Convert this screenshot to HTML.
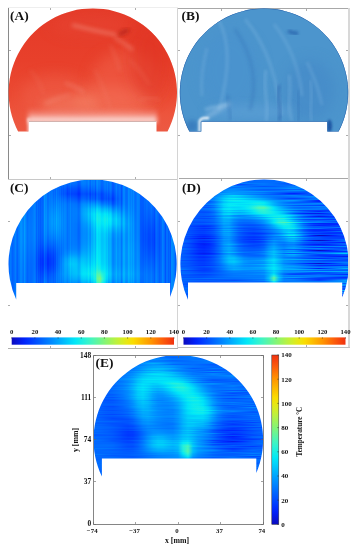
<!DOCTYPE html><html><head><meta charset="utf-8"><style>
html,body{margin:0;padding:0;background:#fff;width:359px;height:550px;overflow:hidden;position:relative}
svg{display:block;position:absolute;left:0;top:0}
.p{position:absolute;left:0;top:0;width:359px;height:550px}
.p i{position:absolute;display:block}
text{font-family:"Liberation Serif","Times New Roman",serif;font-weight:bold;fill:#111}
</style></head><body>
<div class="p" style="clip-path:path('M16.2,299.46 A84.1,84.6 0 1 1 170.1,296.95 L170.1,283 L16.2,283 Z')"><i style="left:8px;top:179px;height:122px;width:1px;background:linear-gradient(#0061ff 0px,#0061ff 5px,#0061ff 10px,#0061ff 15px,#0061ff 20px,#0061ff 25px,#0062ff 30px,#0062ff 35px,#0062ff 40px,#0063ff 45px,#0063ff 50px,#0063ff 55px,#0063ff 60px,#0063ff 65px,#0062ff 70px,#0062ff 75px,#0062ff 80px,#0062ff 85px,#0061ff 90px,#0061ff 95px,#0061ff 100px,#0061ff 105px,#0061ff 110px,#0061ff 115px,#0061ff 120px)"></i><i style="left:9px;top:179px;height:122px;width:1px;background:linear-gradient(#006cff 0px,#006cff 5px,#006cff 10px,#006cff 15px,#006cff 20px,#006dff 25px,#006dff 30px,#006dff 35px,#006eff 40px,#006eff 45px,#006eff 50px,#006eff 55px,#006eff 60px,#006eff 65px,#006eff 70px,#006dff 75px,#006dff 80px,#006dff 85px,#006cff 90px,#006cff 95px,#006cff 100px,#006cff 105px,#006cff 110px,#006cff 115px,#006cff 120px)"></i><i style="left:10px;top:179px;height:122px;width:1px;background:linear-gradient(#0078ff 0px,#0078ff 5px,#0078ff 10px,#0078ff 15px,#0079ff 20px,#0079ff 25px,#007aff 30px,#007aff 35px,#007bff 40px,#007bff 45px,#007bff 50px,#007bff 55px,#007bff 60px,#007bff 65px,#007bff 70px,#007aff 75px,#007aff 80px,#0079ff 85px,#0079ff 90px,#0079ff 95px,#0078ff 100px,#0078ff 105px,#0078ff 110px,#0078ff 115px,#0078ff 120px)"></i><i style="left:11px;top:179px;height:122px;width:1px;background:linear-gradient(#006eff 0px,#006eff 5px,#006eff 10px,#006eff 15px,#006eff 20px,#006fff 25px,#006fff 30px,#0070ff 35px,#0071ff 40px,#0071ff 45px,#0072ff 50px,#0072ff 55px,#0072ff 60px,#0071ff 65px,#0071ff 70px,#0070ff 75px,#0070ff 80px,#006fff 85px,#006fff 90px,#006eff 95px,#006eff 100px,#006eff 105px,#006eff 110px,#006eff 115px,#006eff 120px)"></i><i style="left:12px;top:179px;height:122px;width:1px;background:linear-gradient(#005fff 0px,#005fff 5px,#0060ff 10px,#0060ff 15px,#0060ff 20px,#0061ff 25px,#0061ff 30px,#0062ff 35px,#0063ff 40px,#0064ff 45px,#0064ff 50px,#0064ff 55px,#0064ff 60px,#0064ff 65px,#0063ff 70px,#0063ff 75px,#0062ff 80px,#0061ff 85px,#0060ff 90px,#0060ff 95px,#0060ff 100px,#005fff 105px,#005fff 110px,#005fff 115px,#005fff 120px)"></i><i style="left:13px;top:179px;height:122px;width:1px;background:linear-gradient(#0066ff 0px,#0066ff 5px,#0066ff 10px,#0067ff 15px,#0067ff 20px,#0068ff 25px,#0069ff 30px,#006aff 35px,#006bff 40px,#006bff 45px,#006cff 50px,#006cff 55px,#006cff 60px,#006cff 65px,#006bff 70px,#006aff 75px,#0069ff 80px,#0068ff 85px,#0068ff 90px,#0067ff 95px,#0067ff 100px,#0066ff 105px,#0066ff 110px,#0066ff 115px,#0066ff 120px)"></i><i style="left:14px;top:179px;height:122px;width:1px;background:linear-gradient(#0070ff 0px,#0070ff 5px,#0070ff 10px,#0070ff 15px,#0071ff 20px,#0072ff 25px,#0073ff 30px,#0074ff 35px,#0075ff 40px,#0076ff 45px,#0077ff 50px,#0077ff 55px,#0077ff 60px,#0076ff 65px,#0075ff 70px,#0074ff 75px,#0073ff 80px,#0072ff 85px,#0071ff 90px,#0071ff 95px,#0070ff 100px,#0070ff 105px,#0070ff 110px,#0070ff 115px,#0070ff 120px)"></i><i style="left:15px;top:179px;height:122px;width:1px;background:linear-gradient(#007bff 0px,#007bff 5px,#007cff 10px,#007cff 15px,#007dff 20px,#007eff 25px,#007fff 30px,#0080ff 35px,#0081ff 40px,#0083ff 45px,#0083ff 50px,#0084ff 55px,#0084ff 60px,#0083ff 65px,#0082ff 70px,#0081ff 75px,#007fff 80px,#007eff 85px,#007dff 90px,#007cff 95px,#007cff 100px,#007bff 105px,#007bff 110px,#007bff 115px,#007bff 120px)"></i><i style="left:16px;top:179px;height:122px;width:1px;background:linear-gradient(#0067ff 0px,#0068ff 5px,#0068ff 10px,#0068ff 15px,#0069ff 20px,#006aff 25px,#006cff 30px,#006dff 35px,#006fff 40px,#0070ff 45px,#0071ff 50px,#0071ff 55px,#0071ff 60px,#0070ff 65px,#006fff 70px,#006eff 75px,#006cff 80px,#006bff 85px,#006aff 90px,#0069ff 95px,#0068ff 100px,#0068ff 105px,#0067ff 110px,#0067ff 115px,#0067ff 120px)"></i><i style="left:17px;top:179px;height:122px;width:1px;background:linear-gradient(#005dff 0px,#005dff 5px,#005dff 10px,#005eff 15px,#005fff 20px,#0060ff 25px,#0061ff 30px,#0063ff 35px,#0065ff 40px,#0066ff 45px,#0067ff 50px,#0068ff 55px,#0068ff 60px,#0067ff 65px,#0065ff 70px,#0064ff 75px,#0062ff 80px,#0060ff 85px,#005fff 90px,#005eff 95px,#005dff 100px,#005dff 105px,#005dff 110px,#005dff 115px,#005dff 120px)"></i><i style="left:18px;top:179px;height:122px;width:1px;background:linear-gradient(#006dff 0px,#006eff 5px,#006eff 10px,#006fff 15px,#0070ff 20px,#0071ff 25px,#0073ff 30px,#0075ff 35px,#0076ff 40px,#0078ff 45px,#0079ff 50px,#007aff 55px,#007aff 60px,#0079ff 65px,#0077ff 70px,#0075ff 75px,#0073ff 80px,#0072ff 85px,#0070ff 90px,#006fff 95px,#006eff 100px,#006eff 105px,#006eff 110px,#006dff 115px,#006dff 120px)"></i><i style="left:19px;top:179px;height:122px;width:1px;background:linear-gradient(#0073ff 0px,#0074ff 5px,#0074ff 10px,#0075ff 15px,#0076ff 20px,#0077ff 25px,#0079ff 30px,#007bff 35px,#007dff 40px,#007fff 45px,#0080ff 50px,#0081ff 55px,#0081ff 60px,#0080ff 65px,#007eff 70px,#007cff 75px,#007aff 80px,#0078ff 85px,#0076ff 90px,#0075ff 95px,#0074ff 100px,#0074ff 105px,#0073ff 110px,#0073ff 115px,#0073ff 120px)"></i><i style="left:20px;top:179px;height:122px;width:1px;background:linear-gradient(#0082ff 0px,#0082ff 5px,#0083ff 10px,#0084ff 15px,#0085ff 20px,#0086ff 25px,#0088ff 30px,#008aff 35px,#008dff 40px,#008fff 45px,#0090ff 50px,#0091ff 55px,#0090ff 60px,#008fff 65px,#008dff 70px,#008bff 75px,#0089ff 80px,#0087ff 85px,#0085ff 90px,#0084ff 95px,#0083ff 100px,#0082ff 105px,#0082ff 110px,#0082ff 115px,#0082ff 120px)"></i><i style="left:21px;top:179px;height:122px;width:1px;background:linear-gradient(#0083ff 0px,#0083ff 5px,#0084ff 10px,#0085ff 15px,#0086ff 20px,#0088ff 25px,#008aff 30px,#008cff 35px,#008fff 40px,#0091ff 45px,#0092ff 50px,#0093ff 55px,#0093ff 60px,#0091ff 65px,#008fff 70px,#008dff 75px,#008aff 80px,#0088ff 85px,#0086ff 90px,#0085ff 95px,#0084ff 100px,#0084ff 105px,#0083ff 110px,#0083ff 115px,#0083ff 120px)"></i><i style="left:22px;top:179px;height:122px;width:1px;background:linear-gradient(#0078ff 0px,#0078ff 5px,#0079ff 10px,#007aff 15px,#007bff 20px,#007dff 25px,#007fff 30px,#0081ff 35px,#0084ff 40px,#0086ff 45px,#0088ff 50px,#0088ff 55px,#0088ff 60px,#0087ff 65px,#0084ff 70px,#0082ff 75px,#007fff 80px,#007dff 85px,#007bff 90px,#007aff 95px,#0079ff 100px,#0078ff 105px,#0078ff 110px,#0078ff 115px,#0078ff 120px)"></i><i style="left:23px;top:179px;height:122px;width:1px;background:linear-gradient(#0070ff 0px,#0071ff 5px,#0071ff 10px,#0072ff 15px,#0073ff 20px,#0075ff 25px,#0077ff 30px,#007aff 35px,#007dff 40px,#007fff 45px,#0080ff 50px,#0081ff 55px,#0081ff 60px,#007fff 65px,#007dff 70px,#007aff 75px,#0078ff 80px,#0075ff 85px,#0074ff 90px,#0072ff 95px,#0071ff 100px,#0071ff 105px,#0070ff 110px,#0070ff 115px,#0070ff 120px)"></i><i style="left:24px;top:179px;height:122px;width:1px;background:linear-gradient(#008cff 0px,#008cff 5px,#008dff 10px,#008eff 15px,#008fff 20px,#0091ff 25px,#0093ff 30px,#0096ff 35px,#0099ff 40px,#009bff 45px,#009dfe 50px,#009efe 55px,#009dfe 60px,#009cff 65px,#0099ff 70px,#0096ff 75px,#0093ff 80px,#0091ff 85px,#008fff 90px,#008eff 95px,#008dff 100px,#008cff 105px,#008cff 110px,#008cff 115px,#008cff 120px)"></i><i style="left:25px;top:179px;height:122px;width:1px;background:linear-gradient(#007aff 0px,#007aff 5px,#007bff 10px,#007cff 15px,#007dff 20px,#007fff 25px,#0081ff 30px,#0084ff 35px,#0087ff 40px,#0089ff 45px,#008bff 50px,#008bff 55px,#008bff 60px,#0089ff 65px,#0087ff 70px,#0084ff 75px,#0081ff 80px,#007fff 85px,#007dff 90px,#007cff 95px,#007bff 100px,#007aff 105px,#007aff 110px,#007aff 115px,#007aff 120px)"></i><i style="left:26px;top:179px;height:122px;width:1px;background:linear-gradient(#006cff 0px,#006cff 5px,#006dff 10px,#006dff 15px,#006fff 20px,#0071ff 25px,#0073ff 30px,#0075ff 35px,#0078ff 40px,#007aff 45px,#007cff 50px,#007dff 55px,#007cff 60px,#007bff 65px,#0078ff 70px,#0075ff 75px,#0072ff 80px,#0070ff 85px,#006eff 90px,#006dff 95px,#006cff 100px,#006cff 105px,#006cff 110px,#006cff 115px,#006bff 120px)"></i><i style="left:27px;top:179px;height:122px;width:1px;background:linear-gradient(#0061ff 0px,#0061ff 5px,#0061ff 10px,#0062ff 15px,#0064ff 20px,#0065ff 25px,#0067ff 30px,#006aff 35px,#006cff 40px,#006fff 45px,#0070ff 50px,#0071ff 55px,#0070ff 60px,#006fff 65px,#006cff 70px,#0069ff 75px,#0066ff 80px,#0064ff 85px,#0062ff 90px,#0062ff 95px,#0061ff 100px,#0061ff 105px,#0061ff 110px,#0060ff 115px,#0060ff 120px)"></i><i style="left:28px;top:179px;height:122px;width:1px;background:linear-gradient(#0069ff 0px,#0069ff 5px,#0069ff 10px,#006aff 15px,#006cff 20px,#006dff 25px,#006fff 30px,#0072ff 35px,#0074ff 40px,#0076ff 45px,#0078ff 50px,#0078ff 55px,#0078ff 60px,#0076ff 65px,#0073ff 70px,#0070ff 75px,#006dff 80px,#006bff 85px,#006aff 90px,#0069ff 95px,#0069ff 100px,#0069ff 105px,#0069ff 110px,#0068ff 115px,#0068ff 120px)"></i><i style="left:29px;top:179px;height:122px;width:1px;background:linear-gradient(#006dff 0px,#006eff 5px,#006eff 10px,#006fff 15px,#0070ff 20px,#0071ff 25px,#0073ff 30px,#0076ff 35px,#0078ff 40px,#007aff 45px,#007bff 50px,#007cff 55px,#007bff 60px,#0079ff 65px,#0076ff 70px,#0073ff 75px,#0070ff 80px,#006eff 85px,#006dff 90px,#006dff 95px,#006dff 100px,#006dff 105px,#006dff 110px,#006dff 115px,#006dff 120px)"></i><i style="left:30px;top:179px;height:122px;width:1px;background:linear-gradient(#006aff 0px,#006aff 5px,#006bff 10px,#006cff 15px,#006dff 20px,#006eff 25px,#0070ff 30px,#0072ff 35px,#0074ff 40px,#0076ff 45px,#0077ff 50px,#0077ff 55px,#0077ff 60px,#0075ff 65px,#0072ff 70px,#006eff 75px,#006bff 80px,#0069ff 85px,#0069ff 90px,#0069ff 95px,#0069ff 100px,#006aff 105px,#006aff 110px,#006aff 115px,#006aff 120px)"></i><i style="left:31px;top:179px;height:122px;width:1px;background:linear-gradient(#006cff 0px,#006cff 5px,#006cff 10px,#006dff 15px,#006eff 20px,#006fff 25px,#0071ff 30px,#0073ff 35px,#0075ff 40px,#0076ff 45px,#0077ff 50px,#0078ff 55px,#0077ff 60px,#0074ff 65px,#0071ff 70px,#006eff 75px,#006aff 80px,#0069ff 85px,#0068ff 90px,#0069ff 95px,#006aff 100px,#006bff 105px,#006bff 110px,#006bff 115px,#006bff 120px)"></i><i style="left:32px;top:179px;height:122px;width:1px;background:linear-gradient(#0070ff 0px,#0070ff 5px,#0071ff 10px,#0071ff 15px,#0072ff 20px,#0073ff 25px,#0075ff 30px,#0076ff 35px,#0078ff 40px,#007aff 45px,#007bff 50px,#007bff 55px,#007aff 60px,#0077ff 65px,#0074ff 70px,#0070ff 75px,#006cff 80px,#006bff 85px,#006bff 90px,#006cff 95px,#006eff 100px,#006fff 105px,#006fff 110px,#0070ff 115px,#0070ff 120px)"></i><i style="left:33px;top:179px;height:122px;width:1px;background:linear-gradient(#0077ff 0px,#0077ff 5px,#0077ff 10px,#0078ff 15px,#0079ff 20px,#007aff 25px,#007bff 30px,#007dff 35px,#007eff 40px,#007fff 45px,#0080ff 50px,#0080ff 55px,#007fff 60px,#007cff 65px,#0078ff 70px,#0074ff 75px,#0070ff 80px,#006fff 85px,#0070ff 90px,#0072ff 95px,#0074ff 100px,#0075ff 105px,#0076ff 110px,#0077ff 115px,#0077ff 120px)"></i><i style="left:34px;top:179px;height:122px;width:1px;background:linear-gradient(#007fff 0px,#007fff 5px,#007fff 10px,#0080ff 15px,#0080ff 20px,#0081ff 25px,#0083ff 30px,#0084ff 35px,#0085ff 40px,#0086ff 45px,#0087ff 50px,#0087ff 55px,#0085ff 60px,#0082ff 65px,#007dff 70px,#0078ff 75px,#0075ff 80px,#0073ff 85px,#0075ff 90px,#0078ff 95px,#007bff 100px,#007dff 105px,#007eff 110px,#007eff 115px,#007fff 120px)"></i><i style="left:35px;top:179px;height:122px;width:1px;background:linear-gradient(#0079ff 0px,#0079ff 5px,#0079ff 10px,#007aff 15px,#007aff 20px,#007bff 25px,#007cff 30px,#007dff 35px,#007eff 40px,#007fff 45px,#0080ff 50px,#007fff 55px,#007dff 60px,#007aff 65px,#0075ff 70px,#006fff 75px,#006bff 80px,#006aff 85px,#006cff 90px,#0070ff 95px,#0074ff 100px,#0076ff 105px,#0078ff 110px,#0078ff 115px,#0079ff 120px)"></i><i style="left:36px;top:179px;height:122px;width:1px;background:linear-gradient(#0060ff 0px,#0060ff 5px,#0060ff 10px,#0061ff 15px,#0061ff 20px,#0062ff 25px,#0063ff 30px,#0064ff 35px,#0065ff 40px,#0065ff 45px,#0066ff 50px,#0065ff 55px,#0063ff 60px,#005eff 65px,#0058ff 70px,#0052ff 75px,#004eff 80px,#004cff 85px,#004fff 90px,#0055ff 95px,#0059ff 100px,#005cff 105px,#005eff 110px,#005fff 115px,#0060ff 120px)"></i><i style="left:37px;top:179px;height:122px;width:1px;background:linear-gradient(#006fff 0px,#006fff 5px,#006fff 10px,#0070ff 15px,#0070ff 20px,#0071ff 25px,#0071ff 30px,#0072ff 35px,#0073ff 40px,#0074ff 45px,#0074ff 50px,#0073ff 55px,#0070ff 60px,#006bff 65px,#0064ff 70px,#005dff 75px,#0058ff 80px,#0057ff 85px,#005bff 90px,#0061ff 95px,#0067ff 100px,#006bff 105px,#006dff 110px,#006eff 115px,#006fff 120px)"></i><i style="left:38px;top:179px;height:122px;width:1px;background:linear-gradient(#005fff 0px,#005fff 5px,#005fff 10px,#0060ff 15px,#0060ff 20px,#0061ff 25px,#0061ff 30px,#0062ff 35px,#0063ff 40px,#0063ff 45px,#0063ff 50px,#0062ff 55px,#005fff 60px,#0059ff 65px,#0051ff 70px,#0049ff 75px,#0043ff 80px,#0042ff 85px,#0047ff 90px,#004fff 95px,#0055ff 100px,#005aff 105px,#005dff 110px,#005eff 115px,#005fff 120px)"></i><i style="left:39px;top:179px;height:122px;width:1px;background:linear-gradient(#0065ff 0px,#0065ff 5px,#0065ff 10px,#0065ff 15px,#0066ff 20px,#0066ff 25px,#0067ff 30px,#0068ff 35px,#0069ff 40px,#0069ff 45px,#0069ff 50px,#0067ff 55px,#0063ff 60px,#005dff 65px,#0054ff 70px,#004bff 75px,#0044ff 80px,#0043ff 85px,#0049ff 90px,#0052ff 95px,#005aff 100px,#005fff 105px,#0062ff 110px,#0064ff 115px,#0064ff 120px)"></i><i style="left:40px;top:179px;height:122px;width:1px;background:linear-gradient(#0059ff 0px,#0059ff 5px,#005aff 10px,#005aff 15px,#005aff 20px,#005bff 25px,#005cff 30px,#005dff 35px,#005dff 40px,#005eff 45px,#005dff 50px,#005bff 55px,#0057ff 60px,#004fff 65px,#0045ff 70px,#003bff 75px,#0033ff 80px,#0033ff 85px,#0039ff 90px,#0044ff 95px,#004dff 100px,#0053ff 105px,#0056ff 110px,#0058ff 115px,#0059ff 120px)"></i><i style="left:41px;top:179px;height:122px;width:1px;background:linear-gradient(#0064ff 0px,#0064ff 5px,#0064ff 10px,#0065ff 15px,#0065ff 20px,#0066ff 25px,#0067ff 30px,#0068ff 35px,#0069ff 40px,#0069ff 45px,#0068ff 50px,#0065ff 55px,#0060ff 60px,#0058ff 65px,#004dff 70px,#0042ff 75px,#0039ff 80px,#0039ff 85px,#0040ff 90px,#004cff 95px,#0056ff 100px,#005dff 105px,#0060ff 110px,#0063ff 115px,#0063ff 120px)"></i><i style="left:42px;top:179px;height:122px;width:1px;background:linear-gradient(#0061ff 0px,#0061ff 5px,#0061ff 10px,#0061ff 15px,#0062ff 20px,#0063ff 25px,#0064ff 30px,#0066ff 35px,#0066ff 40px,#0067ff 45px,#0065ff 50px,#0062ff 55px,#005dff 60px,#0053ff 65px,#0047ff 70px,#003aff 75px,#0032ff 80px,#0031ff 85px,#0039ff 90px,#0046ff 95px,#0051ff 100px,#0059ff 105px,#005dff 110px,#005fff 115px,#0060ff 120px)"></i><i style="left:43px;top:179px;height:122px;width:1px;background:linear-gradient(#006aff 0px,#006aff 5px,#006aff 10px,#006bff 15px,#006cff 20px,#006dff 25px,#006fff 30px,#0070ff 35px,#0071ff 40px,#0071ff 45px,#0070ff 50px,#006cff 55px,#0066ff 60px,#005cff 65px,#004eff 70px,#0040ff 75px,#0037ff 80px,#0036ff 85px,#0040ff 90px,#004eff 95px,#005aff 100px,#0061ff 105px,#0066ff 110px,#0068ff 115px,#0069ff 120px)"></i><i style="left:44px;top:179px;height:122px;width:1px;background:linear-gradient(#0091ff 0px,#0091ff 5px,#0091ff 10px,#0092ff 15px,#0093ff 20px,#0095ff 25px,#0097ff 30px,#0099ff 35px,#009bff 40px,#009bff 45px,#0099ff 50px,#0094ff 55px,#008dff 60px,#0082ff 65px,#0073ff 70px,#0065ff 75px,#005bff 80px,#005aff 85px,#0064ff 90px,#0073ff 95px,#0080ff 100px,#0088ff 105px,#008cff 110px,#008fff 115px,#0090ff 120px)"></i><i style="left:45px;top:179px;height:122px;width:1px;background:linear-gradient(#007fff 0px,#007fff 5px,#0080ff 10px,#0081ff 15px,#0082ff 20px,#0085ff 25px,#0087ff 30px,#008aff 35px,#008cff 40px,#008cff 45px,#0089ff 50px,#0084ff 55px,#007cff 60px,#0070ff 65px,#0061ff 70px,#0051ff 75px,#0047ff 80px,#0046ff 85px,#0051ff 90px,#0060ff 95px,#006eff 100px,#0076ff 105px,#007bff 110px,#007dff 115px,#007eff 120px)"></i><i style="left:46px;top:179px;height:122px;width:1px;background:linear-gradient(#0080ff 0px,#0080ff 5px,#0081ff 10px,#0082ff 15px,#0084ff 20px,#0087ff 25px,#008bff 30px,#008eff 35px,#0090ff 40px,#0090ff 45px,#008dff 50px,#0088ff 55px,#007eff 60px,#0071ff 65px,#0061ff 70px,#0051ff 75px,#0046ff 80px,#0046ff 85px,#0051ff 90px,#0061ff 95px,#006eff 100px,#0077ff 105px,#007cff 110px,#007eff 115px,#007fff 120px)"></i><i style="left:47px;top:179px;height:122px;width:1px;background:linear-gradient(#0069ff 0px,#0069ff 5px,#006aff 10px,#006bff 15px,#006eff 20px,#0071ff 25px,#0076ff 30px,#007aff 35px,#007cff 40px,#007cff 45px,#0079ff 50px,#0073ff 55px,#0069ff 60px,#005bff 65px,#004aff 70px,#0038ff 75px,#002dff 80px,#002dff 85px,#0038ff 90px,#004aff 95px,#0057ff 100px,#005fff 105px,#0064ff 110px,#0067ff 115px,#0068ff 120px)"></i><i style="left:48px;top:179px;height:122px;width:1px;background:linear-gradient(#0068ff 0px,#0069ff 5px,#006aff 10px,#006bff 15px,#006fff 20px,#0073ff 25px,#0078ff 30px,#007dff 35px,#0080ff 40px,#0080ff 45px,#007dff 50px,#0075ff 55px,#006aff 60px,#005cff 65px,#004aff 70px,#0039ff 75px,#002dff 80px,#002dff 85px,#0039ff 90px,#004aff 95px,#0058ff 100px,#005fff 105px,#0064ff 110px,#0067ff 115px,#0068ff 120px)"></i><i style="left:49px;top:179px;height:122px;width:1px;background:linear-gradient(#0073ff 0px,#0073ff 5px,#0074ff 10px,#0076ff 15px,#007aff 20px,#007fff 25px,#0086ff 30px,#008bff 35px,#008fff 40px,#008fff 45px,#008bff 50px,#0083ff 55px,#0077ff 60px,#0067ff 65px,#0056ff 70px,#0044ff 75px,#0039ff 80px,#0039ff 85px,#0045ff 90px,#0056ff 95px,#0063ff 100px,#006aff 105px,#006eff 110px,#0071ff 115px,#0072ff 120px)"></i><i style="left:50px;top:179px;height:122px;width:1px;background:linear-gradient(#0070ff 0px,#0070ff 5px,#0071ff 10px,#0073ff 15px,#0078ff 20px,#007eff 25px,#0085ff 30px,#008cff 35px,#0090ff 40px,#0090ff 45px,#008cff 50px,#0083ff 55px,#0076ff 60px,#0066ff 65px,#0054ff 70px,#0043ff 75px,#0039ff 80px,#0039ff 85px,#0044ff 90px,#0056ff 95px,#0062ff 100px,#0068ff 105px,#006bff 110px,#006eff 115px,#006fff 120px)"></i><i style="left:51px;top:179px;height:122px;width:1px;background:linear-gradient(#0073ff 0px,#0074ff 5px,#0074ff 10px,#0077ff 15px,#007cff 20px,#0083ff 25px,#008bff 30px,#0093ff 35px,#0098ff 40px,#0098ff 45px,#0093ff 50px,#0089ff 55px,#007cff 60px,#006cff 65px,#005aff 70px,#004aff 75px,#0040ff 80px,#0040ff 85px,#004bff 90px,#005cff 95px,#0067ff 100px,#006cff 105px,#006fff 110px,#0071ff 115px,#0073ff 120px)"></i><i style="left:52px;top:179px;height:122px;width:1px;background:linear-gradient(#0072ff 0px,#0072ff 5px,#0072ff 10px,#0075ff 15px,#007bff 20px,#0083ff 25px,#008cff 30px,#0094ff 35px,#009aff 40px,#009aff 45px,#0094ff 50px,#008aff 55px,#007dff 60px,#006dff 65px,#005bff 70px,#004cff 75px,#0043ff 80px,#0043ff 85px,#004eff 90px,#005eff 95px,#0068ff 100px,#006cff 105px,#006eff 110px,#0070ff 115px,#0071ff 120px)"></i><i style="left:53px;top:179px;height:122px;width:1px;background:linear-gradient(#0065ff 0px,#0065ff 5px,#0065ff 10px,#0067ff 15px,#006fff 20px,#0078ff 25px,#0081ff 30px,#0089ff 35px,#008fff 40px,#008fff 45px,#008aff 50px,#007fff 55px,#0072ff 60px,#0062ff 65px,#0051ff 70px,#0043ff 75px,#003bff 80px,#003bff 85px,#0046ff 90px,#0055ff 95px,#005eff 100px,#0060ff 105px,#0062ff 110px,#0064ff 115px,#0065ff 120px)"></i><i style="left:54px;top:179px;height:122px;width:1px;background:linear-gradient(#0070ff 0px,#0070ff 5px,#006eff 10px,#0071ff 15px,#0079ff 20px,#0083ff 25px,#008dff 30px,#0095ff 35px,#009bff 40px,#009cff 45px,#0096ff 50px,#008cff 55px,#007eff 60px,#006eff 65px,#005fff 70px,#0052ff 75px,#004bff 80px,#004dff 85px,#0056ff 90px,#0064ff 95px,#006cff 100px,#006cff 105px,#006dff 110px,#006fff 115px,#006fff 120px)"></i><i style="left:55px;top:179px;height:122px;width:1px;background:linear-gradient(#0066ff 0px,#0065ff 5px,#0063ff 10px,#0065ff 15px,#006fff 20px,#0079ff 25px,#0083ff 30px,#008cff 35px,#0091ff 40px,#0092ff 45px,#008cff 50px,#0082ff 55px,#0075ff 60px,#0066ff 65px,#0058ff 70px,#004cff 75px,#0048ff 80px,#0049ff 85px,#0052ff 90px,#005fff 95px,#0065ff 100px,#0064ff 105px,#0064ff 110px,#0065ff 115px,#0066ff 120px)"></i><i style="left:56px;top:179px;height:122px;width:1px;background:linear-gradient(#007fff 0px,#007dff 5px,#007aff 10px,#007cff 15px,#0086ff 20px,#0091ff 25px,#009bff 30px,#00a4fe 35px,#00aafd 40px,#00aafd 45px,#00a5fe 50px,#009bff 55px,#008eff 60px,#0080ff 65px,#0073ff 70px,#006aff 75px,#0067ff 80px,#0069ff 85px,#0071ff 90px,#007dff 95px,#0081ff 100px,#007eff 105px,#007dff 110px,#007eff 115px,#007fff 120px)"></i><i style="left:57px;top:179px;height:122px;width:1px;background:linear-gradient(#0071ff 0px,#006fff 5px,#0069ff 10px,#006bff 15px,#0076ff 20px,#0082ff 25px,#008bff 30px,#0094ff 35px,#0099ff 40px,#0099ff 45px,#0094ff 50px,#008bff 55px,#0080ff 60px,#0073ff 65px,#0068ff 70px,#0061ff 75px,#0060ff 80px,#0062ff 85px,#006aff 90px,#0074ff 95px,#0076ff 100px,#0072ff 105px,#0070ff 110px,#0070ff 115px,#0071ff 120px)"></i><i style="left:58px;top:179px;height:122px;width:1px;background:linear-gradient(#0077ff 0px,#0074ff 5px,#006cff 10px,#006dff 15px,#007aff 20px,#0087ff 25px,#0090ff 30px,#0097ff 35px,#009cfe 40px,#009cfe 45px,#0098ff 50px,#008fff 55px,#0085ff 60px,#007aff 65px,#0070ff 70px,#006bff 75px,#006dff 80px,#0070ff 85px,#0076ff 90px,#007fff 95px,#007fff 100px,#007aff 105px,#0077ff 110px,#0077ff 115px,#0077ff 120px)"></i><i style="left:59px;top:179px;height:122px;width:1px;background:linear-gradient(#0073ff 0px,#006fff 5px,#0065ff 10px,#0064ff 15px,#0073ff 20px,#0080ff 25px,#0088ff 30px,#008fff 35px,#0093ff 40px,#0094ff 45px,#0090ff 50px,#0089ff 55px,#007fff 60px,#0076ff 65px,#006eff 70px,#006bff 75px,#0070ff 80px,#0073ff 85px,#0078ff 90px,#007fff 95px,#007eff 100px,#0077ff 105px,#0073ff 110px,#0072ff 115px,#0073ff 120px)"></i><i style="left:60px;top:179px;height:122px;width:1px;background:linear-gradient(#007bff 0px,#0076ff 5px,#0069ff 10px,#0068ff 15px,#0079ff 20px,#0086ff 25px,#008eff 30px,#0094ff 35px,#0098ff 40px,#0098ff 45px,#0094ff 50px,#008eff 55px,#0086ff 60px,#007eff 65px,#0078ff 70px,#0078ff 75px,#007fff 80px,#0083ff 85px,#0087ff 90px,#008cff 95px,#0089ff 100px,#0080ff 105px,#007bff 110px,#007bff 115px,#007bff 120px)"></i><i style="left:61px;top:179px;height:122px;width:1px;background:linear-gradient(#006dff 0px,#0068ff 5px,#0059ff 10px,#0056ff 15px,#0069ff 20px,#0077ff 25px,#007eff 30px,#0083ff 35px,#0086ff 40px,#0086ff 45px,#0083ff 50px,#007eff 55px,#0078ff 60px,#0071ff 65px,#006cff 70px,#006fff 75px,#0079ff 80px,#007eff 85px,#0080ff 90px,#0084ff 95px,#007fff 100px,#0074ff 105px,#006fff 110px,#006eff 115px,#006eff 120px)"></i><i style="left:62px;top:179px;height:122px;width:1px;background:linear-gradient(#0079ff 0px,#0072ff 5px,#0060ff 10px,#005dff 15px,#0071ff 20px,#0080ff 25px,#0086ff 30px,#008bff 35px,#008dff 40px,#008dff 45px,#008bff 50px,#0087ff 55px,#0081ff 60px,#007cff 65px,#0079ff 70px,#007eff 75px,#008bff 80px,#0091ff 85px,#0091ff 90px,#0094ff 95px,#008dff 100px,#0081ff 105px,#007aff 110px,#0079ff 115px,#0079ff 120px)"></i><i style="left:63px;top:179px;height:122px;width:1px;background:linear-gradient(#0072ff 0px,#006aff 5px,#0056ff 10px,#0052ff 15px,#0067ff 20px,#0077ff 25px,#007dff 30px,#0080ff 35px,#0082ff 40px,#0082ff 45px,#0081ff 50px,#007dff 55px,#0079ff 60px,#0075ff 65px,#0074ff 70px,#007bff 75px,#008bff 80px,#0092ff 85px,#0090ff 90px,#0091ff 95px,#0089ff 100px,#007bff 105px,#0074ff 110px,#0073ff 115px,#0072ff 120px)"></i><i style="left:64px;top:179px;height:122px;width:1px;background:linear-gradient(#007dff 0px,#0075ff 5px,#0060ff 10px,#005aff 15px,#0070ff 20px,#0081ff 25px,#0087ff 30px,#0089ff 35px,#008bff 40px,#008bff 45px,#0089ff 50px,#0087ff 55px,#0083ff 60px,#0081ff 65px,#0081ff 70px,#008bff 75px,#009dfe 80px,#00a5fe 85px,#00a3fe 90px,#00a2fe 95px,#0098ff 100px,#0089ff 105px,#0080ff 110px,#007fff 115px,#007eff 120px)"></i><i style="left:65px;top:179px;height:122px;width:1px;background:linear-gradient(#007cff 0px,#0073ff 5px,#005cff 10px,#0055ff 15px,#006dff 20px,#007eff 25px,#0084ff 30px,#0086ff 35px,#0087ff 40px,#0087ff 45px,#0086ff 50px,#0084ff 55px,#0081ff 60px,#007fff 65px,#0081ff 70px,#008dff 75px,#00a3fe 80px,#00abfd 85px,#00a7fe 90px,#00a5fe 95px,#009aff 100px,#0089ff 105px,#0080ff 110px,#007eff 115px,#007dff 120px)"></i><i style="left:66px;top:179px;height:122px;width:1px;background:linear-gradient(#0076ff 0px,#006dff 5px,#0055ff 10px,#004cff 15px,#0065ff 20px,#0077ff 25px,#007cff 30px,#007eff 35px,#007fff 40px,#007fff 45px,#007eff 50px,#007cff 55px,#007aff 60px,#0079ff 65px,#007cff 70px,#008aff 75px,#00a3fe 80px,#00acfd 85px,#00a7fe 90px,#00a3fe 95px,#0096ff 100px,#0084ff 105px,#007aff 110px,#0078ff 115px,#0077ff 120px)"></i><i style="left:67px;top:179px;height:122px;width:1px;background:linear-gradient(#0069ff 0px,#0060ff 5px,#0046ff 10px,#003cff 15px,#0056ff 20px,#0069ff 25px,#006eff 30px,#006fff 35px,#0070ff 40px,#006fff 45px,#006fff 50px,#006eff 55px,#006dff 60px,#006cff 65px,#0070ff 70px,#0080ff 75px,#009aff 80px,#00a4fe 85px,#009efe 90px,#0099ff 95px,#008cff 100px,#0078ff 105px,#006dff 110px,#006bff 115px,#006aff 120px)"></i><i style="left:68px;top:179px;height:122px;width:1px;background:linear-gradient(#0074ff 0px,#006aff 5px,#0050ff 10px,#0045ff 15px,#005fff 20px,#0073ff 25px,#0078ff 30px,#0079ff 35px,#0079ff 40px,#0079ff 45px,#0078ff 50px,#0077ff 55px,#0077ff 60px,#0077ff 65px,#007bff 70px,#008dff 75px,#00aafd 80px,#00b5fc 85px,#00aefd 90px,#00a8fd 95px,#0099ff 100px,#0084ff 105px,#0078ff 110px,#0076ff 115px,#0075ff 120px)"></i><i style="left:69px;top:179px;height:122px;width:1px;background:linear-gradient(#0076ff 0px,#006cff 5px,#0051ff 10px,#0046ff 15px,#0060ff 20px,#0074ff 25px,#0079ff 30px,#007aff 35px,#007aff 40px,#007aff 45px,#0079ff 50px,#0079ff 55px,#0078ff 60px,#0079ff 65px,#007eff 70px,#0092ff 75px,#00b0fd 80px,#00bcfc 85px,#00b4fc 90px,#00aefd 95px,#009efe 100px,#0087ff 105px,#007bff 110px,#0078ff 115px,#0077ff 120px)"></i><i style="left:70px;top:179px;height:122px;width:1px;background:linear-gradient(#0084ff 0px,#007aff 5px,#005fff 10px,#0053ff 15px,#006dff 20px,#0082ff 25px,#0087ff 30px,#0088ff 35px,#0088ff 40px,#0087ff 45px,#0087ff 50px,#0086ff 55px,#0086ff 60px,#0087ff 65px,#008dff 70px,#00a2fe 75px,#00c3fb 80px,#00cffa 85px,#00c7fb 90px,#00c0fb 95px,#00affd 100px,#0096ff 105px,#0089ff 110px,#0086ff 115px,#0085ff 120px)"></i><i style="left:71px;top:179px;height:122px;width:1px;background:linear-gradient(#0074ff 0px,#006bff 5px,#0050ff 10px,#0042ff 15px,#005cff 20px,#0072ff 25px,#0078ff 30px,#0079ff 35px,#0078ff 40px,#0077ff 45px,#0077ff 50px,#0077ff 55px,#0077ff 60px,#0078ff 65px,#007fff 70px,#0094ff 75px,#00b5fc 80px,#00c2fb 85px,#00bafc 90px,#00b4fc 95px,#00a2fe 100px,#0088ff 105px,#007bff 110px,#0077ff 115px,#0076ff 120px)"></i><i style="left:72px;top:179px;height:122px;width:1px;background:linear-gradient(#0077ff 0px,#006eff 5px,#0053ff 10px,#0045ff 15px,#005eff 20px,#0075ff 25px,#007bff 30px,#007cff 35px,#007bff 40px,#007aff 45px,#0079ff 50px,#0079ff 55px,#007aff 60px,#007cff 65px,#0083ff 70px,#0098ff 75px,#00bafc 80px,#00c7fb 85px,#00c0fb 90px,#00bafc 95px,#00a7fe 100px,#008cff 105px,#007eff 110px,#007aff 115px,#0079ff 120px)"></i><i style="left:73px;top:179px;height:122px;width:1px;background:linear-gradient(#0078ff 0px,#006fff 5px,#0054ff 10px,#0045ff 15px,#005eff 20px,#0076ff 25px,#007dff 30px,#007eff 35px,#007dff 40px,#007bff 45px,#007aff 50px,#007aff 55px,#007bff 60px,#007dff 65px,#0084ff 70px,#009aff 75px,#00bcfc 80px,#00cafb 85px,#00c3fb 90px,#00befc 95px,#00abfd 100px,#008eff 105px,#007fff 110px,#007bff 115px,#007aff 120px)"></i><i style="left:74px;top:179px;height:122px;width:1px;background:linear-gradient(#0076ff 0px,#006eff 5px,#0053ff 10px,#0043ff 15px,#005cff 20px,#0075ff 25px,#007cff 30px,#007dff 35px,#007cff 40px,#0079ff 45px,#0078ff 50px,#0078ff 55px,#0079ff 60px,#007cff 65px,#0083ff 70px,#0099ff 75px,#00bafc 80px,#00c8fb 85px,#00c4fb 90px,#00bffb 95px,#00abfd 100px,#008eff 105px,#007eff 110px,#0079ff 115px,#0078ff 120px)"></i><i style="left:75px;top:179px;height:122px;width:1px;background:linear-gradient(#0074ff 0px,#006cff 5px,#0052ff 10px,#0041ff 15px,#005aff 20px,#0073ff 25px,#007cff 30px,#007dff 35px,#007bff 40px,#0078ff 45px,#0077ff 50px,#0077ff 55px,#0078ff 60px,#007aff 65px,#0082ff 70px,#0098ff 75px,#00b8fc 80px,#00c7fb 85px,#00c4fb 90px,#00c0fb 95px,#00acfd 100px,#008dff 105px,#007dff 110px,#0077ff 115px,#0076ff 120px)"></i><i style="left:76px;top:179px;height:122px;width:1px;background:linear-gradient(#0073ff 0px,#006bff 5px,#0051ff 10px,#003fff 15px,#0058ff 20px,#0073ff 25px,#007cff 30px,#007eff 35px,#007bff 40px,#0078ff 45px,#0076ff 50px,#0076ff 55px,#0077ff 60px,#007aff 65px,#0082ff 70px,#0097ff 75px,#00b7fc 80px,#00c5fb 85px,#00c4fb 90px,#00c2fb 95px,#00adfd 100px,#008eff 105px,#007cff 110px,#0077ff 115px,#0075ff 120px)"></i><i style="left:77px;top:179px;height:122px;width:1px;background:linear-gradient(#006aff 0px,#0062ff 5px,#0049ff 10px,#0036ff 15px,#004fff 20px,#006bff 25px,#0075ff 30px,#0077ff 35px,#0074ff 40px,#0070ff 45px,#006dff 50px,#006dff 55px,#006eff 60px,#0072ff 65px,#007aff 70px,#008eff 75px,#00acfd 80px,#00bbfc 85px,#00bcfc 90px,#00bbfc 95px,#00a6fe 100px,#0086ff 105px,#0074ff 110px,#006eff 115px,#006cff 120px)"></i><i style="left:78px;top:179px;height:122px;width:1px;background:linear-gradient(#0060ff 0px,#0059ff 5px,#0040ff 10px,#002dff 15px,#0045ff 20px,#0062ff 25px,#006eff 30px,#0070ff 35px,#006dff 40px,#0068ff 45px,#0064ff 50px,#0064ff 55px,#0066ff 60px,#006aff 65px,#0072ff 70px,#0086ff 75px,#00a1fe 80px,#00b0fd 85px,#00b3fc 90px,#00b4fc 95px,#009ffe 100px,#007eff 105px,#006bff 110px,#0065ff 115px,#0063ff 120px)"></i><i style="left:79px;top:179px;height:122px;width:1px;background:linear-gradient(#0063ff 0px,#005cff 5px,#0043ff 10px,#002fff 15px,#0047ff 20px,#0066ff 25px,#0073ff 30px,#0076ff 35px,#0072ff 40px,#006bff 45px,#0068ff 50px,#0067ff 55px,#0069ff 60px,#006dff 65px,#0075ff 70px,#0088ff 75px,#00a2fe 80px,#00b1fd 85px,#00b7fc 90px,#00bafc 95px,#00a4fe 100px,#0082ff 105px,#006fff 110px,#0068ff 115px,#0065ff 120px)"></i><i style="left:80px;top:179px;height:122px;width:1px;background:linear-gradient(#006fff 0px,#0068ff 5px,#0050ff 10px,#003cff 15px,#0053ff 20px,#0074ff 25px,#0082ff 30px,#0085ff 35px,#0081ff 40px,#0079ff 45px,#0075ff 50px,#0074ff 55px,#0076ff 60px,#007aff 65px,#0083ff 70px,#0095ff 75px,#00aefd 80px,#00bdfc 85px,#00c5fb 90px,#00c9fb 95px,#00b3fd 100px,#0090ff 105px,#007bff 110px,#0074ff 115px,#0071ff 120px)"></i><i style="left:81px;top:179px;height:122px;width:1px;background:linear-gradient(#007fff 0px,#0079ff 5px,#0061ff 10px,#004dff 15px,#0063ff 20px,#0085ff 25px,#0096ff 30px,#009aff 35px,#0094ff 40px,#008cff 45px,#0086ff 50px,#0085ff 55px,#0087ff 60px,#008cff 65px,#0095ff 70px,#00a6fe 75px,#00befc 80px,#00cdfa 85px,#00d7f9 90px,#00dcf9 95px,#00c7fb 100px,#00a2fe 105px,#008cff 110px,#0085ff 115px,#0082ff 120px)"></i><i style="left:82px;top:179px;height:122px;width:1px;background:linear-gradient(#0081ff 0px,#007cff 5px,#0065ff 10px,#004fff 15px,#0066ff 20px,#0089ff 25px,#009cfe 30px,#00a1fe 35px,#009aff 40px,#0090ff 45px,#008aff 50px,#0088ff 55px,#008bff 60px,#008fff 65px,#0099ff 70px,#00aafd 75px,#00bffb 80px,#00cefa 85px,#00daf9 90px,#00e1f9 95px,#00cbfa 100px,#00a6fe 105px,#0090ff 110px,#0087ff 115px,#0084ff 120px)"></i><i style="left:83px;top:179px;height:122px;width:1px;background:linear-gradient(#0083ff 0px,#007eff 5px,#0067ff 10px,#0052ff 15px,#0068ff 20px,#008dff 25px,#00a2fe 30px,#00a8fd 35px,#00a1fe 40px,#0095ff 45px,#008eff 50px,#008cff 55px,#008eff 60px,#0093ff 65px,#009dfe 70px,#00adfd 75px,#00c1fb 80px,#00d0fa 85px,#00ddf9 90px,#00e5f8 95px,#00cffa 100px,#00aafd 105px,#0092ff 110px,#008aff 115px,#0086ff 120px)"></i><i style="left:84px;top:179px;height:122px;width:1px;background:linear-gradient(#0081ff 0px,#007cff 5px,#0066ff 10px,#0050ff 15px,#0066ff 20px,#008dff 25px,#00a4fe 30px,#00abfd 35px,#00a3fe 40px,#0097ff 45px,#008eff 50px,#008cff 55px,#008eff 60px,#0093ff 65px,#009dfe 70px,#00acfd 75px,#00bffc 80px,#00cdfa 85px,#00dcf9 90px,#00e5f8 95px,#00cffa 100px,#00a9fd 105px,#0091ff 110px,#0088ff 115px,#0084ff 120px)"></i><i style="left:85px;top:179px;height:122px;width:1px;background:linear-gradient(#007fff 0px,#007bff 5px,#0065ff 10px,#004eff 15px,#0064ff 20px,#008dff 25px,#00a7fe 30px,#00affd 35px,#00a7fe 40px,#0099ff 45px,#008fff 50px,#008dff 55px,#008eff 60px,#0094ff 65px,#009dfe 70px,#00acfd 75px,#00bdfc 80px,#00cbfa 85px,#00dcf9 90px,#00e5f8 95px,#00cffa 100px,#00a8fd 105px,#0090ff 110px,#0086ff 115px,#0082ff 120px)"></i><i style="left:86px;top:179px;height:122px;width:1px;background:linear-gradient(#0079ff 0px,#0074ff 5px,#0060ff 10px,#0048ff 15px,#005dff 20px,#0088ff 25px,#00a4fe 30px,#00aefd 35px,#00a6fe 40px,#0096ff 45px,#008cff 50px,#0089ff 55px,#008bff 60px,#0090ff 65px,#0099ff 70px,#00a7fe 75px,#00b7fc 80px,#00c5fb 85px,#00d6fa 90px,#00e1f9 95px,#00cafb 100px,#00a3fe 105px,#008aff 110px,#0080ff 115px,#007cff 120px)"></i><i style="left:87px;top:179px;height:122px;width:1px;background:linear-gradient(#007cff 0px,#0078ff 5px,#0064ff 10px,#004cff 15px,#0060ff 20px,#008dff 25px,#00acfd 30px,#00b7fc 35px,#00affd 40px,#009ffe 45px,#0093ff 50px,#0090ff 55px,#0091ff 60px,#0097ff 65px,#00a0fe 70px,#00adfd 75px,#00bcfc 80px,#00cafb 85px,#00dbf9 90px,#00e6f8 95px,#00d0fa 100px,#00a8fd 105px,#008eff 110px,#0083ff 115px,#007fff 120px)"></i><i style="left:88px;top:179px;height:122px;width:1px;background:linear-gradient(#0089ff 0px,#0085ff 5px,#0071ff 10px,#0059ff 15px,#006dff 20px,#009cff 25px,#00befc 30px,#00cbfa 35px,#00c3fb 40px,#00b2fd 45px,#00a6fe 50px,#00a1fe 55px,#00a3fe 60px,#00a8fd 65px,#00b1fd 70px,#00bdfc 75px,#00cbfa 80px,#00d9f9 85px,#03e9f6 90px,#0eebed 95px,#00dff9 100px,#00b7fc 105px,#009cff 110px,#0090ff 115px,#008cff 120px)"></i><i style="left:89px;top:179px;height:122px;width:1px;background:linear-gradient(#0078ff 0px,#0074ff 5px,#0061ff 10px,#0049ff 15px,#005cff 20px,#008cff 25px,#00b0fd 30px,#00bffb 35px,#00b8fc 40px,#00a7fe 45px,#009aff 50px,#0095ff 55px,#0096ff 60px,#009bff 65px,#00a4fe 70px,#00affd 75px,#00bcfc 80px,#00c9fb 85px,#00dcf9 90px,#00e7f8 95px,#00d0fa 100px,#00a7fe 105px,#008bff 110px,#0080ff 115px,#007bff 120px)"></i><i style="left:90px;top:179px;height:122px;width:1px;background:linear-gradient(#006bff 0px,#0068ff 5px,#0056ff 10px,#003dff 15px,#004fff 20px,#0081ff 25px,#00a7fe 30px,#00b8fc 35px,#00b2fd 40px,#00a1fe 45px,#0093ff 50px,#008eff 55px,#008fff 60px,#0094ff 65px,#009cff 70px,#00a6fe 75px,#00b2fd 80px,#00bffc 85px,#00d1fa 90px,#00ddf9 95px,#00c6fb 100px,#009cfe 105px,#0080ff 110px,#0073ff 115px,#006eff 120px)"></i><i style="left:91px;top:179px;height:122px;width:1px;background:linear-gradient(#0082ff 0px,#007fff 5px,#006eff 10px,#0055ff 15px,#0066ff 20px,#0099ff 25px,#00c3fb 30px,#00d6fa 35px,#00d1fa 40px,#00c0fb 45px,#00b2fd 50px,#00adfd 55px,#00adfd 60px,#00b2fd 65px,#00b9fc 70px,#00c3fb 75px,#00cefa 80px,#00daf9 85px,#05e9f4 90px,#11ecea 95px,#00e3f8 100px,#00b8fc 105px,#0099ff 110px,#008bff 115px,#0086ff 120px)"></i><i style="left:92px;top:179px;height:122px;width:1px;background:linear-gradient(#007bff 0px,#0078ff 5px,#0067ff 10px,#004eff 15px,#005eff 20px,#0092ff 25px,#00befc 30px,#00d4fa 35px,#00d0fa 40px,#00c0fb 45px,#00b2fd 50px,#00acfd 55px,#00acfd 60px,#00b0fd 65px,#00b7fc 70px,#00c1fb 75px,#00cbfb 80px,#00d6fa 85px,#01e8f7 90px,#0eebed 95px,#00e2f9 100px,#00b6fc 105px,#0093ff 110px,#0083ff 115px,#007eff 120px)"></i><i style="left:93px;top:179px;height:122px;width:1px;background:linear-gradient(#007fff 0px,#007cff 5px,#006cff 10px,#0053ff 15px,#0062ff 20px,#0097ff 25px,#00c5fb 30px,#00ddf9 35px,#00dcf9 40px,#00ccfa 45px,#00befc 50px,#00b8fc 55px,#00b8fc 60px,#00bcfc 65px,#00c2fb 70px,#00cbfb 75px,#00d4fa 80px,#00dff9 85px,#09eaf1 90px,#19ede4 95px,#08eaf1 100px,#00c4fb 105px,#009cff 110px,#0088ff 115px,#0082ff 120px)"></i><i style="left:94px;top:179px;height:122px;width:1px;background:linear-gradient(#0080ff 0px,#007eff 5px,#006eff 10px,#0055ff 15px,#0062ff 20px,#0098ff 25px,#00c9fb 30px,#00e3f8 35px,#00e4f8 40px,#00d5fa 45px,#00c7fb 50px,#00c1fb 55px,#00c0fb 60px,#00c3fb 65px,#00c9fb 70px,#00d1fa 75px,#00d9f9 80px,#00e4f8 85px,#0eebed 90px,#22efdd 95px,#18ede5 100px,#00d2fa 105px,#00a2fe 110px,#008aff 115px,#0083ff 120px)"></i><i style="left:95px;top:179px;height:122px;width:1px;background:linear-gradient(#006bff 0px,#0068ff 5px,#0059ff 10px,#003fff 15px,#004cff 20px,#0082ff 25px,#00b4fc 30px,#00d0fa 35px,#00d3fa 40px,#00c6fb 45px,#00b8fc 50px,#00b1fd 55px,#00b0fd 60px,#00b3fd 65px,#00b9fc 70px,#00bffb 75px,#00c7fb 80px,#00d1fa 85px,#00e3f8 90px,#15ede7 95px,#14ece8 100px,#00cdfa 105px,#0093ff 110px,#0074ff 115px,#006eff 120px)"></i><i style="left:96px;top:179px;height:122px;width:1px;background:linear-gradient(#0087ff 0px,#0085ff 5px,#0077ff 10px,#005dff 15px,#0068ff 20px,#009efe 25px,#00d3fa 30px,#0aeaf0 35px,#10ebec 40px,#03e9f6 45px,#00ddf9 50px,#00d6fa 55px,#00d4fa 60px,#00d7f9 65px,#00dcf9 70px,#00e2f8 75px,#01e8f7 80px,#0beaef 85px,#1deee1 90px,#3ff5c4 95px,#4cf5b6 100px,#1aeee3 105px,#00bbfc 110px,#0092ff 115px,#008aff 120px)"></i><i style="left:97px;top:179px;height:122px;width:1px;background:linear-gradient(#008eff 0px,#008cff 5px,#007fff 10px,#0065ff 15px,#006eff 20px,#00a4fe 25px,#00dbf9 30px,#15ece7 35px,#1ceee1 40px,#11eceb 45px,#03e9f6 50px,#00e3f8 55px,#00e1f9 60px,#00e4f8 65px,#00e8f8 70px,#06e9f3 75px,#0cebee 80px,#15ede7 85px,#28f1d8 90px,#55f5ab 95px,#70f58d 100px,#38f4cb 105px,#00ccfa 110px,#009aff 115px,#0091ff 120px)"></i><i style="left:98px;top:179px;height:122px;width:1px;background:linear-gradient(#0080ff 0px,#007eff 5px,#0071ff 10px,#0058ff 15px,#005fff 20px,#0094ff 25px,#00ccfa 30px,#08eaf2 35px,#11ecea 40px,#07e9f2 45px,#00e1f9 50px,#00d8f9 55px,#00d7f9 60px,#00d9f9 65px,#00ddf9 70px,#00e2f9 75px,#00e7f8 80px,#07eaf2 85px,#1aeee3 90px,#4ef5b4 95px,#75f587 100px,#3cf5c7 105px,#00c5fb 110px,#008cff 115px,#0083ff 120px)"></i><i style="left:99px;top:179px;height:122px;width:1px;background:linear-gradient(#0080ff 0px,#007eff 5px,#0072ff 10px,#0058ff 15px,#005dff 20px,#0091ff 25px,#00cafb 30px,#08eaf1 35px,#14ece8 40px,#0aeaf0 45px,#00e4f8 50px,#00dbf9 55px,#00d9f9 60px,#00daf9 65px,#00def9 70px,#00e3f8 75px,#00e7f8 80px,#07eaf2 85px,#1aeee4 90px,#52f5af 95px,#80f57a 100px,#48f5ba 105px,#00c8fb 110px,#008bff 115px,#0082ff 120px)"></i><i style="left:100px;top:179px;height:122px;width:1px;background:linear-gradient(#0078ff 0px,#0077ff 5px,#006bff 10px,#0051ff 15px,#0054ff 20px,#0088ff 25px,#00c2fb 30px,#01e8f7 35px,#0febec 40px,#06e9f3 45px,#00def9 50px,#00d5fa 55px,#00d2fa 60px,#00d4fa 65px,#00d7f9 70px,#00dbf9 75px,#00e0f9 80px,#00e7f8 85px,#10eceb 90px,#47f5bc 95px,#76f586 100px,#3ff5c5 105px,#00c0fb 110px,#0084ff 115px,#007bff 120px)"></i><i style="left:101px;top:179px;height:122px;width:1px;background:linear-gradient(#006aff 0px,#0068ff 5px,#005dff 10px,#0043ff 15px,#0044ff 20px,#0077ff 25px,#00b1fd 30px,#00daf9 35px,#00e8f8 40px,#00e0f9 45px,#00d0fa 50px,#00c5fb 55px,#00c2fb 60px,#00c4fb 65px,#00c7fb 70px,#00cbfa 75px,#00cefa 80px,#00d5fa 85px,#00e5f8 90px,#2ef2d3 95px,#54f5ac 100px,#22efdd 105px,#00acfd 110px,#0074ff 115px,#006cff 120px)"></i><i style="left:102px;top:179px;height:122px;width:1px;background:linear-gradient(#006bff 0px,#0069ff 5px,#005fff 10px,#0046ff 15px,#0044ff 20px,#0075ff 25px,#00b0fd 30px,#00daf9 35px,#02e8f6 40px,#00e2f9 45px,#00d1fa 50px,#00c5fb 55px,#00c2fb 60px,#00c3fb 65px,#00c6fb 70px,#00c9fb 75px,#00cdfa 80px,#00d3fa 85px,#00e2f8 90px,#23f0dc 95px,#3cf5c8 100px,#0febec 105px,#00a4fe 110px,#0075ff 115px,#006dff 120px)"></i><i style="left:103px;top:179px;height:122px;width:1px;background:linear-gradient(#0071ff 0px,#006fff 5px,#0066ff 10px,#004dff 15px,#0049ff 20px,#0079ff 25px,#00b4fc 30px,#00dff9 35px,#08eaf1 40px,#00e8f8 45px,#00d5fa 50px,#00c9fb 55px,#00c5fb 60px,#00c6fb 65px,#00c9fb 70px,#00ccfa 75px,#00cffa 80px,#00d4fa 85px,#00e3f8 90px,#1beee2 95px,#29f1d7 100px,#00e5f8 105px,#00a1fe 110px,#007aff 115px,#0073ff 120px)"></i><i style="left:104px;top:179px;height:122px;width:1px;background:linear-gradient(#007cff 0px,#007bff 5px,#0072ff 10px,#0059ff 15px,#0054ff 20px,#0081ff 25px,#00bdfc 30px,#01e8f7 35px,#14ece8 40px,#0aeaf0 45px,#00dff9 50px,#00d1fa 55px,#00ccfa 60px,#00cdfa 65px,#00d0fa 70px,#00d3fa 75px,#00d5fa 80px,#00daf9 85px,#00e8f8 90px,#18ede5 95px,#1beee2 100px,#00daf9 105px,#00a2fe 110px,#0084ff 115px,#007eff 120px)"></i><i style="left:105px;top:179px;height:122px;width:1px;background:linear-gradient(#007dff 0px,#007cff 5px,#0074ff 10px,#005cff 15px,#0054ff 20px,#0080ff 25px,#00bbfc 30px,#00e8f8 35px,#13ece9 40px,#0aeaf0 45px,#00ddf9 50px,#00cdfa 55px,#00c8fb 60px,#00c9fb 65px,#00ccfa 70px,#00cefa 75px,#00d0fa 80px,#00d5fa 85px,#00e1f9 90px,#0beaef 95px,#06e9f3 100px,#00c8fb 105px,#009bff 110px,#0084ff 115px,#007fff 120px)"></i><i style="left:106px;top:179px;height:122px;width:1px;background:linear-gradient(#0076ff 0px,#0075ff 5px,#006eff 10px,#0056ff 15px,#004dff 20px,#0076ff 25px,#00b1fd 30px,#00dff9 35px,#0aeaf0 40px,#00e8f8 45px,#00d2fa 50px,#00c1fb 55px,#00bcfc 60px,#00bcfc 65px,#00bffc 70px,#00c1fb 75px,#00c3fb 80px,#00c7fb 85px,#00d3fa 90px,#00e0f9 95px,#00d6fa 100px,#00b2fd 105px,#008eff 110px,#007dff 115px,#0078ff 120px)"></i><i style="left:107px;top:179px;height:122px;width:1px;background:linear-gradient(#0081ff 0px,#0081ff 5px,#007aff 10px,#0063ff 15px,#0058ff 20px,#007fff 25px,#00bafc 30px,#00e7f8 35px,#14ece8 40px,#09eaf1 45px,#00d9f9 50px,#00c8fb 55px,#00c1fb 60px,#00c2fb 65px,#00c4fb 70px,#00c6fb 75px,#00c8fb 80px,#00ccfa 85px,#00d7f9 90px,#00e2f9 95px,#00d5fa 100px,#00b3fd 105px,#0095ff 110px,#0087ff 115px,#0083ff 120px)"></i><i style="left:108px;top:179px;height:122px;width:1px;background:linear-gradient(#006fff 0px,#006fff 5px,#0068ff 10px,#0053ff 15px,#0046ff 20px,#006bff 25px,#00a4fe 30px,#00d2fa 35px,#00e6f8 40px,#00dbf9 45px,#00c2fb 50px,#00b0fd 55px,#00a9fd 60px,#00a9fd 65px,#00abfd 70px,#00adfd 75px,#00aefd 80px,#00b2fd 85px,#00bdfc 90px,#00c6fb 95px,#00b9fc 100px,#0099ff 105px,#0080ff 110px,#0075ff 115px,#0071ff 120px)"></i><i style="left:109px;top:179px;height:122px;width:1px;background:linear-gradient(#0078ff 0px,#0077ff 5px,#0071ff 10px,#005cff 15px,#004fff 20px,#0071ff 25px,#00a9fd 30px,#00d7f9 35px,#04e9f5 40px,#00e1f9 45px,#00c7fb 50px,#00b3fc 55px,#00acfd 60px,#00acfd 65px,#00aefd 70px,#00b0fd 75px,#00b1fd 80px,#00b4fc 85px,#00bffc 90px,#00c8fb 95px,#00bbfc 100px,#009dfe 105px,#0087ff 110px,#007dff 115px,#007aff 120px)"></i><i style="left:110px;top:179px;height:122px;width:1px;background:linear-gradient(#007fff 0px,#007fff 5px,#007aff 10px,#0066ff 15px,#0057ff 20px,#0077ff 25px,#00aefd 30px,#00dcf9 35px,#09eaf1 40px,#00e6f8 45px,#00ccfa 50px,#00b7fc 55px,#00affd 60px,#00affd 65px,#00b1fd 70px,#00b3fd 75px,#00b3fc 80px,#00b7fc 85px,#00c1fb 90px,#00c9fb 95px,#00bdfc 100px,#00a2fe 105px,#008dff 110px,#0084ff 115px,#0081ff 120px)"></i><i style="left:111px;top:179px;height:122px;width:1px;background:linear-gradient(#0074ff 0px,#0073ff 5px,#006fff 10px,#005cff 15px,#004dff 20px,#006aff 25px,#009ffe 30px,#00ccfa 35px,#00e1f9 40px,#00d7f9 45px,#00bcfc 50px,#00a7fe 55px,#009efe 60px,#009efe 65px,#00a0fe 70px,#00a2fe 75px,#00a2fe 80px,#00a5fe 85px,#00affd 90px,#00b8fc 95px,#00adfd 100px,#0093ff 105px,#0080ff 110px,#0078ff 115px,#0076ff 120px)"></i><i style="left:112px;top:179px;height:122px;width:1px;background:linear-gradient(#005dff 0px,#005dff 5px,#0059ff 10px,#0048ff 15px,#0038ff 20px,#0053ff 25px,#0085ff 30px,#00b0fd 35px,#00c6fb 40px,#00bdfc 45px,#00a2fe 50px,#008cff 55px,#0084ff 60px,#0084ff 65px,#0086ff 70px,#0087ff 75px,#0088ff 80px,#008aff 85px,#0093ff 90px,#009cff 95px,#0092ff 100px,#007aff 105px,#0069ff 110px,#0062ff 115px,#005fff 120px)"></i><i style="left:113px;top:179px;height:122px;width:1px;background:linear-gradient(#005cff 0px,#005bff 5px,#0058ff 10px,#0048ff 15px,#003aff 20px,#0052ff 25px,#0081ff 30px,#00abfd 35px,#00c1fb 40px,#00b9fc 45px,#009efe 50px,#0088ff 55px,#0080ff 60px,#007fff 65px,#0081ff 70px,#0083ff 75px,#0083ff 80px,#0085ff 85px,#008eff 90px,#0097ff 95px,#008dff 100px,#0077ff 105px,#0067ff 110px,#0060ff 115px,#005eff 120px)"></i><i style="left:114px;top:179px;height:122px;width:1px;background:linear-gradient(#0068ff 0px,#0067ff 5px,#0064ff 10px,#0057ff 15px,#0049ff 20px,#005eff 25px,#008bff 30px,#00b4fc 35px,#00cafb 40px,#00c2fb 45px,#00a8fd 50px,#0092ff 55px,#008aff 60px,#0089ff 65px,#008bff 70px,#008cff 75px,#008dff 80px,#008fff 85px,#0097ff 90px,#00a0fe 95px,#0097ff 100px,#0082ff 105px,#0073ff 110px,#006cff 115px,#006aff 120px)"></i><i style="left:115px;top:179px;height:122px;width:1px;background:linear-gradient(#0071ff 0px,#0071ff 5px,#006eff 10px,#0062ff 15px,#0056ff 20px,#0068ff 25px,#0092ff 30px,#00b9fc 35px,#00d0fa 40px,#00c9fb 45px,#00b0fd 50px,#009aff 55px,#0091ff 60px,#0091ff 65px,#0093ff 70px,#0094ff 75px,#0094ff 80px,#0096ff 85px,#009ffe 90px,#00a8fd 95px,#009ffe 100px,#008aff 105px,#007cff 110px,#0076ff 115px,#0073ff 120px)"></i><i style="left:116px;top:179px;height:122px;width:1px;background:linear-gradient(#0081ff 0px,#0081ff 5px,#007eff 10px,#0074ff 15px,#0069ff 20px,#007aff 25px,#00a0fe 30px,#00c6fb 35px,#00dcf9 40px,#00d7f9 45px,#00bffb 50px,#00aafd 55px,#00a1fe 60px,#00a0fe 65px,#00a3fe 70px,#00a4fe 75px,#00a4fe 80px,#00a6fe 85px,#00aefd 90px,#00b7fc 95px,#00affd 100px,#009aff 105px,#008bff 110px,#0086ff 115px,#0083ff 120px)"></i><i style="left:117px;top:179px;height:122px;width:1px;background:linear-gradient(#006cff 0px,#006cff 5px,#006bff 10px,#0062ff 15px,#0059ff 20px,#0067ff 25px,#0089ff 30px,#00adfd 35px,#00c3fb 40px,#00bffc 45px,#00a8fd 50px,#0094ff 55px,#008bff 60px,#008bff 65px,#008dff 70px,#008fff 75px,#008fff 80px,#0090ff 85px,#0098ff 90px,#00a0fe 95px,#0098ff 100px,#0085ff 105px,#0077ff 110px,#0071ff 115px,#006fff 120px)"></i><i style="left:118px;top:179px;height:122px;width:1px;background:linear-gradient(#006dff 0px,#006dff 5px,#006cff 10px,#0065ff 15px,#005dff 20px,#006aff 25px,#0088ff 30px,#00a9fd 35px,#00bffc 40px,#00bcfc 45px,#00a7fe 50px,#0094ff 55px,#008cff 60px,#008cff 65px,#008eff 70px,#0090ff 75px,#0090ff 80px,#0091ff 85px,#0098ff 90px,#00a1fe 95px,#0099ff 100px,#0086ff 105px,#0078ff 110px,#0072ff 115px,#0070ff 120px)"></i><i style="left:119px;top:179px;height:122px;width:1px;background:linear-gradient(#0075ff 0px,#0075ff 5px,#0074ff 10px,#006fff 15px,#0069ff 20px,#0073ff 25px,#008eff 30px,#00adfd 35px,#00c2fb 40px,#00c0fb 45px,#00adfd 50px,#009bff 55px,#0094ff 60px,#0094ff 65px,#0096ff 70px,#0097ff 75px,#0097ff 80px,#0099ff 85px,#00a0fe 90px,#00a8fd 95px,#00a0fe 100px,#008dff 105px,#0080ff 110px,#007aff 115px,#0078ff 120px)"></i><i style="left:120px;top:179px;height:122px;width:1px;background:linear-gradient(#0070ff 0px,#0070ff 5px,#006fff 10px,#006bff 15px,#0067ff 20px,#0070ff 25px,#0087ff 30px,#00a3fe 35px,#00b8fc 40px,#00b7fc 45px,#00a6fe 50px,#0095ff 55px,#008eff 60px,#008fff 65px,#0091ff 70px,#0093ff 75px,#0093ff 80px,#0093ff 85px,#009aff 90px,#00a2fe 95px,#009bff 100px,#0088ff 105px,#007bff 110px,#0075ff 115px,#0073ff 120px)"></i><i style="left:121px;top:179px;height:122px;width:1px;background:linear-gradient(#0055ff 0px,#0055ff 5px,#0054ff 10px,#0051ff 15px,#004eff 20px,#0056ff 25px,#006bff 30px,#0084ff 35px,#0096ff 40px,#0096ff 45px,#0088ff 50px,#0079ff 55px,#0073ff 60px,#0074ff 65px,#0077ff 70px,#0078ff 75px,#0078ff 80px,#0079ff 85px,#007fff 90px,#0086ff 95px,#007fff 100px,#006dff 105px,#0060ff 110px,#005aff 115px,#0058ff 120px)"></i><i style="left:122px;top:179px;height:122px;width:1px;background:linear-gradient(#006bff 0px,#006bff 5px,#006aff 10px,#0068ff 15px,#0066ff 20px,#006dff 25px,#007fff 30px,#0095ff 35px,#00a7fe 40px,#00a9fd 45px,#009bff 50px,#008eff 55px,#0089ff 60px,#008aff 65px,#008cff 70px,#008eff 75px,#008eff 80px,#008eff 85px,#0095ff 90px,#009cfe 95px,#0094ff 100px,#0082ff 105px,#0075ff 110px,#0070ff 115px,#006eff 120px)"></i><i style="left:123px;top:179px;height:122px;width:1px;background:linear-gradient(#0086ff 0px,#0086ff 5px,#0086ff 10px,#0084ff 15px,#0083ff 20px,#0089ff 25px,#0098ff 30px,#00aefd 35px,#00bffc 40px,#00c1fb 45px,#00b5fc 50px,#00a9fd 55px,#00a5fe 60px,#00a6fe 65px,#00a9fd 70px,#00abfd 75px,#00aafd 80px,#00abfd 85px,#00b1fd 90px,#00b8fc 95px,#00b1fd 100px,#009efe 105px,#0091ff 110px,#008cff 115px,#0089ff 120px)"></i><i style="left:124px;top:179px;height:122px;width:1px;background:linear-gradient(#0085ff 0px,#0085ff 5px,#0085ff 10px,#0084ff 15px,#0084ff 20px,#0089ff 25px,#0096ff 30px,#00a9fd 35px,#00b9fc 40px,#00bbfc 45px,#00b2fd 50px,#00a7fe 55px,#00a4fe 60px,#00a6fe 65px,#00a8fd 70px,#00aafd 75px,#00aafd 80px,#00aafd 85px,#00b0fd 90px,#00b7fc 95px,#00b0fd 100px,#009dfe 105px,#0090ff 110px,#008bff 115px,#0088ff 120px)"></i><i style="left:125px;top:179px;height:122px;width:1px;background:linear-gradient(#0070ff 0px,#0070ff 5px,#0070ff 10px,#006fff 15px,#006fff 20px,#0073ff 25px,#007eff 30px,#008eff 35px,#009dfe 40px,#00a0fe 45px,#0098ff 50px,#0090ff 55px,#008dff 60px,#008fff 65px,#0092ff 70px,#0093ff 75px,#0093ff 80px,#0093ff 85px,#0099ff 90px,#00a0fe 95px,#0098ff 100px,#0087ff 105px,#007bff 110px,#0075ff 115px,#0073ff 120px)"></i><i style="left:126px;top:179px;height:122px;width:1px;background:linear-gradient(#006aff 0px,#006aff 5px,#006aff 10px,#006aff 15px,#006bff 20px,#006eff 25px,#0078ff 30px,#0086ff 35px,#0092ff 40px,#0096ff 45px,#0090ff 50px,#0089ff 55px,#0087ff 60px,#0089ff 65px,#008cff 70px,#008eff 75px,#008dff 80px,#008eff 85px,#0093ff 90px,#0099ff 95px,#0092ff 100px,#0081ff 105px,#0075ff 110px,#0070ff 115px,#006eff 120px)"></i><i style="left:127px;top:179px;height:122px;width:1px;background:linear-gradient(#006fff 0px,#006fff 5px,#006fff 10px,#006fff 15px,#006fff 20px,#0072ff 25px,#007aff 30px,#0087ff 35px,#0092ff 40px,#0096ff 45px,#0091ff 50px,#008cff 55px,#008bff 60px,#008dff 65px,#0090ff 70px,#0091ff 75px,#0091ff 80px,#0092ff 85px,#0097ff 90px,#009dfe 95px,#0096ff 100px,#0085ff 105px,#0079ff 110px,#0074ff 115px,#0072ff 120px)"></i><i style="left:128px;top:179px;height:122px;width:1px;background:linear-gradient(#008aff 0px,#008aff 5px,#008aff 10px,#008aff 15px,#008bff 20px,#008eff 25px,#0094ff 30px,#009ffe 35px,#00aafd 40px,#00aefd 45px,#00aafd 50px,#00a6fe 55px,#00a6fe 60px,#00a8fd 65px,#00abfd 70px,#00adfd 75px,#00adfd 80px,#00adfd 85px,#00b2fd 90px,#00b8fc 95px,#00b1fd 100px,#00a0fe 105px,#0094ff 110px,#008fff 115px,#008dff 120px)"></i><i style="left:129px;top:179px;height:122px;width:1px;background:linear-gradient(#0083ff 0px,#0083ff 5px,#0083ff 10px,#0083ff 15px,#0084ff 20px,#0086ff 25px,#008cff 30px,#0095ff 35px,#009efe 40px,#00a2fe 45px,#00a0fe 50px,#009dfe 55px,#009dfe 60px,#00a0fe 65px,#00a3fe 70px,#00a4fe 75px,#00a4fe 80px,#00a5fe 85px,#00aafd 90px,#00b0fd 95px,#00a9fd 100px,#0098ff 105px,#008dff 110px,#0088ff 115px,#0086ff 120px)"></i><i style="left:130px;top:179px;height:122px;width:1px;background:linear-gradient(#007aff 0px,#007aff 5px,#007aff 10px,#007aff 15px,#007bff 20px,#007dff 25px,#0081ff 30px,#0089ff 35px,#0091ff 40px,#0094ff 45px,#0093ff 50px,#0091ff 55px,#0092ff 60px,#0095ff 65px,#0098ff 70px,#0099ff 75px,#0099ff 80px,#009aff 85px,#009ffe 90px,#00a4fe 95px,#009efe 100px,#008eff 105px,#0084ff 110px,#007fff 115px,#007dff 120px)"></i><i style="left:131px;top:179px;height:122px;width:1px;background:linear-gradient(#0085ff 0px,#0085ff 5px,#0085ff 10px,#0086ff 15px,#0086ff 20px,#0088ff 25px,#008cff 30px,#0092ff 35px,#0099ff 40px,#009cfe 45px,#009cff 50px,#009bff 55px,#009cfe 60px,#009ffe 65px,#00a2fe 70px,#00a4fe 75px,#00a4fe 80px,#00a4fe 85px,#00a9fd 90px,#00affd 95px,#00a8fd 100px,#0099ff 105px,#008fff 110px,#008aff 115px,#0088ff 120px)"></i><i style="left:132px;top:179px;height:122px;width:1px;background:linear-gradient(#0079ff 0px,#0079ff 5px,#0079ff 10px,#0079ff 15px,#007aff 20px,#007bff 25px,#007eff 30px,#0084ff 35px,#0089ff 40px,#008cff 45px,#008cff 50px,#008cff 55px,#008dff 60px,#0090ff 65px,#0093ff 70px,#0095ff 75px,#0095ff 80px,#0095ff 85px,#009aff 90px,#00a0fe 95px,#009aff 100px,#008cff 105px,#0082ff 110px,#007eff 115px,#007cff 120px)"></i><i style="left:133px;top:179px;height:122px;width:1px;background:linear-gradient(#0088ff 0px,#0088ff 5px,#0088ff 10px,#0088ff 15px,#0089ff 20px,#008aff 25px,#008cff 30px,#0091ff 35px,#0096ff 40px,#0098ff 45px,#0099ff 50px,#0099ff 55px,#009bff 60px,#009efe 65px,#00a1fe 70px,#00a2fe 75px,#00a3fe 80px,#00a3fe 85px,#00a8fd 90px,#00aefd 95px,#00a8fd 100px,#009aff 105px,#0091ff 110px,#008dff 115px,#008bff 120px)"></i><i style="left:134px;top:179px;height:122px;width:1px;background:linear-gradient(#0074ff 0px,#0074ff 5px,#0074ff 10px,#0074ff 15px,#0074ff 20px,#0075ff 25px,#0077ff 30px,#007aff 35px,#007eff 40px,#0081ff 45px,#0081ff 50px,#0082ff 55px,#0084ff 60px,#0086ff 65px,#0089ff 70px,#008bff 75px,#008bff 80px,#008cff 85px,#0091ff 90px,#0096ff 95px,#0091ff 100px,#0085ff 105px,#007cff 110px,#0078ff 115px,#0076ff 120px)"></i><i style="left:135px;top:179px;height:122px;width:1px;background:linear-gradient(#006cff 0px,#006cff 5px,#006cff 10px,#006cff 15px,#006cff 20px,#006dff 25px,#006eff 30px,#0071ff 35px,#0074ff 40px,#0076ff 45px,#0076ff 50px,#0077ff 55px,#0079ff 60px,#007cff 65px,#007eff 70px,#0080ff 75px,#0081ff 80px,#0082ff 85px,#0087ff 90px,#008cff 95px,#0087ff 100px,#007cff 105px,#0073ff 110px,#0070ff 115px,#006eff 120px)"></i><i style="left:136px;top:179px;height:122px;width:1px;background:linear-gradient(#0075ff 0px,#0075ff 5px,#0075ff 10px,#0075ff 15px,#0075ff 20px,#0075ff 25px,#0076ff 30px,#0078ff 35px,#007aff 40px,#007cff 45px,#007cff 50px,#007dff 55px,#007fff 60px,#0082ff 65px,#0084ff 70px,#0086ff 75px,#0087ff 80px,#0089ff 85px,#008eff 90px,#0093ff 95px,#008fff 100px,#0084ff 105px,#007cff 110px,#0078ff 115px,#0077ff 120px)"></i><i style="left:137px;top:179px;height:122px;width:1px;background:linear-gradient(#0081ff 0px,#0081ff 5px,#0081ff 10px,#0081ff 15px,#0081ff 20px,#0081ff 25px,#0082ff 30px,#0083ff 35px,#0084ff 40px,#0085ff 45px,#0085ff 50px,#0086ff 55px,#0088ff 60px,#008aff 65px,#008dff 70px,#008fff 75px,#0091ff 80px,#0093ff 85px,#0098ff 90px,#009dfe 95px,#0099ff 100px,#008fff 105px,#0088ff 110px,#0085ff 115px,#0083ff 120px)"></i><i style="left:138px;top:179px;height:122px;width:1px;background:linear-gradient(#007fff 0px,#007fff 5px,#007fff 10px,#007fff 15px,#007fff 20px,#007fff 25px,#007fff 30px,#007fff 35px,#0080ff 40px,#0080ff 45px,#0080ff 50px,#0080ff 55px,#0082ff 60px,#0084ff 65px,#0087ff 70px,#0089ff 75px,#008bff 80px,#008eff 85px,#0093ff 90px,#0098ff 95px,#0095ff 100px,#008cff 105px,#0085ff 110px,#0082ff 115px,#0081ff 120px)"></i><i style="left:139px;top:179px;height:122px;width:1px;background:linear-gradient(#007aff 0px,#007aff 5px,#007aff 10px,#007aff 15px,#0079ff 20px,#0079ff 25px,#0079ff 30px,#0078ff 35px,#0078ff 40px,#0078ff 45px,#0077ff 50px,#0077ff 55px,#0078ff 60px,#007bff 65px,#007eff 70px,#0081ff 75px,#0083ff 80px,#0086ff 85px,#008bff 90px,#0091ff 95px,#008eff 100px,#0085ff 105px,#007fff 110px,#007dff 115px,#007cff 120px)"></i><i style="left:140px;top:179px;height:122px;width:1px;background:linear-gradient(#0060ff 0px,#0060ff 5px,#0060ff 10px,#0060ff 15px,#005fff 20px,#005eff 25px,#005eff 30px,#005dff 35px,#005cff 40px,#005aff 45px,#0059ff 50px,#0059ff 55px,#005aff 60px,#005cff 65px,#005fff 70px,#0062ff 75px,#0065ff 80px,#0069ff 85px,#006eff 90px,#0074ff 95px,#0072ff 100px,#006aff 105px,#0065ff 110px,#0062ff 115px,#0061ff 120px)"></i><i style="left:141px;top:179px;height:122px;width:1px;background:linear-gradient(#005fff 0px,#005fff 5px,#005fff 10px,#005fff 15px,#005eff 20px,#005dff 25px,#005cff 30px,#005aff 35px,#0058ff 40px,#0056ff 45px,#0054ff 50px,#0054ff 55px,#0054ff 60px,#0056ff 65px,#005aff 70px,#005dff 75px,#0061ff 80px,#0065ff 85px,#006bff 90px,#0071ff 95px,#006fff 100px,#0068ff 105px,#0063ff 110px,#0061ff 115px,#0060ff 120px)"></i><i style="left:142px;top:179px;height:122px;width:1px;background:linear-gradient(#0060ff 0px,#0060ff 5px,#0060ff 10px,#005fff 15px,#005eff 20px,#005dff 25px,#005bff 30px,#0059ff 35px,#0057ff 40px,#0054ff 45px,#0051ff 50px,#0050ff 55px,#0050ff 60px,#0052ff 65px,#0056ff 70px,#005aff 75px,#005eff 80px,#0063ff 85px,#0069ff 90px,#006fff 95px,#006eff 100px,#0068ff 105px,#0063ff 110px,#0062ff 115px,#0061ff 120px)"></i><i style="left:143px;top:179px;height:122px;width:1px;background:linear-gradient(#0061ff 0px,#0061ff 5px,#0061ff 10px,#0060ff 15px,#005fff 20px,#005eff 25px,#005cff 30px,#0059ff 35px,#0055ff 40px,#0052ff 45px,#004eff 50px,#004cff 55px,#004cff 60px,#004fff 65px,#0052ff 70px,#0057ff 75px,#005cff 80px,#0061ff 85px,#0068ff 90px,#006eff 95px,#006eff 100px,#0068ff 105px,#0064ff 110px,#0063ff 115px,#0062ff 120px)"></i><i style="left:144px;top:179px;height:122px;width:1px;background:linear-gradient(#006eff 0px,#006eff 5px,#006eff 10px,#006dff 15px,#006cff 20px,#006aff 25px,#0068ff 30px,#0064ff 35px,#0060ff 40px,#005cff 45px,#0058ff 50px,#0055ff 55px,#0055ff 60px,#0057ff 65px,#005bff 70px,#0060ff 75px,#0065ff 80px,#006bff 85px,#0072ff 90px,#0079ff 95px,#0079ff 100px,#0074ff 105px,#0071ff 110px,#006fff 115px,#006fff 120px)"></i><i style="left:145px;top:179px;height:122px;width:1px;background:linear-gradient(#006aff 0px,#006aff 5px,#006aff 10px,#0069ff 15px,#0068ff 20px,#0066ff 25px,#0063ff 30px,#005fff 35px,#005aff 40px,#0055ff 45px,#0050ff 50px,#004dff 55px,#004dff 60px,#004fff 65px,#0053ff 70px,#0058ff 75px,#005eff 80px,#0065ff 85px,#006cff 90px,#0073ff 95px,#0074ff 100px,#0070ff 105px,#006dff 110px,#006cff 115px,#006bff 120px)"></i><i style="left:146px;top:179px;height:122px;width:1px;background:linear-gradient(#0075ff 0px,#0075ff 5px,#0075ff 10px,#0074ff 15px,#0072ff 20px,#0070ff 25px,#006dff 30px,#0068ff 35px,#0063ff 40px,#005dff 45px,#0058ff 50px,#0054ff 55px,#0053ff 60px,#0055ff 65px,#005aff 70px,#005fff 75px,#0066ff 80px,#006dff 85px,#0075ff 90px,#007cff 95px,#007dff 100px,#0079ff 105px,#0077ff 110px,#0076ff 115px,#0076ff 120px)"></i><i style="left:147px;top:179px;height:122px;width:1px;background:linear-gradient(#0073ff 0px,#0072ff 5px,#0072ff 10px,#0071ff 15px,#0070ff 20px,#006dff 25px,#006aff 30px,#0065ff 35px,#005fff 40px,#0059ff 45px,#0053ff 50px,#004fff 55px,#004eff 60px,#004fff 65px,#0054ff 70px,#005aff 75px,#0061ff 80px,#0068ff 85px,#0070ff 90px,#0077ff 95px,#0079ff 100px,#0076ff 105px,#0074ff 110px,#0073ff 115px,#0073ff 120px)"></i><i style="left:148px;top:179px;height:122px;width:1px;background:linear-gradient(#006dff 0px,#006cff 5px,#006cff 10px,#006bff 15px,#006aff 20px,#0067ff 25px,#0063ff 30px,#005eff 35px,#0058ff 40px,#0051ff 45px,#004bff 50px,#0047ff 55px,#0045ff 60px,#0047ff 65px,#004cff 70px,#0052ff 75px,#0059ff 80px,#0061ff 85px,#0069ff 90px,#0070ff 95px,#0072ff 100px,#0070ff 105px,#006eff 110px,#006dff 115px,#006dff 120px)"></i><i style="left:149px;top:179px;height:122px;width:1px;background:linear-gradient(#006fff 0px,#006fff 5px,#006eff 10px,#006dff 15px,#006cff 20px,#0069ff 25px,#0065ff 30px,#0060ff 35px,#0059ff 40px,#0053ff 45px,#004cff 50px,#0048ff 55px,#0046ff 60px,#0048ff 65px,#004cff 70px,#0053ff 75px,#005aff 80px,#0062ff 85px,#006aff 90px,#0071ff 95px,#0073ff 100px,#0071ff 105px,#006fff 110px,#006fff 115px,#006fff 120px)"></i><i style="left:150px;top:179px;height:122px;width:1px;background:linear-gradient(#0073ff 0px,#0073ff 5px,#0073ff 10px,#0072ff 15px,#0070ff 20px,#006eff 25px,#006aff 30px,#0064ff 35px,#005eff 40px,#0057ff 45px,#0050ff 50px,#004cff 55px,#004aff 60px,#004bff 65px,#0050ff 70px,#0056ff 75px,#005eff 80px,#0065ff 85px,#006dff 90px,#0074ff 95px,#0077ff 100px,#0075ff 105px,#0074ff 110px,#0073ff 115px,#0073ff 120px)"></i><i style="left:151px;top:179px;height:122px;width:1px;background:linear-gradient(#007aff 0px,#007aff 5px,#007aff 10px,#0079ff 15px,#0077ff 20px,#0075ff 25px,#0071ff 30px,#006bff 35px,#0065ff 40px,#005eff 45px,#0058ff 50px,#0053ff 55px,#0051ff 60px,#0053ff 65px,#0057ff 70px,#005dff 75px,#0065ff 80px,#006cff 85px,#0074ff 90px,#007aff 95px,#007dff 100px,#007cff 105px,#007bff 110px,#007aff 115px,#007aff 120px)"></i><i style="left:152px;top:179px;height:122px;width:1px;background:linear-gradient(#006fff 0px,#006fff 5px,#006eff 10px,#006dff 15px,#006cff 20px,#006aff 25px,#0066ff 30px,#0061ff 35px,#005bff 40px,#0054ff 45px,#004eff 50px,#0049ff 55px,#0047ff 60px,#0049ff 65px,#004dff 70px,#0053ff 75px,#005aff 80px,#0061ff 85px,#0068ff 90px,#006fff 95px,#0071ff 100px,#0070ff 105px,#006fff 110px,#006fff 115px,#006fff 120px)"></i><i style="left:153px;top:179px;height:122px;width:1px;background:linear-gradient(#006cff 0px,#006cff 5px,#006bff 10px,#006bff 15px,#0069ff 20px,#0067ff 25px,#0063ff 30px,#005fff 35px,#0059ff 40px,#0052ff 45px,#004dff 50px,#0048ff 55px,#0047ff 60px,#0048ff 65px,#004cff 70px,#0051ff 75px,#0058ff 80px,#005fff 85px,#0065ff 90px,#006bff 95px,#006eff 100px,#006dff 105px,#006cff 110px,#006cff 115px,#006cff 120px)"></i><i style="left:154px;top:179px;height:122px;width:1px;background:linear-gradient(#005eff 0px,#005eff 5px,#005dff 10px,#005dff 15px,#005bff 20px,#0059ff 25px,#0056ff 30px,#0052ff 35px,#004cff 40px,#0046ff 45px,#0041ff 50px,#003dff 55px,#003bff 60px,#003cff 65px,#0040ff 70px,#0045ff 75px,#004bff 80px,#0051ff 85px,#0058ff 90px,#005dff 95px,#005fff 100px,#005fff 105px,#005eff 110px,#005eff 115px,#005eff 120px)"></i><i style="left:155px;top:179px;height:122px;width:1px;background:linear-gradient(#0078ff 0px,#0078ff 5px,#0077ff 10px,#0077ff 15px,#0076ff 20px,#0074ff 25px,#0071ff 30px,#006dff 35px,#0068ff 40px,#0063ff 45px,#005eff 50px,#005aff 55px,#0059ff 60px,#0059ff 65px,#005dff 70px,#0061ff 75px,#0067ff 80px,#006cff 85px,#0072ff 90px,#0077ff 95px,#0079ff 100px,#0078ff 105px,#0078ff 110px,#0078ff 115px,#0078ff 120px)"></i><i style="left:156px;top:179px;height:122px;width:1px;background:linear-gradient(#0083ff 0px,#0083ff 5px,#0083ff 10px,#0082ff 15px,#0081ff 20px,#007fff 25px,#007dff 30px,#0079ff 35px,#0075ff 40px,#0070ff 45px,#006cff 50px,#0069ff 55px,#0067ff 60px,#0068ff 65px,#006bff 70px,#006fff 75px,#0074ff 80px,#0079ff 85px,#007eff 90px,#0082ff 95px,#0084ff 100px,#0084ff 105px,#0083ff 110px,#0083ff 115px,#0083ff 120px)"></i><i style="left:157px;top:179px;height:122px;width:1px;background:linear-gradient(#0077ff 0px,#0077ff 5px,#0076ff 10px,#0076ff 15px,#0075ff 20px,#0073ff 25px,#0071ff 30px,#006eff 35px,#006aff 40px,#0066ff 45px,#0062ff 50px,#0060ff 55px,#005fff 60px,#005fff 65px,#0062ff 70px,#0065ff 75px,#0069ff 80px,#006eff 85px,#0072ff 90px,#0076ff 95px,#0078ff 100px,#0077ff 105px,#0077ff 110px,#0077ff 115px,#0077ff 120px)"></i><i style="left:158px;top:179px;height:122px;width:1px;background:linear-gradient(#006dff 0px,#006dff 5px,#006dff 10px,#006cff 15px,#006cff 20px,#006aff 25px,#0069ff 30px,#0066ff 35px,#0063ff 40px,#005fff 45px,#005cff 50px,#005aff 55px,#0059ff 60px,#0059ff 65px,#005bff 70px,#005eff 75px,#0062ff 80px,#0066ff 85px,#0069ff 90px,#006dff 95px,#006eff 100px,#006eff 105px,#006dff 110px,#006dff 115px,#006dff 120px)"></i><i style="left:159px;top:179px;height:122px;width:1px;background:linear-gradient(#0060ff 0px,#0060ff 5px,#0060ff 10px,#005fff 15px,#005fff 20px,#005eff 25px,#005cff 30px,#005aff 35px,#0057ff 40px,#0054ff 45px,#0052ff 50px,#0050ff 55px,#004fff 60px,#004fff 65px,#0051ff 70px,#0054ff 75px,#0057ff 80px,#005aff 85px,#005dff 90px,#0060ff 95px,#0061ff 100px,#0060ff 105px,#0060ff 110px,#0060ff 115px,#0060ff 120px)"></i><i style="left:160px;top:179px;height:122px;width:1px;background:linear-gradient(#0069ff 0px,#0069ff 5px,#0069ff 10px,#0069ff 15px,#0068ff 20px,#0067ff 25px,#0066ff 30px,#0064ff 35px,#0062ff 40px,#0060ff 45px,#005dff 50px,#005cff 55px,#005bff 60px,#005bff 65px,#005dff 70px,#005fff 75px,#0061ff 80px,#0064ff 85px,#0067ff 90px,#0069ff 95px,#006aff 100px,#0069ff 105px,#0069ff 110px,#0069ff 115px,#0069ff 120px)"></i><i style="left:161px;top:179px;height:122px;width:1px;background:linear-gradient(#006eff 0px,#006eff 5px,#006eff 10px,#006eff 15px,#006dff 20px,#006cff 25px,#006bff 30px,#006aff 35px,#0068ff 40px,#0066ff 45px,#0065ff 50px,#0063ff 55px,#0063ff 60px,#0063ff 65px,#0064ff 70px,#0066ff 75px,#0068ff 80px,#006aff 85px,#006cff 90px,#006eff 95px,#006fff 100px,#006eff 105px,#006eff 110px,#006eff 115px,#006eff 120px)"></i><i style="left:162px;top:179px;height:122px;width:1px;background:linear-gradient(#0086ff 0px,#0086ff 5px,#0086ff 10px,#0086ff 15px,#0086ff 20px,#0085ff 25px,#0084ff 30px,#0083ff 35px,#0082ff 40px,#0080ff 45px,#007fff 50px,#007eff 55px,#007eff 60px,#007eff 65px,#007fff 70px,#0080ff 75px,#0081ff 80px,#0083ff 85px,#0085ff 90px,#0087ff 95px,#0087ff 100px,#0087ff 105px,#0086ff 110px,#0086ff 115px,#0086ff 120px)"></i><i style="left:163px;top:179px;height:122px;width:1px;background:linear-gradient(#007dff 0px,#007dff 5px,#007dff 10px,#007dff 15px,#007dff 20px,#007cff 25px,#007bff 30px,#007bff 35px,#007aff 40px,#0078ff 45px,#0077ff 50px,#0077ff 55px,#0076ff 60px,#0077ff 65px,#0077ff 70px,#0078ff 75px,#0079ff 80px,#007bff 85px,#007cff 90px,#007dff 95px,#007eff 100px,#007dff 105px,#007dff 110px,#007dff 115px,#007dff 120px)"></i><i style="left:164px;top:179px;height:122px;width:1px;background:linear-gradient(#006dff 0px,#006dff 5px,#006dff 10px,#006dff 15px,#006dff 20px,#006cff 25px,#006cff 30px,#006bff 35px,#006aff 40px,#006aff 45px,#0069ff 50px,#0068ff 55px,#0068ff 60px,#0068ff 65px,#0069ff 70px,#0069ff 75px,#006aff 80px,#006bff 85px,#006cff 90px,#006dff 95px,#006eff 100px,#006dff 105px,#006dff 110px,#006dff 115px,#006dff 120px)"></i><i style="left:165px;top:179px;height:122px;width:1px;background:linear-gradient(#0053ff 0px,#0053ff 5px,#0053ff 10px,#0053ff 15px,#0052ff 20px,#0052ff 25px,#0052ff 30px,#0051ff 35px,#0051ff 40px,#0050ff 45px,#0050ff 50px,#004fff 55px,#004fff 60px,#004fff 65px,#004fff 70px,#0050ff 75px,#0051ff 80px,#0051ff 85px,#0052ff 90px,#0053ff 95px,#0053ff 100px,#0053ff 105px,#0053ff 110px,#0053ff 115px,#0053ff 120px)"></i><i style="left:166px;top:179px;height:122px;width:1px;background:linear-gradient(#0070ff 0px,#0070ff 5px,#0070ff 10px,#0070ff 15px,#0070ff 20px,#0070ff 25px,#006fff 30px,#006fff 35px,#006fff 40px,#006eff 45px,#006eff 50px,#006eff 55px,#006dff 60px,#006dff 65px,#006eff 70px,#006eff 75px,#006fff 80px,#006fff 85px,#0070ff 90px,#0071ff 95px,#0071ff 100px,#0070ff 105px,#0070ff 110px,#0070ff 115px,#0070ff 120px)"></i><i style="left:167px;top:179px;height:122px;width:1px;background:linear-gradient(#0071ff 0px,#0071ff 5px,#0071ff 10px,#0071ff 15px,#0071ff 20px,#0071ff 25px,#0071ff 30px,#0071ff 35px,#0070ff 40px,#0070ff 45px,#0070ff 50px,#0070ff 55px,#006fff 60px,#006fff 65px,#0070ff 70px,#0070ff 75px,#0070ff 80px,#0071ff 85px,#0071ff 90px,#0072ff 95px,#0072ff 100px,#0072ff 105px,#0071ff 110px,#0071ff 115px,#0071ff 120px)"></i><i style="left:168px;top:179px;height:122px;width:1px;background:linear-gradient(#005eff 0px,#005eff 5px,#005eff 10px,#005eff 15px,#005eff 20px,#005eff 25px,#005eff 30px,#005eff 35px,#005dff 40px,#005dff 45px,#005dff 50px,#005dff 55px,#005dff 60px,#005dff 65px,#005dff 70px,#005dff 75px,#005dff 80px,#005eff 85px,#005eff 90px,#005eff 95px,#005fff 100px,#005eff 105px,#005eff 110px,#005eff 115px,#005eff 120px)"></i><i style="left:169px;top:179px;height:122px;width:1px;background:linear-gradient(#0068ff 0px,#0068ff 5px,#0068ff 10px,#0068ff 15px,#0068ff 20px,#0068ff 25px,#0068ff 30px,#0068ff 35px,#0068ff 40px,#0068ff 45px,#0067ff 50px,#0067ff 55px,#0067ff 60px,#0067ff 65px,#0067ff 70px,#0068ff 75px,#0068ff 80px,#0068ff 85px,#0068ff 90px,#0069ff 95px,#0069ff 100px,#0068ff 105px,#0068ff 110px,#0068ff 115px,#0068ff 120px)"></i><i style="left:170px;top:179px;height:122px;width:1px;background:linear-gradient(#0059ff 0px,#0059ff 5px,#0059ff 10px,#0059ff 15px,#0059ff 20px,#0059ff 25px,#0059ff 30px,#0059ff 35px,#0059ff 40px,#0059ff 45px,#0059ff 50px,#0059ff 55px,#0059ff 60px,#0059ff 65px,#0059ff 70px,#0059ff 75px,#0059ff 80px,#0059ff 85px,#005aff 90px,#005aff 95px,#005aff 100px,#005aff 105px,#0059ff 110px,#0059ff 115px,#0059ff 120px)"></i><i style="left:171px;top:179px;height:122px;width:1px;background:linear-gradient(#008aff 0px,#008aff 5px,#008aff 10px,#008aff 15px,#008aff 20px,#008aff 25px,#008aff 30px,#008aff 35px,#008aff 40px,#008aff 45px,#008aff 50px,#008aff 55px,#008aff 60px,#008aff 65px,#008aff 70px,#008aff 75px,#008aff 80px,#008aff 85px,#008bff 90px,#008bff 95px,#008bff 100px,#008bff 105px,#008aff 110px,#008aff 115px,#008aff 120px)"></i><i style="left:172px;top:179px;height:122px;width:1px;background:linear-gradient(#0089ff 0px,#0089ff 5px,#0089ff 10px,#0089ff 15px,#0089ff 20px,#0089ff 25px,#0089ff 30px,#0089ff 35px,#0089ff 40px,#0089ff 45px,#0089ff 50px,#0089ff 55px,#0089ff 60px,#0089ff 65px,#0089ff 70px,#0089ff 75px,#0089ff 80px,#0089ff 85px,#0089ff 90px,#0089ff 95px,#0089ff 100px,#0089ff 105px,#0089ff 110px,#0089ff 115px,#0089ff 120px)"></i><i style="left:173px;top:179px;height:122px;width:1px;background:linear-gradient(#0082ff 0px,#0082ff 5px,#0082ff 10px,#0082ff 15px,#0082ff 20px,#0082ff 25px,#0082ff 30px,#0082ff 35px,#0082ff 40px,#0082ff 45px,#0082ff 50px,#0082ff 55px,#0082ff 60px,#0082ff 65px,#0082ff 70px,#0082ff 75px,#0082ff 80px,#0082ff 85px,#0082ff 90px,#0082ff 95px,#0082ff 100px,#0082ff 105px,#0082ff 110px,#0082ff 115px,#0082ff 120px)"></i><i style="left:174px;top:179px;height:122px;width:1px;background:linear-gradient(#0076ff 0px,#0076ff 5px,#0076ff 10px,#0076ff 15px,#0076ff 20px,#0076ff 25px,#0076ff 30px,#0076ff 35px,#0076ff 40px,#0076ff 45px,#0076ff 50px,#0076ff 55px,#0076ff 60px,#0076ff 65px,#0076ff 70px,#0076ff 75px,#0076ff 80px,#0076ff 85px,#0076ff 90px,#0076ff 95px,#0076ff 100px,#0076ff 105px,#0076ff 110px,#0076ff 115px,#0076ff 120px)"></i><i style="left:175px;top:179px;height:122px;width:1px;background:linear-gradient(#005bff 0px,#005bff 5px,#005bff 10px,#005bff 15px,#005bff 20px,#005bff 25px,#005bff 30px,#005bff 35px,#005bff 40px,#005bff 45px,#005bff 50px,#005bff 55px,#005bff 60px,#005bff 65px,#005bff 70px,#005bff 75px,#005bff 80px,#005bff 85px,#005bff 90px,#005bff 95px,#005bff 100px,#005bff 105px,#005bff 110px,#005bff 115px,#005bff 120px)"></i><i style="left:176px;top:179px;height:122px;width:1px;background:linear-gradient(#0063ff 0px,#0063ff 5px,#0063ff 10px,#0063ff 15px,#0063ff 20px,#0063ff 25px,#0063ff 30px,#0063ff 35px,#0063ff 40px,#0063ff 45px,#0063ff 50px,#0063ff 55px,#0063ff 60px,#0063ff 65px,#0063ff 70px,#0063ff 75px,#0063ff 80px,#0063ff 85px,#0063ff 90px,#0063ff 95px,#0063ff 100px,#0063ff 105px,#0063ff 110px,#0063ff 115px,#0063ff 120px)"></i><i style="left:177px;top:179px;height:122px;width:1px;background:linear-gradient(#0057ff 0px,#0057ff 5px,#0057ff 10px,#0057ff 15px,#0057ff 20px,#0057ff 25px,#0057ff 30px,#0057ff 35px,#0057ff 40px,#0057ff 45px,#0057ff 50px,#0057ff 55px,#0057ff 60px,#0057ff 65px,#0057ff 70px,#0057ff 75px,#0057ff 80px,#0057ff 85px,#0058ff 90px,#0058ff 95px,#0058ff 100px,#0058ff 105px,#0057ff 110px,#0057ff 115px,#0057ff 120px)"></i></div>
<div class="p" style="clip-path:path('M188.0,299.69 A84.2,85.0 0 1 1 342.2,297.39 L342.2,282.5 L188.0,282.5 Z')"><i style="left:179px;top:179px;width:171px;height:1px;background:linear-gradient(90deg,#003fff 0px,#0047ff 5px,#004eff 10px,#0054ff 15px,#005bff 20px,#0062ff 25px,#0066ff 30px,#0065ff 35px,#0063ff 40px,#0062ff 45px,#0060ff 50px,#005eff 55px,#005dff 60px,#005cff 65px,#005cff 70px,#005bff 75px,#005bff 80px,#005cff 85px,#005fff 90px,#0062ff 95px,#0067ff 100px,#006dff 105px,#0076ff 110px,#007aff 115px,#0078ff 120px,#0074ff 125px,#006fff 130px,#0069ff 135px,#0063ff 140px,#0061ff 145px,#005fff 150px,#005cff 155px,#005aff 160px,#0058ff 165px,#005cff 170px)"></i><i style="left:179px;top:180px;width:171px;height:1px;background:linear-gradient(90deg,#0044ff 0px,#0043ff 5px,#0043ff 10px,#0042ff 15px,#0042ff 20px,#0042ff 25px,#0043ff 30px,#0048ff 35px,#004dff 40px,#0052ff 45px,#0056ff 50px,#0059ff 55px,#005dff 60px,#0061ff 65px,#0064ff 70px,#0067ff 75px,#0069ff 80px,#006bff 85px,#006bff 90px,#006cff 95px,#006eff 100px,#0071ff 105px,#0075ff 110px,#007aff 115px,#007fff 120px,#0083ff 125px,#0087ff 130px,#008aff 135px,#008cff 140px,#0091ff 145px,#0097ff 150px,#009cfe 155px,#00a1fe 160px,#00a7fe 165px,#00a9fd 170px)"></i><i style="left:179px;top:181px;width:171px;height:1px;background:linear-gradient(90deg,#0080ff 0px,#007eff 5px,#007bff 10px,#0078ff 15px,#0075ff 20px,#0073ff 25px,#0070ff 30px,#006cff 35px,#0069ff 40px,#0065ff 45px,#0061ff 50px,#005cff 55px,#005fff 60px,#0063ff 65px,#0067ff 70px,#0069ff 75px,#006cff 80px,#006dff 85px,#006bff 90px,#006aff 95px,#0068ff 100px,#0067ff 105px,#0065ff 110px,#0063ff 115px,#0062ff 120px,#0060ff 125px,#005fff 130px,#005dff 135px,#005bff 140px,#006aff 145px,#0079ff 150px,#0089ff 155px,#0098ff 160px,#00a8fd 165px,#00affd 170px)"></i><i style="left:179px;top:182px;width:171px;height:1px;background:linear-gradient(90deg,#0060ff 0px,#006aff 5px,#0074ff 10px,#007eff 15px,#0088ff 20px,#0093ff 25px,#0095ff 30px,#008cff 35px,#0083ff 40px,#007bff 45px,#0071ff 50px,#0066ff 55px,#0066ff 60px,#0068ff 65px,#006aff 70px,#006bff 75px,#006cff 80px,#006dff 85px,#006cff 90px,#006cff 95px,#006dff 100px,#006fff 105px,#0072ff 110px,#0074ff 115px,#0076ff 120px,#0077ff 125px,#0077ff 130px,#0077ff 135px,#0077ff 140px,#0077ff 145px,#0078ff 150px,#0079ff 155px,#0079ff 160px,#007aff 165px,#0077ff 170px)"></i><i style="left:179px;top:183px;width:171px;height:1px;background:linear-gradient(90deg,#005fff 0px,#005eff 5px,#005dff 10px,#005cff 15px,#005bff 20px,#005bff 25px,#005dff 30px,#0064ff 35px,#006cff 40px,#0073ff 45px,#0079ff 50px,#007cff 55px,#007dff 60px,#007dff 65px,#007bff 70px,#007aff 75px,#0079ff 80px,#0077ff 85px,#0071ff 90px,#006bff 95px,#0065ff 100px,#005dff 105px,#0051ff 110px,#004eff 115px,#0053ff 120px,#005bff 125px,#0064ff 130px,#006eff 135px,#0078ff 140px,#006eff 145px,#0063ff 150px,#0058ff 155px,#004eff 160px,#0043ff 165px,#003dff 170px)"></i><i style="left:179px;top:184px;width:171px;height:1px;background:linear-gradient(90deg,#0065ff 0px,#0063ff 5px,#0060ff 10px,#005eff 15px,#005cff 20px,#005aff 25px,#0056ff 30px,#0050ff 35px,#004bff 40px,#0046ff 45px,#003fff 50px,#0037ff 55px,#0042ff 60px,#0051ff 65px,#005eff 70px,#0068ff 75px,#0071ff 80px,#0076ff 85px,#0071ff 90px,#006eff 95px,#006aff 100px,#0065ff 105px,#005fff 110px,#005aff 115px,#0057ff 120px,#0053ff 125px,#0050ff 130px,#004dff 135px,#004aff 140px,#0053ff 145px,#005cff 150px,#0066ff 155px,#006fff 160px,#0078ff 165px,#007aff 170px)"></i><i style="left:179px;top:185px;width:171px;height:1px;background:linear-gradient(90deg,#006eff 0px,#006dff 5px,#006dff 10px,#006dff 15px,#006cff 20px,#006dff 25px,#006cff 30px,#006aff 35px,#006aff 40px,#0069ff 45px,#0066ff 50px,#0061ff 55px,#0064ff 60px,#0067ff 65px,#006aff 70px,#006dff 75px,#006fff 80px,#0070ff 85px,#006eff 90px,#006dff 95px,#006cff 100px,#006cff 105px,#006cff 110px,#0069ff 115px,#0061ff 120px,#0057ff 125px,#004dff 130px,#0042ff 135px,#0037ff 140px,#004bff 145px,#005fff 150px,#0073ff 155px,#0087ff 160px,#009cfe 165px,#00a4fe 170px)"></i><i style="left:179px;top:186px;width:171px;height:1px;background:linear-gradient(90deg,#006dff 0px,#006bff 5px,#006aff 10px,#0069ff 15px,#0067ff 20px,#0067ff 25px,#0069ff 30px,#0071ff 35px,#007aff 40px,#0083ff 45px,#0088ff 50px,#008aff 55px,#0081ff 60px,#0074ff 65px,#006aff 70px,#0061ff 75px,#0059ff 80px,#0054ff 85px,#0059ff 90px,#005dff 95px,#0063ff 100px,#006bff 105px,#0078ff 110px,#0080ff 115px,#0083ff 120px,#0086ff 125px,#0087ff 130px,#0087ff 135px,#0087ff 140px,#0086ff 145px,#0084ff 150px,#0083ff 155px,#0081ff 160px,#007fff 165px,#007eff 170px)"></i><i style="left:179px;top:187px;width:171px;height:1px;background:linear-gradient(90deg,#0073ff 0px,#0070ff 5px,#006eff 10px,#006bff 15px,#0069ff 20px,#0068ff 25px,#0067ff 30px,#0068ff 35px,#006bff 40px,#006eff 45px,#006eff 50px,#006aff 55px,#006cff 60px,#0070ff 65px,#0072ff 70px,#0074ff 75px,#0076ff 80px,#0076ff 85px,#0074ff 90px,#0074ff 95px,#0075ff 100px,#0077ff 105px,#007bff 110px,#007dff 115px,#007cff 120px,#007aff 125px,#0077ff 130px,#0073ff 135px,#006eff 140px,#006dff 145px,#006cff 150px,#006bff 155px,#006aff 160px,#006aff 165px,#006bff 170px)"></i><i style="left:179px;top:188px;width:171px;height:1px;background:linear-gradient(90deg,#0069ff 0px,#005eff 5px,#0052ff 10px,#0047ff 15px,#003bff 20px,#0031ff 25px,#0031ff 30px,#0043ff 35px,#0057ff 40px,#006bff 45px,#007aff 50px,#0084ff 55px,#0084ff 60px,#0082ff 65px,#007fff 70px,#007cff 75px,#007aff 80px,#0078ff 85px,#0077ff 90px,#0079ff 95px,#007dff 100px,#0085ff 105px,#008fff 110px,#0092ff 115px,#008aff 120px,#007fff 125px,#0070ff 130px,#0061ff 135px,#0050ff 140px,#0056ff 145px,#005dff 150px,#0063ff 155px,#006aff 160px,#0070ff 165px,#0072ff 170px)"></i><i style="left:179px;top:189px;width:171px;height:1px;background:linear-gradient(90deg,#0073ff 0px,#0070ff 5px,#006dff 10px,#006aff 15px,#0067ff 20px,#0065ff 25px,#0067ff 30px,#006fff 35px,#0079ff 40px,#0083ff 45px,#0089ff 50px,#0088ff 55px,#0081ff 60px,#0078ff 65px,#0070ff 70px,#0069ff 75px,#0063ff 80px,#005eff 85px,#005dff 90px,#005cff 95px,#005cff 100px,#005dff 105px,#0060ff 110px,#0062ff 115px,#0062ff 120px,#0063ff 125px,#0064ff 130px,#0064ff 135px,#0065ff 140px,#006eff 145px,#0076ff 150px,#007fff 155px,#0087ff 160px,#0090ff 165px,#0092ff 170px)"></i><i style="left:179px;top:190px;width:171px;height:1px;background:linear-gradient(90deg,#0059ff 0px,#0059ff 5px,#005aff 10px,#005aff 15px,#005bff 20px,#005dff 25px,#0062ff 30px,#006cff 35px,#0079ff 40px,#0085ff 45px,#008cff 50px,#008dff 55px,#0086ff 60px,#007eff 65px,#0076ff 70px,#006fff 75px,#0068ff 80px,#0064ff 85px,#0065ff 90px,#0068ff 95px,#006dff 100px,#0076ff 105px,#0083ff 110px,#008bff 115px,#008bff 120px,#0089ff 125px,#0085ff 130px,#0080ff 135px,#007bff 140px,#006eff 145px,#0061ff 150px,#0053ff 155px,#0046ff 160px,#0038ff 165px,#0034ff 170px)"></i><i style="left:179px;top:191px;width:171px;height:1px;background:linear-gradient(90deg,#0042ff 0px,#0049ff 5px,#004fff 10px,#0055ff 15px,#005cff 20px,#0063ff 25px,#006bff 30px,#0074ff 35px,#0081ff 40px,#008dff 45px,#0093ff 50px,#0091ff 55px,#0094ff 60px,#0095ff 65px,#0095ff 70px,#0094ff 75px,#0093ff 80px,#0090ff 85px,#0086ff 90px,#007fff 95px,#007aff 100px,#0076ff 105px,#0070ff 110px,#006cff 115px,#0068ff 120px,#0063ff 125px,#005eff 130px,#0058ff 135px,#0052ff 140px,#0051ff 145px,#0050ff 150px,#004fff 155px,#004eff 160px,#004dff 165px,#0054ff 170px)"></i><i style="left:179px;top:192px;width:171px;height:1px;background:linear-gradient(90deg,#0095ff 0px,#0085ff 5px,#0076ff 10px,#0067ff 15px,#0058ff 20px,#004bff 25px,#0049ff 30px,#005aff 35px,#0070ff 40px,#0086ff 45px,#0094ff 50px,#009aff 55px,#0095ff 60px,#008eff 65px,#0086ff 70px,#007fff 75px,#0078ff 80px,#0071ff 85px,#006aff 90px,#0063ff 95px,#005eff 100px,#0058ff 105px,#0053ff 110px,#0050ff 115px,#0050ff 120px,#0051ff 125px,#0054ff 130px,#0056ff 135px,#0059ff 140px,#0060ff 145px,#0066ff 150px,#006dff 155px,#0073ff 160px,#007aff 165px,#007aff 170px)"></i><i style="left:179px;top:193px;width:171px;height:1px;background:linear-gradient(90deg,#0080ff 0px,#0080ff 5px,#0080ff 10px,#0081ff 15px,#0082ff 20px,#0084ff 25px,#0087ff 30px,#008cff 35px,#0096ff 40px,#00a1fe 45px,#00a3fe 50px,#009bff 55px,#0097ff 60px,#0093ff 65px,#008eff 70px,#0089ff 75px,#0084ff 80px,#007cff 85px,#006eff 90px,#0060ff 95px,#0051ff 100px,#003fff 105px,#0029ff 110px,#0023ff 115px,#0030ff 120px,#0042ff 125px,#0059ff 130px,#0071ff 135px,#008aff 140px,#0079ff 145px,#0069ff 150px,#0059ff 155px,#0049ff 160px,#0038ff 165px,#0030ff 170px)"></i><i style="left:179px;top:194px;width:171px;height:1px;background:linear-gradient(90deg,#0047ff 0px,#004cff 5px,#0050ff 10px,#0055ff 15px,#005bff 20px,#0062ff 25px,#006aff 30px,#0075ff 35px,#0086ff 40px,#0096ff 45px,#009ffe 50px,#009cff 55px,#0094ff 60px,#008aff 65px,#0081ff 70px,#0078ff 75px,#006fff 80px,#0066ff 85px,#005fff 90px,#0057ff 95px,#0050ff 100px,#004bff 105px,#0046ff 110px,#0046ff 115px,#004aff 120px,#0051ff 125px,#0059ff 130px,#0062ff 135px,#006cff 140px,#0061ff 145px,#0056ff 150px,#004bff 155px,#0040ff 160px,#0035ff 165px,#0031ff 170px)"></i><i style="left:179px;top:195px;width:171px;height:1px;background:linear-gradient(90deg,#005fff 0px,#005aff 5px,#0056ff 10px,#0051ff 15px,#004dff 20px,#004bff 25px,#0054ff 30px,#006fff 35px,#0092ff 40px,#00b5fc 45px,#00cefa 50px,#00d9f9 55px,#00d0fa 60px,#00c1fb 65px,#00b1fd 70px,#00a2fe 75px,#0094ff 80px,#0087ff 85px,#0080ff 90px,#007bff 95px,#007aff 100px,#007dff 105px,#0084ff 110px,#0084ff 115px,#0079ff 120px,#006bff 125px,#005bff 130px,#004aff 135px,#0038ff 140px,#004bff 145px,#005eff 150px,#0072ff 155px,#0085ff 160px,#0099ff 165px,#009dfe 170px)"></i><i style="left:179px;top:196px;width:171px;height:1px;background:linear-gradient(90deg,#0059ff 0px,#0059ff 5px,#0059ff 10px,#0059ff 15px,#005aff 20px,#005dff 25px,#0066ff 30px,#007aff 35px,#0096ff 40px,#00b4fc 45px,#00c6fb 50px,#00cafb 55px,#00c2fb 60px,#00b6fc 65px,#00aafd 70px,#009efe 75px,#0091ff 80px,#0085ff 85px,#007cff 90px,#0075ff 95px,#0070ff 100px,#006fff 105px,#0072ff 110px,#0078ff 115px,#007dff 120px,#0083ff 125px,#0089ff 130px,#008fff 135px,#0094ff 140px,#0087ff 145px,#0079ff 150px,#006cff 155px,#005eff 160px,#0051ff 165px,#0047ff 170px)"></i><i style="left:179px;top:197px;width:171px;height:1px;background:linear-gradient(90deg,#0073ff 0px,#0073ff 5px,#0073ff 10px,#0072ff 15px,#0073ff 20px,#0076ff 25px,#007dff 30px,#008bff 35px,#00a4fe 40px,#00bdfc 45px,#00cafb 50px,#00c8fb 55px,#00c0fb 60px,#00b6fc 65px,#00abfd 70px,#00a0fe 75px,#0095ff 80px,#0088ff 85px,#007dff 90px,#0072ff 95px,#006aff 100px,#0065ff 105px,#0064ff 110px,#0066ff 115px,#006bff 120px,#0071ff 125px,#0078ff 130px,#007fff 135px,#0085ff 140px,#007aff 145px,#006fff 150px,#0064ff 155px,#0058ff 160px,#004dff 165px,#004cff 170px)"></i><i style="left:179px;top:198px;width:171px;height:1px;background:linear-gradient(90deg,#0068ff 0px,#0064ff 5px,#0061ff 10px,#005dff 15px,#005aff 20px,#005aff 25px,#0064ff 30px,#0080ff 35px,#00a6fe 40px,#00cefa 45px,#00e8f8 50px,#09eaf1 55px,#00e8f8 60px,#00dbf9 65px,#00ccfa 70px,#00bffc 75px,#00b0fd 80px,#009ffe 85px,#008bff 90px,#0078ff 95px,#0066ff 100px,#0056ff 105px,#0045ff 110px,#0040ff 115px,#0048ff 120px,#0053ff 125px,#0061ff 130px,#0070ff 135px,#0080ff 140px,#0077ff 145px,#006fff 150px,#0067ff 155px,#005fff 160px,#0057ff 165px,#0056ff 170px)"></i><i style="left:179px;top:199px;width:171px;height:1px;background:linear-gradient(90deg,#0055ff 0px,#0058ff 5px,#005bff 10px,#005dff 15px,#0060ff 20px,#0066ff 25px,#0071ff 30px,#0084ff 35px,#00a3fe 40px,#00c3fb 45px,#00d4fa 50px,#00d5fa 55px,#00cffa 60px,#00c7fb 65px,#00bffb 70px,#00b8fc 75px,#00aefd 80px,#00a0fe 85px,#0090ff 90px,#0080ff 95px,#0073ff 100px,#006bff 105px,#0067ff 110px,#0068ff 115px,#006bff 120px,#006fff 125px,#0075ff 130px,#007aff 135px,#0080ff 140px,#007bff 145px,#0076ff 150px,#0071ff 155px,#006dff 160px,#0068ff 165px,#0065ff 170px)"></i><i style="left:179px;top:200px;width:171px;height:1px;background:linear-gradient(90deg,#006dff 0px,#006cff 5px,#006aff 10px,#0069ff 15px,#0068ff 20px,#006aff 25px,#0075ff 30px,#008dff 35px,#00b4fc 40px,#00dbf9 45px,#0aeaf0 50px,#0febec 55px,#09eaf1 60px,#00e8f8 65px,#00dff9 70px,#00d7f9 75px,#00cdfa 80px,#00bffc 85px,#00affd 90px,#009ffe 95px,#0095ff 100px,#0094ff 105px,#009bff 110px,#0097ff 115px,#0085ff 120px,#0070ff 125px,#0057ff 130px,#003dff 135px,#0022fd 140px,#002cff 145px,#0037ff 150px,#0042ff 155px,#004eff 160px,#0059ff 165px,#0062ff 170px)"></i><i style="left:179px;top:201px;width:171px;height:1px;background:linear-gradient(90deg,#0044ff 0px,#0045ff 5px,#0046ff 10px,#0047ff 15px,#0048ff 20px,#004cff 25px,#0059ff 30px,#0074ff 35px,#009dfe 40px,#00c8fb 45px,#00e1f9 50px,#00e8f8 55px,#00e8f8 60px,#00e6f8 65px,#00e5f8 70px,#00e5f8 75px,#00e3f8 80px,#00d7f9 85px,#00c0fb 90px,#00a8fd 95px,#0096ff 100px,#008bff 105px,#0087ff 110px,#007eff 115px,#006eff 120px,#005dff 125px,#004bff 130px,#0037ff 135px,#0023ff 140px,#002fff 145px,#003bff 150px,#0047ff 155px,#0053ff 160px,#0060ff 165px,#006aff 170px)"></i><i style="left:179px;top:202px;width:171px;height:1px;background:linear-gradient(90deg,#004fff 0px,#004fff 5px,#0050ff 10px,#0050ff 15px,#0052ff 20px,#0056ff 25px,#0060ff 30px,#0075ff 35px,#009aff 40px,#00c1fb 45px,#00d4fa 50px,#00d5fa 55px,#00d8f9 60px,#00ddf9 65px,#00e4f8 70px,#04e9f5 75px,#0aeaf0 80px,#01e8f7 85px,#00cbfa 90px,#00abfd 95px,#0090ff 100px,#007cff 105px,#006bff 110px,#005fff 115px,#005aff 120px,#0055ff 125px,#0052ff 130px,#0050ff 135px,#004eff 140px,#004aff 145px,#0048ff 150px,#0045ff 155px,#0043ff 160px,#0041ff 165px,#0042ff 170px)"></i><i style="left:179px;top:203px;width:171px;height:1px;background:linear-gradient(90deg,#0050ff 0px,#0053ff 5px,#0055ff 10px,#0058ff 15px,#005bff 20px,#0061ff 25px,#006cff 30px,#0084ff 35px,#00abfd 40px,#00d5fa 45px,#02e8f6 50px,#02e9f6 55px,#01e8f7 60px,#02e8f7 65px,#05e9f4 70px,#0eebed 75px,#15ece7 80px,#0aeaf0 85px,#00d3fa 90px,#00b2fd 95px,#0096ff 100px,#0083ff 105px,#0075ff 110px,#0070ff 115px,#0072ff 120px,#0077ff 125px,#007dff 130px,#0084ff 135px,#008bff 140px,#0083ff 145px,#007bff 150px,#0074ff 155px,#006cff 160px,#0065ff 165px,#0061ff 170px)"></i><i style="left:179px;top:204px;width:171px;height:1px;background:linear-gradient(90deg,#0053ff 0px,#0059ff 5px,#005fff 10px,#0064ff 15px,#006bff 20px,#0074ff 25px,#007fff 30px,#0092ff 35px,#00b6fc 40px,#00dcf9 45px,#03e9f5 50px,#00e6f8 55px,#00dff9 60px,#00ddf9 65px,#00e0f9 70px,#03e9f6 75px,#0cebee 80px,#02e8f7 85px,#00d0fa 90px,#00b0fd 95px,#009aff 100px,#008fff 105px,#008eff 110px,#008cff 115px,#0087ff 120px,#0083ff 125px,#007fff 130px,#007bff 135px,#0076ff 140px,#006eff 145px,#0066ff 150px,#005fff 155px,#0057ff 160px,#0050ff 165px,#0050ff 170px)"></i><i style="left:179px;top:205px;width:171px;height:1px;background:linear-gradient(90deg,#006dff 0px,#0067ff 5px,#0061ff 10px,#005aff 15px,#0055ff 20px,#0052ff 25px,#005aff 30px,#0075ff 35px,#00a3fe 40px,#00d4fa 45px,#04e9f4 50px,#07eaf2 55px,#02e8f7 60px,#00e8f8 65px,#06e9f4 70px,#15ece8 75px,#23f0dc 80px,#19ede4 85px,#00dff9 90px,#00b6fc 95px,#0094ff 100px,#007cff 105px,#0069ff 110px,#005bff 115px,#0052ff 120px,#004dff 125px,#004aff 130px,#0048ff 135px,#0047ff 140px,#0044ff 145px,#0043ff 150px,#0042ff 155px,#0041ff 160px,#0041ff 165px,#0044ff 170px)"></i><i style="left:179px;top:206px;width:171px;height:1px;background:linear-gradient(90deg,#006cff 0px,#006aff 5px,#0068ff 10px,#0065ff 15px,#0064ff 20px,#0065ff 25px,#006dff 30px,#0082ff 35px,#00aafd 40px,#00d5fa 45px,#00e5f8 50px,#00e0f9 55px,#00def9 60px,#00e4f8 65px,#0aeaf0 70px,#23f0dc 75px,#3bf5c9 80px,#38f4cb 85px,#15ede7 90px,#00d4fa 95px,#00b3fc 100px,#009cfe 105px,#008dff 110px,#0084ff 115px,#0081ff 120px,#0081ff 125px,#0083ff 130px,#0085ff 135px,#0088ff 140px,#007eff 145px,#0075ff 150px,#006dff 155px,#0065ff 160px,#005cff 165px,#005dff 170px)"></i><i style="left:179px;top:207px;width:171px;height:1px;background:linear-gradient(90deg,#0075ff 0px,#006dff 5px,#0065ff 10px,#005cff 15px,#0054ff 20px,#004fff 25px,#0054ff 30px,#006cff 35px,#0097ff 40px,#00c5fb 45px,#00d8f9 50px,#00d3fa 55px,#00d6fa 60px,#00e1f9 65px,#0debee 70px,#2df2d4 75px,#50f5b2 80px,#52f5af 85px,#29f1d8 90px,#00e2f9 95px,#00bbfc 100px,#009bff 105px,#007fff 110px,#006eff 115px,#0067ff 120px,#0065ff 125px,#0066ff 130px,#0069ff 135px,#006dff 140px,#0072ff 145px,#0078ff 150px,#007fff 155px,#0086ff 160px,#008cff 165px,#0089ff 170px)"></i><i style="left:179px;top:208px;width:171px;height:1px;background:linear-gradient(90deg,#007fff 0px,#007cff 5px,#0077ff 10px,#0073ff 15px,#006fff 20px,#006eff 25px,#0074ff 30px,#0088ff 35px,#00b1fd 40px,#00ddf9 45px,#02e8f6 50px,#00e0f9 55px,#00ddf9 60px,#00e4f8 65px,#0debee 70px,#2af1d6 75px,#4af5b7 80px,#4df5b5 85px,#29f1d7 90px,#00e6f8 95px,#00c1fb 100px,#00a3fe 105px,#0089ff 110px,#0078ff 115px,#0070ff 120px,#006fff 125px,#0070ff 130px,#0074ff 135px,#0078ff 140px,#007cff 145px,#0080ff 150px,#0086ff 155px,#008bff 160px,#0091ff 165px,#0090ff 170px)"></i><i style="left:179px;top:209px;width:171px;height:1px;background:linear-gradient(90deg,#0066ff 0px,#0066ff 5px,#0066ff 10px,#0066ff 15px,#0066ff 20px,#0069ff 25px,#0072ff 30px,#0088ff 35px,#00b3fd 40px,#00e0f9 45px,#06e9f3 50px,#00e4f8 55px,#00dbf9 60px,#00dcf9 65px,#00e8f8 70px,#18ede4 75px,#32f3d0 80px,#34f3ce 85px,#1deee1 90px,#00e4f8 95px,#00c9fb 100px,#00b5fc 105px,#00a6fe 110px,#0099ff 115px,#008eff 120px,#0086ff 125px,#0081ff 130px,#007dff 135px,#007aff 140px,#006dff 145px,#0061ff 150px,#0055ff 155px,#0049ff 160px,#003dff 165px,#0038ff 170px)"></i><i style="left:179px;top:210px;width:171px;height:1px;background:linear-gradient(90deg,#005dff 0px,#005eff 5px,#005eff 10px,#005eff 15px,#005eff 20px,#0061ff 25px,#0068ff 30px,#0079ff 35px,#009ffe 40px,#00c7fb 45px,#00cffa 50px,#00bffb 55px,#00bafc 60px,#00c2fb 65px,#00d4fa 70px,#09eaf1 75px,#29f1d8 80px,#31f3d1 85px,#1aeee3 90px,#00e0f9 95px,#00bffb 100px,#009efe 105px,#007fff 110px,#0065ff 115px,#0052ff 120px,#0047ff 125px,#0041ff 130px,#003eff 135px,#003eff 140px,#003dff 145px,#003dff 150px,#003eff 155px,#0040ff 160px,#0041ff 165px,#0042ff 170px)"></i><i style="left:179px;top:211px;width:171px;height:1px;background:linear-gradient(90deg,#005eff 0px,#005cff 5px,#0059ff 10px,#0055ff 15px,#0052ff 20px,#0052ff 25px,#005aff 30px,#0072ff 35px,#009ffe 40px,#00d0fa 45px,#00dff9 50px,#00d5fa 55px,#00ccfa 60px,#00cefa 65px,#00daf9 70px,#09eaf1 75px,#22efdd 80px,#2af1d7 85px,#1fefe0 90px,#09eaf1 95px,#00daf9 100px,#00c4fb 105px,#00affd 110px,#0095ff 115px,#0079ff 120px,#0061ff 125px,#004cff 130px,#0039ff 135px,#0027ff 140px,#0039ff 145px,#004dff 150px,#0062ff 155px,#0077ff 160px,#008bff 165px,#0093ff 170px)"></i><i style="left:179px;top:212px;width:171px;height:1px;background:linear-gradient(90deg,#0067ff 0px,#0062ff 5px,#005cff 10px,#0055ff 15px,#004fff 20px,#004cff 25px,#0050ff 30px,#0064ff 35px,#008bff 40px,#00b7fc 45px,#00c0fb 50px,#00b0fd 55px,#00abfd 60px,#00b4fc 65px,#00c7fb 70px,#00e2f9 75px,#18ede5 80px,#27f0d9 85px,#1eeee0 90px,#0aeaf0 95px,#00daf9 100px,#00bbfc 105px,#0098ff 110px,#007cff 115px,#006bff 120px,#0062ff 125px,#0060ff 130px,#0062ff 135px,#0066ff 140px,#0064ff 145px,#0064ff 150px,#0064ff 155px,#0065ff 160px,#0066ff 165px,#0067ff 170px)"></i><i style="left:179px;top:213px;width:171px;height:1px;background:linear-gradient(90deg,#006bff 0px,#0068ff 5px,#0064ff 10px,#0060ff 15px,#005cff 20px,#005bff 25px,#0061ff 30px,#0076ff 35px,#009ffe 40px,#00ccfa 45px,#00d6fa 50px,#00c5fb 55px,#00bcfc 60px,#00c1fb 65px,#00cefa 70px,#00e3f8 75px,#13ece9 80px,#21efdd 85px,#1beee3 90px,#09eaf1 95px,#00d7f9 100px,#00b0fd 105px,#007fff 110px,#0055ff 115px,#0038ff 120px,#0024ff 125px,#021ef2 130px,#031beb 135px,#041ae8 140px,#0027ff 145px,#0040ff 150px,#005aff 155px,#0074ff 160px,#008dff 165px,#0098ff 170px)"></i><i style="left:179px;top:214px;width:171px;height:1px;background:linear-gradient(90deg,#0060ff 0px,#005fff 5px,#005eff 10px,#005cff 15px,#005bff 20px,#005cff 25px,#0064ff 30px,#007aff 35px,#00a4fe 40px,#00d2fa 45px,#00dcf9 50px,#00cbfa 55px,#00bcfc 60px,#00b9fc 65px,#00befc 70px,#00cbfb 75px,#00dbf9 80px,#00e7f8 85px,#07eaf2 90px,#07e9f3 95px,#00e5f8 100px,#00d0fa 105px,#00b3fc 110px,#0094ff 115px,#007aff 120px,#0068ff 125px,#005eff 130px,#0058ff 135px,#0055ff 140px,#004dff 145px,#0047ff 150px,#0042ff 155px,#003dff 160px,#0038ff 165px,#0036ff 170px)"></i><i style="left:179px;top:215px;width:171px;height:1px;background:linear-gradient(90deg,#0061ff 0px,#0060ff 5px,#005fff 10px,#005dff 15px,#005bff 20px,#005cff 25px,#0060ff 30px,#006bff 35px,#008aff 40px,#00acfd 45px,#00aafd 50px,#008eff 55px,#0083ff 60px,#0087ff 65px,#0093ff 70px,#00a5fe 75px,#00bbfc 80px,#00d0fa 85px,#00e3f8 90px,#08eaf1 95px,#0debee 100px,#06e9f3 105px,#00e0f9 110px,#00c4fb 115px,#00a1fe 120px,#0084ff 125px,#006eff 130px,#005cff 135px,#004cff 140px,#0053ff 145px,#005cff 150px,#0066ff 155px,#0070ff 160px,#007aff 165px,#007dff 170px)"></i><i style="left:179px;top:216px;width:171px;height:1px;background:linear-gradient(90deg,#007bff 0px,#0072ff 5px,#0068ff 10px,#005dff 15px,#0053ff 20px,#004bff 25px,#004cff 30px,#005dff 35px,#0081ff 40px,#00a8fd 45px,#00abfd 50px,#0094ff 55px,#008aff 60px,#008fff 65px,#009cff 70px,#00affd 75px,#00c6fb 80px,#00def9 85px,#07eaf2 90px,#14ece8 95px,#14ece8 100px,#02e8f7 105px,#00c7fb 110px,#009cff 115px,#0072ff 120px,#0050ff 125px,#0036ff 130px,#0023fe 135px,#031be9 140px,#0120f8 145px,#002cff 150px,#003cff 155px,#004cff 160px,#005cff 165px,#0067ff 170px)"></i><i style="left:179px;top:217px;width:171px;height:1px;background:linear-gradient(90deg,#005aff 0px,#005bff 5px,#005bff 10px,#005aff 15px,#005aff 20px,#005dff 25px,#0064ff 30px,#0076ff 35px,#009bff 40px,#00c4fb 45px,#00c9fb 50px,#00b1fd 55px,#009aff 60px,#0091ff 65px,#0090ff 70px,#0094ff 75px,#009efe 80px,#00adfd 85px,#00c5fb 90px,#00dcf9 95px,#00e6f8 100px,#00daf9 105px,#00bbfc 110px,#0096ff 115px,#0075ff 120px,#0060ff 125px,#0055ff 130px,#0051ff 135px,#0052ff 140px,#004bff 145px,#0046ff 150px,#0043ff 155px,#0040ff 160px,#003dff 165px,#003cff 170px)"></i><i style="left:179px;top:218px;width:171px;height:1px;background:linear-gradient(90deg,#0067ff 0px,#0062ff 5px,#005bff 10px,#0053ff 15px,#004cff 20px,#0048ff 25px,#004dff 30px,#0060ff 35px,#0086ff 40px,#00affd 45px,#00b5fc 50px,#009dfe 55px,#008eff 60px,#008dff 65px,#0093ff 70px,#009ffe 75px,#00b1fd 80px,#00c8fb 85px,#00e4f8 90px,#1beee3 95px,#2ff2d2 100px,#27f0d9 105px,#08eaf2 110px,#00cbfa 115px,#00acfd 120px,#0097ff 125px,#008cff 130px,#0089ff 135px,#008aff 140px,#007cff 145px,#0070ff 150px,#0066ff 155px,#005cff 160px,#0051ff 165px,#004cff 170px)"></i><i style="left:179px;top:219px;width:171px;height:1px;background:linear-gradient(90deg,#0070ff 0px,#006dff 5px,#0069ff 10px,#0064ff 15px,#005fff 20px,#005dff 25px,#0060ff 30px,#006cff 35px,#008aff 40px,#00acfd 45px,#00a9fd 50px,#008aff 55px,#0078ff 60px,#0075ff 65px,#007aff 70px,#0085ff 75px,#0095ff 80px,#00acfd 85px,#00c8fb 90px,#01e8f7 95px,#17ede6 100px,#09eaf1 105px,#00c4fb 110px,#0093ff 115px,#006cff 120px,#0051ff 125px,#0042ff 130px,#003dff 135px,#003eff 140px,#003aff 145px,#0038ff 150px,#0039ff 155px,#003aff 160px,#003bff 165px,#003dff 170px)"></i><i style="left:179px;top:220px;width:171px;height:1px;background:linear-gradient(90deg,#006aff 0px,#0068ff 5px,#0065ff 10px,#005fff 15px,#005bff 20px,#005aff 25px,#005eff 30px,#006bff 35px,#0089ff 40px,#00abfd 45px,#00a9fd 50px,#008aff 55px,#0075ff 60px,#006fff 65px,#0071ff 70px,#0077ff 75px,#0085ff 80px,#009aff 85px,#00bdfc 90px,#01e8f7 95px,#25f0db 100px,#23f0dc 105px,#02e8f6 110px,#00bffb 115px,#0096ff 120px,#0078ff 125px,#0067ff 130px,#005fff 135px,#005eff 140px,#0060ff 145px,#0065ff 150px,#006dff 155px,#0074ff 160px,#007bff 165px,#007eff 170px)"></i><i style="left:179px;top:221px;width:171px;height:1px;background:linear-gradient(90deg,#0059ff 0px,#0059ff 5px,#0058ff 10px,#0055ff 15px,#0053ff 20px,#0054ff 25px,#005bff 30px,#006aff 35px,#008aff 40px,#00aefd 45px,#00aefd 50px,#0090ff 55px,#0079ff 60px,#0072ff 65px,#0072ff 70px,#0078ff 75px,#0084ff 80px,#0099ff 85px,#00bafc 90px,#00e7f8 95px,#25f0db 100px,#22efdd 105px,#00e3f8 110px,#00b6fc 115px,#0092ff 120px,#007aff 125px,#0071ff 130px,#0073ff 135px,#007bff 140px,#006bff 145px,#005fff 150px,#0054ff 155px,#0049ff 160px,#003eff 165px,#003cff 170px)"></i><i style="left:179px;top:222px;width:171px;height:1px;background:linear-gradient(90deg,#005cff 0px,#005aff 5px,#0056ff 10px,#0050ff 15px,#004bff 20px,#004aff 25px,#004fff 30px,#005dff 35px,#007cff 40px,#009efe 45px,#009efe 50px,#007fff 55px,#006aff 60px,#0065ff 65px,#0066ff 70px,#006dff 75px,#007cff 80px,#0093ff 85px,#00bbfc 90px,#09eaf1 95px,#3cf5c8 100px,#4ff5b2 105px,#3df5c7 110px,#19ede4 115px,#00d5fa 120px,#00b1fd 125px,#0098ff 130px,#008aff 135px,#0082ff 140px,#0077ff 145px,#006fff 150px,#0069ff 155px,#0063ff 160px,#005dff 165px,#005bff 170px)"></i><i style="left:179px;top:223px;width:171px;height:1px;background:linear-gradient(90deg,#005bff 0px,#005dff 5px,#005dff 10px,#005bff 15px,#005aff 20px,#005dff 25px,#0064ff 30px,#006fff 35px,#008aff 40px,#00aafd 45px,#00a6fe 50px,#0083ff 55px,#006cff 60px,#0066ff 65px,#0066ff 70px,#006dff 75px,#007bff 80px,#0091ff 85px,#00affd 90px,#00dbf9 95px,#1beee3 100px,#20efdf 105px,#00e7f8 110px,#00b6fc 115px,#0081ff 120px,#0055ff 125px,#0038ff 130px,#0026ff 135px,#0121f9 140px,#0120f8 145px,#0022fc 150px,#0027ff 155px,#002dff 160px,#0033ff 165px,#0038ff 170px)"></i><i style="left:179px;top:224px;width:171px;height:1px;background:linear-gradient(90deg,#005cff 0px,#005cff 5px,#005aff 10px,#0055ff 15px,#0051ff 20px,#0052ff 25px,#0057ff 30px,#0064ff 35px,#0080ff 40px,#00a1fe 45px,#009efe 50px,#007cff 55px,#0062ff 60px,#0058ff 65px,#0055ff 70px,#0058ff 75px,#0062ff 80px,#0076ff 85px,#0096ff 90px,#00c5fb 95px,#0beaef 100px,#21efde 105px,#18ede5 110px,#00daf9 115px,#00a5fe 120px,#0078ff 125px,#0058ff 130px,#0044ff 135px,#0039ff 140px,#002fff 145px,#0029ff 150px,#0025ff 155px,#0022fe 160px,#0121f9 165px,#0022fd 170px)"></i><i style="left:179px;top:225px;width:171px;height:1px;background:linear-gradient(90deg,#005eff 0px,#0059ff 5px,#0051ff 10px,#0047ff 15px,#003fff 20px,#003bff 25px,#003fff 30px,#0050ff 35px,#006fff 40px,#0093ff 45px,#0094ff 50px,#0076ff 55px,#005cff 60px,#0051ff 65px,#004dff 70px,#004fff 75px,#0058ff 80px,#006aff 85px,#0088ff 90px,#00b2fd 95px,#00dcf9 100px,#0eebed 105px,#0cebee 110px,#00d1fa 115px,#009aff 120px,#0069ff 125px,#0046ff 130px,#002fff 135px,#0023fe 140px,#0027ff 145px,#002fff 150px,#003bff 155px,#0047ff 160px,#0052ff 165px,#005aff 170px)"></i><i style="left:179px;top:226px;width:171px;height:1px;background:linear-gradient(90deg,#0053ff 0px,#004eff 5px,#0046ff 10px,#003cff 15px,#0033ff 20px,#002fff 25px,#0037ff 30px,#004eff 35px,#0074ff 40px,#009ffe 45px,#00a7fe 50px,#008eff 55px,#0074ff 60px,#0066ff 65px,#005fff 70px,#005fff 75px,#0066ff 80px,#0076ff 85px,#008fff 90px,#00b2fd 95px,#00d8f9 100px,#0aeaf0 105px,#0beaf0 110px,#00d5fa 115px,#00a8fd 120px,#0080ff 125px,#0066ff 130px,#005bff 135px,#0059ff 140px,#004eff 145px,#0048ff 150px,#0043ff 155px,#0040ff 160px,#003bff 165px,#003bff 170px)"></i><i style="left:179px;top:227px;width:171px;height:1px;background:linear-gradient(90deg,#005cff 0px,#005aff 5px,#0054ff 10px,#004dff 15px,#0046ff 20px,#0044ff 25px,#004bff 30px,#005bff 35px,#007bff 40px,#00a0fe 45px,#00a1fe 50px,#0081ff 55px,#0066ff 60px,#0059ff 65px,#0053ff 70px,#0053ff 75px,#005bff 80px,#006bff 85px,#0084ff 90px,#00a4fe 95px,#00c8fb 100px,#00e8f8 105px,#0aeaf0 110px,#00daf9 115px,#00adfd 120px,#0083ff 125px,#0068ff 130px,#005bff 135px,#0059ff 140px,#005dff 145px,#0066ff 150px,#0071ff 155px,#007eff 160px,#0089ff 165px,#0091ff 170px)"></i><i style="left:179px;top:228px;width:171px;height:1px;background:linear-gradient(90deg,#0068ff 0px,#005fff 5px,#0053ff 10px,#0045ff 15px,#0037ff 20px,#002fff 25px,#0032ff 30px,#0044ff 35px,#0064ff 40px,#0089ff 45px,#008bff 50px,#006cff 55px,#0053ff 60px,#0049ff 65px,#0047ff 70px,#004aff 75px,#0056ff 80px,#0069ff 85px,#0081ff 90px,#00a0fe 95px,#00c6fb 100px,#04e9f4 105px,#1aeee3 110px,#0beaef 115px,#00c9fb 120px,#00a0fe 125px,#0086ff 130px,#007aff 135px,#0078ff 140px,#0062ff 145px,#0050ff 150px,#0041ff 155px,#0032ff 160px,#0023fe 165px,#0022fd 170px)"></i><i style="left:179px;top:229px;width:171px;height:1px;background:linear-gradient(90deg,#005aff 0px,#0058ff 5px,#0053ff 10px,#004bff 15px,#0044ff 20px,#0043ff 25px,#004cff 30px,#005eff 35px,#007fff 40px,#00a6fe 45px,#00aafd 50px,#008bff 55px,#006bff 60px,#0058ff 65px,#004cff 70px,#0046ff 75px,#0049ff 80px,#0053ff 85px,#0067ff 90px,#007fff 95px,#009bff 100px,#00bafc 105px,#00c7fb 110px,#00b1fd 115px,#0082ff 120px,#0057ff 125px,#003aff 130px,#002dff 135px,#002bff 140px,#002dff 145px,#0034ff 150px,#003eff 155px,#0048ff 160px,#0052ff 165px,#005cff 170px)"></i><i style="left:179px;top:230px;width:171px;height:1px;background:linear-gradient(90deg,#005cff 0px,#0058ff 5px,#0050ff 10px,#0045ff 15px,#003bff 20px,#0038ff 25px,#003fff 30px,#0050ff 35px,#006fff 40px,#0094ff 45px,#0097ff 50px,#0076ff 55px,#005bff 60px,#004fff 65px,#004aff 70px,#004bff 75px,#0055ff 80px,#0065ff 85px,#0075ff 90px,#008aff 95px,#00a1fe 100px,#00bdfc 105px,#00c7fb 110px,#00b0fd 115px,#0082ff 120px,#0056ff 125px,#0038ff 130px,#002aff 135px,#0027ff 140px,#0023ff 145px,#0026ff 150px,#002bff 155px,#0031ff 160px,#0037ff 165px,#0040ff 170px)"></i><i style="left:179px;top:231px;width:171px;height:1px;background:linear-gradient(90deg,#0058ff 0px,#0057ff 5px,#0051ff 10px,#0049ff 15px,#0042ff 20px,#0042ff 25px,#004cff 30px,#005fff 35px,#0082ff 40px,#00aafd 45px,#00b0fd 50px,#0090ff 55px,#0071ff 60px,#005fff 65px,#0055ff 70px,#0051ff 75px,#0056ff 80px,#0062ff 85px,#0073ff 90px,#0087ff 95px,#009efe 100px,#00bbfc 105px,#00cafb 110px,#00b9fc 115px,#008eff 120px,#0064ff 125px,#0048ff 130px,#003aff 135px,#0038ff 140px,#0040ff 145px,#004dff 150px,#005dff 155px,#006eff 160px,#007eff 165px,#0081ff 170px)"></i><i style="left:179px;top:232px;width:171px;height:1px;background:linear-gradient(90deg,#005bff 0px,#0058ff 5px,#0052ff 10px,#0048ff 15px,#003fff 20px,#003eff 25px,#0046ff 30px,#0055ff 35px,#0072ff 40px,#0095ff 45px,#0096ff 50px,#0073ff 55px,#0055ff 60px,#0046ff 65px,#003fff 70px,#003eff 75px,#0046ff 80px,#0056ff 85px,#006aff 90px,#0082ff 95px,#009cff 100px,#00c0fb 105px,#00def9 110px,#00d5fa 115px,#00acfd 120px,#0081ff 125px,#0062ff 130px,#0052ff 135px,#004cff 140px,#0040ff 145px,#0039ff 150px,#0035ff 155px,#0032ff 160px,#002fff 165px,#002aff 170px)"></i><i style="left:179px;top:233px;width:171px;height:1px;background:linear-gradient(90deg,#0061ff 0px,#005eff 5px,#0057ff 10px,#004cff 15px,#0043ff 20px,#0042ff 25px,#004aff 30px,#005bff 35px,#007aff 40px,#009ffe 45px,#00a3fe 50px,#0081ff 55px,#005eff 60px,#0049ff 65px,#003bff 70px,#0033ff 75px,#0034ff 80px,#003eff 85px,#0053ff 90px,#0067ff 95px,#007bff 100px,#0097ff 105px,#00affd 110px,#00a5fe 115px,#007fff 120px,#0058ff 125px,#003eff 130px,#0033ff 135px,#0033ff 140px,#002dff 145px,#002dff 150px,#002fff 155px,#0033ff 160px,#0036ff 165px,#0036ff 170px)"></i><i style="left:179px;top:234px;width:171px;height:1px;background:linear-gradient(90deg,#0056ff 0px,#0053ff 5px,#004bff 10px,#003fff 15px,#0035ff 20px,#0033ff 25px,#003dff 30px,#0050ff 35px,#0072ff 40px,#0099ff 45px,#009ffe 50px,#007fff 55px,#005fff 60px,#004dff 65px,#0043ff 70px,#003fff 75px,#0044ff 80px,#0052ff 85px,#0069ff 90px,#0080ff 95px,#0095ff 100px,#00b7fc 105px,#00d8f9 110px,#00d6fa 115px,#00b0fd 120px,#0087ff 125px,#0069ff 130px,#0059ff 135px,#0052ff 140px,#004cff 145px,#004cff 150px,#004fff 155px,#0053ff 160px,#0055ff 165px,#0057ff 170px)"></i><i style="left:179px;top:235px;width:171px;height:1px;background:linear-gradient(90deg,#006cff 0px,#0064ff 5px,#0058ff 10px,#0047ff 15px,#0039ff 20px,#0032ff 25px,#003aff 30px,#004fff 35px,#0072ff 40px,#009aff 45px,#00a3fe 50px,#0084ff 55px,#0066ff 60px,#0055ff 65px,#004dff 70px,#004bff 75px,#0052ff 80px,#0063ff 85px,#007cff 90px,#0095ff 95px,#00abfd 100px,#00cffa 105px,#10ebeb 110px,#09eaf1 115px,#00b8fc 120px,#0077ff 125px,#003eff 130px,#0419e5 135px,#0a0abe 140px,#090dc7 145px,#0517e0 150px,#0023ff 155px,#003bff 160px,#0053ff 165px,#0064ff 170px)"></i><i style="left:179px;top:236px;width:171px;height:1px;background:linear-gradient(90deg,#0057ff 0px,#0050ff 5px,#0045ff 10px,#0036ff 15px,#0028ff 20px,#0023ff 25px,#002bff 30px,#0040ff 35px,#0063ff 40px,#008bff 45px,#0093ff 50px,#0074ff 55px,#0055ff 60px,#0044ff 65px,#003aff 70px,#0038ff 75px,#003fff 80px,#004eff 85px,#0063ff 90px,#0074ff 95px,#0079ff 100px,#0088ff 105px,#0099ff 110px,#0092ff 115px,#0074ff 120px,#0053ff 125px,#003fff 130px,#0038ff 135px,#003cff 140px,#0035ff 145px,#0033ff 150px,#0035ff 155px,#0037ff 160px,#0039ff 165px,#003dff 170px)"></i><i style="left:179px;top:237px;width:171px;height:1px;background:linear-gradient(90deg,#005fff 0px,#005aff 5px,#0050ff 10px,#0042ff 15px,#0035ff 20px,#0032ff 25px,#003aff 30px,#004cff 35px,#006cff 40px,#0091ff 45px,#0097ff 50px,#0075ff 55px,#0054ff 60px,#0041ff 65px,#0036ff 70px,#0033ff 75px,#0038ff 80px,#0048ff 85px,#0066ff 90px,#0080ff 95px,#008dff 100px,#00aafd 105px,#00d2fa 110px,#00d9f9 115px,#00b8fc 120px,#0090ff 125px,#0072ff 130px,#005fff 135px,#0054ff 140px,#0049ff 145px,#0044ff 150px,#0041ff 155px,#0040ff 160px,#003eff 165px,#0040ff 170px)"></i><i style="left:179px;top:238px;width:171px;height:1px;background:linear-gradient(90deg,#0059ff 0px,#004fff 5px,#003fff 10px,#002bff 15px,#021ef3 20px,#041ae8 25px,#021ef2 30px,#0032ff 35px,#0058ff 40px,#0084ff 45px,#0091ff 50px,#0076ff 55px,#0058ff 60px,#0047ff 65px,#003fff 70px,#003eff 75px,#0046ff 80px,#0057ff 85px,#0073ff 90px,#0086ff 95px,#0087ff 100px,#0095ff 105px,#00acfd 110px,#00adfd 115px,#0091ff 120px,#0072ff 125px,#005dff 130px,#0053ff 135px,#0052ff 140px,#0049ff 145px,#0044ff 150px,#0043ff 155px,#0043ff 160px,#0042ff 165px,#0045ff 170px)"></i><i style="left:179px;top:239px;width:171px;height:1px;background:linear-gradient(90deg,#0054ff 0px,#0054ff 5px,#004fff 10px,#0046ff 15px,#003fff 20px,#0041ff 25px,#004bff 30px,#005aff 35px,#0076ff 40px,#0097ff 45px,#009bff 50px,#0076ff 55px,#0053ff 60px,#003eff 65px,#0032ff 70px,#002eff 75px,#0031ff 80px,#0041ff 85px,#0063ff 90px,#007cff 95px,#007eff 100px,#008fff 105px,#00b0fd 110px,#00b7fc 115px,#009aff 120px,#0079ff 125px,#0061ff 130px,#0054ff 135px,#004eff 140px,#004cff 145px,#004fff 150px,#0056ff 155px,#005dff 160px,#0064ff 165px,#0067ff 170px)"></i><i style="left:179px;top:240px;width:171px;height:1px;background:linear-gradient(90deg,#0068ff 0px,#0062ff 5px,#0056ff 10px,#0046ff 15px,#0038ff 20px,#0033ff 25px,#003bff 30px,#004bff 35px,#0069ff 40px,#008dff 45px,#0093ff 50px,#0070ff 55px,#0053ff 60px,#0046ff 65px,#0042ff 70px,#0044ff 75px,#0050ff 80px,#0066ff 85px,#0085ff 90px,#009aff 95px,#0092ff 100px,#0098ff 105px,#00acfd 110px,#00a5fe 115px,#007bff 120px,#004bff 125px,#0023fe 130px,#0613d6 135px,#0a0abe 140px,#0711cf 145px,#031dee 150px,#0032ff 155px,#004fff 160px,#006aff 165px,#0079ff 170px)"></i><i style="left:179px;top:241px;width:171px;height:1px;background:linear-gradient(90deg,#0074ff 0px,#0069ff 5px,#0059ff 10px,#0044ff 15px,#0031ff 20px,#0028ff 25px,#002eff 30px,#0043ff 35px,#0065ff 40px,#008dff 45px,#0097ff 50px,#0079ff 55px,#0057ff 60px,#0043ff 65px,#0038ff 70px,#0033ff 75px,#0038ff 80px,#0049ff 85px,#006eff 90px,#0088ff 95px,#0082ff 100px,#008aff 105px,#00a6fe 110px,#00aefd 115px,#0095ff 120px,#0078ff 125px,#0064ff 130px,#0059ff 135px,#0055ff 140px,#0052ff 145px,#0054ff 150px,#005aff 155px,#0061ff 160px,#0066ff 165px,#006aff 170px)"></i><i style="left:179px;top:242px;width:171px;height:1px;background:linear-gradient(90deg,#0061ff 0px,#005dff 5px,#0053ff 10px,#0044ff 15px,#0037ff 20px,#0035ff 25px,#003eff 30px,#0050ff 35px,#006fff 40px,#0094ff 45px,#009cfe 50px,#007bff 55px,#005aff 60px,#0047ff 65px,#003dff 70px,#0039ff 75px,#003eff 80px,#0050ff 85px,#0073ff 90px,#0089ff 95px,#007aff 100px,#0077ff 105px,#0087ff 110px,#0089ff 115px,#0072ff 120px,#0059ff 125px,#004aff 130px,#0044ff 135px,#0045ff 140px,#0037ff 145px,#002fff 150px,#002aff 155px,#0025ff 160px,#0122fb 165px,#0028ff 170px)"></i><i style="left:179px;top:243px;width:171px;height:1px;background:linear-gradient(90deg,#0058ff 0px,#0050ff 5px,#0043ff 10px,#0031ff 15px,#0022fd 20px,#0120f6 25px,#0027ff 30px,#0040ff 35px,#0065ff 40px,#0091ff 45px,#00a1fe 50px,#0087ff 55px,#0067ff 60px,#0056ff 65px,#004dff 70px,#004bff 75px,#0051ff 80px,#0064ff 85px,#0087ff 90px,#009dfe 95px,#008aff 100px,#0083ff 105px,#008fff 110px,#0090ff 115px,#0079ff 120px,#005eff 125px,#004eff 130px,#0045ff 135px,#0043ff 140px,#0042ff 145px,#0047ff 150px,#0050ff 155px,#0059ff 160px,#0061ff 165px,#0069ff 170px)"></i><i style="left:179px;top:244px;width:171px;height:1px;background:linear-gradient(90deg,#006bff 0px,#0060ff 5px,#004fff 10px,#0039ff 15px,#0025ff 20px,#011ff6 25px,#0026ff 30px,#0043ff 35px,#006dff 40px,#009efe 45px,#00b4fc 50px,#009efe 55px,#007aff 60px,#0062ff 65px,#0053ff 70px,#004aff 75px,#0048ff 80px,#0055ff 85px,#007bff 90px,#0091ff 95px,#007bff 100px,#0071ff 105px,#007dff 110px,#007bff 115px,#005fff 120px,#0040ff 125px,#002bff 130px,#0121f9 135px,#021ef1 140px,#0122fb 145px,#002dff 150px,#003eff 155px,#0050ff 160px,#0060ff 165px,#006cff 170px)"></i><i style="left:179px;top:245px;width:171px;height:1px;background:linear-gradient(90deg,#006bff 0px,#0061ff 5px,#0051ff 10px,#003dff 15px,#002aff 20px,#0022fe 25px,#002aff 30px,#0040ff 35px,#0063ff 40px,#008dff 45px,#009cff 50px,#0081ff 55px,#0060ff 60px,#004eff 65px,#0045ff 70px,#0042ff 75px,#0046ff 80px,#0058ff 85px,#0080ff 90px,#0098ff 95px,#0082ff 100px,#0078ff 105px,#0086ff 110px,#0087ff 115px,#006fff 120px,#0055ff 125px,#0044ff 130px,#003aff 135px,#0036ff 140px,#0032ff 145px,#0033ff 150px,#0037ff 155px,#003cff 160px,#0040ff 165px,#0049ff 170px)"></i><i style="left:179px;top:246px;width:171px;height:1px;background:linear-gradient(90deg,#0065ff 0px,#005dff 5px,#004fff 10px,#003dff 15px,#002cff 20px,#0027ff 25px,#002fff 30px,#0043ff 35px,#0063ff 40px,#008aff 45px,#0097ff 50px,#007aff 55px,#005cff 60px,#004eff 65px,#0048ff 70px,#0049ff 75px,#0051ff 80px,#0066ff 85px,#008dff 90px,#00a4fe 95px,#008cff 100px,#007eff 105px,#0089ff 110px,#0090ff 115px,#0086ff 120px,#007bff 125px,#0079ff 130px,#007fff 135px,#008aff 140px,#0084ff 145px,#0083ff 150px,#0085ff 155px,#0088ff 160px,#008aff 165px,#0085ff 170px)"></i><i style="left:179px;top:247px;width:171px;height:1px;background:linear-gradient(90deg,#0058ff 0px,#0052ff 5px,#0047ff 10px,#0036ff 15px,#0028ff 20px,#0025ff 25px,#0030ff 30px,#0049ff 35px,#006dff 40px,#009aff 45px,#00adfd 50px,#0095ff 55px,#0073ff 60px,#005fff 65px,#0055ff 70px,#0050ff 75px,#0052ff 80px,#0062ff 85px,#008cff 90px,#00a7fe 95px,#0091ff 100px,#0087ff 105px,#0099ff 110px,#009cfe 115px,#0082ff 120px,#0064ff 125px,#004eff 130px,#003eff 135px,#0032ff 140px,#0032ff 145px,#0036ff 150px,#003eff 155px,#0047ff 160px,#004eff 165px,#0058ff 170px)"></i><i style="left:179px;top:248px;width:171px;height:1px;background:linear-gradient(90deg,#0073ff 0px,#0069ff 5px,#0059ff 10px,#0045ff 15px,#0032ff 20px,#002aff 25px,#0032ff 30px,#0048ff 35px,#006bff 40px,#0095ff 45px,#00a8fd 50px,#008fff 55px,#0070ff 60px,#005fff 65px,#0057ff 70px,#0056ff 75px,#005aff 80px,#006cff 85px,#0096ff 90px,#00b1fd 95px,#0099ff 100px,#008dff 105px,#009dfe 110px,#00a6fe 115px,#009aff 120px,#008cff 125px,#0086ff 130px,#0086ff 135px,#0089ff 140px,#0077ff 145px,#0069ff 150px,#005eff 155px,#0053ff 160px,#0048ff 165px,#0042ff 170px)"></i><i style="left:179px;top:249px;width:171px;height:1px;background:linear-gradient(90deg,#0072ff 0px,#0069ff 5px,#005aff 10px,#0047ff 15px,#0035ff 20px,#002fff 25px,#0037ff 30px,#004dff 35px,#006eff 40px,#0099ff 45px,#00abfd 50px,#0093ff 55px,#0074ff 60px,#0063ff 65px,#005cff 70px,#005bff 75px,#005fff 80px,#0070ff 85px,#0093ff 90px,#00a6fe 95px,#0083ff 100px,#0068ff 105px,#0064ff 110px,#0061ff 115px,#0055ff 120px,#004bff 125px,#004bff 130px,#0052ff 135px,#005fff 140px,#0059ff 145px,#0058ff 150px,#005aff 155px,#005dff 160px,#005fff 165px,#0062ff 170px)"></i><i style="left:179px;top:250px;width:171px;height:1px;background:linear-gradient(90deg,#005dff 0px,#0057ff 5px,#004bff 10px,#003aff 15px,#002bff 20px,#0028ff 25px,#0031ff 30px,#0046ff 35px,#0066ff 40px,#0090ff 45px,#00a3fe 50px,#008cff 55px,#006dff 60px,#005dff 65px,#0057ff 70px,#0056ff 75px,#005bff 80px,#006dff 85px,#0096ff 90px,#00b1fd 95px,#0098ff 100px,#008aff 105px,#0099ff 110px,#0095ff 115px,#0073ff 120px,#004aff 125px,#0028ff 130px,#0517df 135px,#0a0abe 140px,#0613d6 145px,#021ff4 150px,#0036ff 155px,#0051ff 160px,#006cff 165px,#007cff 170px)"></i><i style="left:179px;top:251px;width:171px;height:1px;background:linear-gradient(90deg,#0064ff 0px,#005dff 5px,#0051ff 10px,#0040ff 15px,#0031ff 20px,#002dff 25px,#0036ff 30px,#004aff 35px,#0069ff 40px,#0092ff 45px,#00a6fe 50px,#0090ff 55px,#0075ff 60px,#0068ff 65px,#0066ff 70px,#0069ff 75px,#0072ff 80px,#0087ff 85px,#00adfd 90px,#00c3fb 95px,#00a4fe 100px,#008eff 105px,#0091ff 110px,#008eff 115px,#0079ff 120px,#0062ff 125px,#0052ff 130px,#0046ff 135px,#003eff 140px,#0035ff 145px,#0030ff 150px,#002eff 155px,#002cff 160px,#002aff 165px,#0033ff 170px)"></i><i style="left:179px;top:252px;width:171px;height:1px;background:linear-gradient(90deg,#0062ff 0px,#005bff 5px,#004eff 10px,#003cff 15px,#002dff 20px,#0028ff 25px,#0033ff 30px,#004dff 35px,#0072ff 40px,#00a2fe 45px,#00befc 50px,#00b0fd 55px,#008fff 60px,#0079ff 65px,#006eff 70px,#0069ff 75px,#0069ff 80px,#0076ff 85px,#00a2fe 90px,#00bffc 95px,#00a7fe 100px,#009bff 105px,#00adfd 110px,#00b5fc 115px,#00a4fe 120px,#008fff 125px,#0081ff 130px,#0075ff 135px,#006dff 140px,#006cff 145px,#006eff 150px,#0074ff 155px,#007aff 160px,#007fff 165px,#0082ff 170px)"></i><i style="left:179px;top:253px;width:171px;height:1px;background:linear-gradient(90deg,#005dff 0px,#0053ff 5px,#0044ff 10px,#0030ff 15px,#0120f8 20px,#031def 25px,#0120f8 30px,#0031ff 35px,#0051ff 40px,#007bff 45px,#0092ff 50px,#0081ff 55px,#006aff 60px,#005fff 65px,#0060ff 70px,#0067ff 75px,#0073ff 80px,#0088ff 85px,#00a8fd 90px,#00b8fc 95px,#0090ff 100px,#006cff 105px,#005dff 110px,#0058ff 115px,#0053ff 120px,#0051ff 125px,#0059ff 130px,#0067ff 135px,#0079ff 140px,#0085ff 145px,#0094ff 150px,#00a6fe 155px,#00b9fc 160px,#00ccfa 165px,#00c9fb 170px)"></i><i style="left:179px;top:254px;width:171px;height:1px;background:linear-gradient(90deg,#0063ff 0px,#005bff 5px,#004eff 10px,#003cff 15px,#002bff 20px,#0026ff 25px,#002dff 30px,#003fff 35px,#005dff 40px,#0086ff 45px,#009efe 50px,#008eff 55px,#0074ff 60px,#0065ff 65px,#0061ff 70px,#0065ff 75px,#006dff 80px,#0080ff 85px,#00abfd 90px,#00c7fb 95px,#00affd 100px,#009ffe 105px,#00affd 110px,#00b2fd 115px,#009bff 120px,#0080ff 125px,#0069ff 130px,#0055ff 135px,#0044ff 140px,#0043ff 145px,#0046ff 150px,#004cff 155px,#0053ff 160px,#0059ff 165px,#005dff 170px)"></i><i style="left:179px;top:255px;width:171px;height:1px;background:linear-gradient(90deg,#0062ff 0px,#0060ff 5px,#0059ff 10px,#004dff 15px,#0044ff 20px,#0044ff 25px,#004eff 30px,#005cff 35px,#0075ff 40px,#009bff 45px,#00b2fd 50px,#00a0fe 55px,#0082ff 60px,#006cff 65px,#0063ff 70px,#0061ff 75px,#0063ff 80px,#0070ff 85px,#009aff 90px,#00b6fc 95px,#009dfe 100px,#008bff 105px,#0097ff 110px,#0099ff 115px,#0083ff 120px,#006aff 125px,#0056ff 130px,#0044ff 135px,#0035ff 140px,#0034ff 145px,#0036ff 150px,#003bff 155px,#0041ff 160px,#0046ff 165px,#0048ff 170px)"></i><i style="left:179px;top:256px;width:171px;height:1px;background:linear-gradient(90deg,#005aff 0px,#0056ff 5px,#004dff 10px,#003fff 15px,#0034ff 20px,#0033ff 25px,#003dff 30px,#004fff 35px,#006cff 40px,#0096ff 45px,#00b4fc 50px,#00aafd 55px,#008dff 60px,#0076ff 65px,#006cff 70px,#006aff 75px,#006cff 80px,#0079ff 85px,#00a1fe 90px,#00bbfc 95px,#009ffe 100px,#008aff 105px,#0090ff 110px,#0090ff 115px,#007fff 120px,#006cff 125px,#005dff 130px,#0051ff 135px,#0048ff 140px,#003aff 145px,#002fff 150px,#0027ff 155px,#0121fa 160px,#021df0 165px,#021df1 170px)"></i><i style="left:179px;top:257px;width:171px;height:1px;background:linear-gradient(90deg,#005eff 0px,#0058ff 5px,#004dff 10px,#003eff 15px,#0031ff 20px,#002dff 25px,#0037ff 30px,#004cff 35px,#006dff 40px,#009aff 45px,#00bcfc 50px,#00b9fc 55px,#009dfe 60px,#0085ff 65px,#007aff 70px,#0078ff 75px,#007aff 80px,#0086ff 85px,#00aafd 90px,#00bffb 95px,#009cfe 100px,#007eff 105px,#0076ff 110px,#0073ff 115px,#0069ff 120px,#0060ff 125px,#005dff 130px,#005dff 135px,#0061ff 140px,#005bff 145px,#0058ff 150px,#0057ff 155px,#0058ff 160px,#0057ff 165px,#0057ff 170px)"></i><i style="left:179px;top:258px;width:171px;height:1px;background:linear-gradient(90deg,#0061ff 0px,#005eff 5px,#0055ff 10px,#0048ff 15px,#003dff 20px,#003cff 25px,#0046ff 30px,#0059ff 35px,#0077ff 40px,#00a2fe 45px,#00c4fb 50px,#00c2fb 55px,#00a7fe 60px,#008fff 65px,#0085ff 70px,#0084ff 75px,#0087ff 80px,#0093ff 85px,#00b7fc 90px,#00cdfa 95px,#00acfd 100px,#008dff 105px,#0086ff 110px,#007eff 115px,#006bff 120px,#0056ff 125px,#0045ff 130px,#0036ff 135px,#002aff 140px,#0030ff 145px,#003aff 150px,#0046ff 155px,#0052ff 160px,#005eff 165px,#0064ff 170px)"></i><i style="left:179px;top:259px;width:171px;height:1px;background:linear-gradient(90deg,#0067ff 0px,#0062ff 5px,#0058ff 10px,#004aff 15px,#003eff 20px,#003bff 25px,#0044ff 30px,#0055ff 35px,#0070ff 40px,#0099ff 45px,#00bafc 50px,#00b9fc 55px,#00a2fe 60px,#008cff 65px,#0084ff 70px,#0086ff 75px,#008bff 80px,#009aff 85px,#00c2fb 90px,#00dcf9 95px,#00bffb 100px,#00a7fe 105px,#00a9fd 110px,#00adfd 115px,#00a7fe 120px,#009efe 125px,#0098ff 130px,#0093ff 135px,#0090ff 140px,#0080ff 145px,#0072ff 150px,#0066ff 155px,#005aff 160px,#004eff 165px,#0041ff 170px)"></i><i style="left:179px;top:260px;width:171px;height:1px;background:linear-gradient(90deg,#004eff 0px,#004cff 5px,#0046ff 10px,#003cff 15px,#0034ff 20px,#0034ff 25px,#0040ff 30px,#0052ff 35px,#006fff 40px,#0098ff 45px,#00bdfc 50px,#00c1fb 55px,#00acfd 60px,#0097ff 65px,#0091ff 70px,#0094ff 75px,#009cff 80px,#00abfd 85px,#00cdfa 90px,#00e0f9 95px,#00bafc 100px,#0094ff 105px,#0085ff 110px,#007bff 115px,#006fff 120px,#0063ff 125px,#0059ff 130px,#0052ff 135px,#004dff 140px,#0048ff 145px,#0046ff 150px,#0046ff 155px,#0047ff 160px,#0048ff 165px,#004bff 170px)"></i><i style="left:179px;top:261px;width:171px;height:1px;background:linear-gradient(90deg,#0065ff 0px,#0060ff 5px,#0057ff 10px,#004aff 15px,#003eff 20px,#003cff 25px,#0045ff 30px,#0058ff 35px,#0075ff 40px,#009efe 45px,#00c4fb 50px,#00cbfa 55px,#00b4fc 60px,#009aff 65px,#008fff 70px,#008dff 75px,#008fff 80px,#0099ff 85px,#00befc 90px,#00d5fa 95px,#00b4fc 100px,#0094ff 105px,#008dff 110px,#0088ff 115px,#007eff 120px,#0072ff 125px,#0068ff 130px,#0060ff 135px,#005bff 140px,#0057ff 145px,#0057ff 150px,#0058ff 155px,#005bff 160px,#005dff 165px,#005cff 170px)"></i><i style="left:179px;top:262px;width:171px;height:1px;background:linear-gradient(90deg,#0060ff 0px,#005cff 5px,#0054ff 10px,#0049ff 15px,#0040ff 20px,#003fff 25px,#0048ff 30px,#0059ff 35px,#0074ff 40px,#009bff 45px,#00bffc 50px,#00c6fb 55px,#00b1fd 60px,#0099ff 65px,#008eff 70px,#008dff 75px,#008eff 80px,#0098ff 85px,#00bdfc 90px,#00d4fa 95px,#00b3fc 100px,#0093ff 105px,#008bff 110px,#0088ff 115px,#0080ff 120px,#0078ff 125px,#0072ff 130px,#006eff 135px,#006cff 140px,#006cff 145px,#006eff 150px,#0073ff 155px,#0078ff 160px,#007dff 165px,#007fff 170px)"></i><i style="left:179px;top:263px;width:171px;height:1px;background:linear-gradient(90deg,#005bff 0px,#0058ff 5px,#0050ff 10px,#0046ff 15px,#003dff 20px,#003cff 25px,#0044ff 30px,#0053ff 35px,#006bff 40px,#008eff 45px,#00affd 50px,#00b6fc 55px,#00a3fe 60px,#008dff 65px,#0083ff 70px,#0082ff 75px,#0083ff 80px,#008dff 85px,#00b0fd 90px,#00c6fb 95px,#00a3fe 100px,#0080ff 105px,#0074ff 110px,#0066ff 115px,#004fff 120px,#0036ff 125px,#0121fa 130px,#0517e0 135px,#080ec9 140px,#0517e0 145px,#0121fa 150px,#0036ff 155px,#004eff 160px,#0065ff 165px,#0074ff 170px)"></i><i style="left:179px;top:264px;width:171px;height:1px;background:linear-gradient(90deg,#0061ff 0px,#005dff 5px,#0055ff 10px,#004bff 15px,#0041ff 20px,#003fff 25px,#0047ff 30px,#0055ff 35px,#006bff 40px,#008bff 45px,#00aafd 50px,#00b2fd 55px,#00a6fe 60px,#0098ff 65px,#0096ff 70px,#009cfe 75px,#00a5fe 80px,#00b5fc 85px,#00d5fa 90px,#00e7f8 95px,#00c1fb 100px,#0098ff 105px,#0085ff 110px,#007bff 115px,#0073ff 120px,#006dff 125px,#0068ff 130px,#0064ff 135px,#0063ff 140px,#005fff 145px,#005dff 150px,#005dff 155px,#005dff 160px,#005dff 165px,#0063ff 170px)"></i><i style="left:179px;top:265px;width:171px;height:1px;background:linear-gradient(90deg,#0062ff 0px,#005bff 5px,#0051ff 10px,#0043ff 15px,#0037ff 20px,#0033ff 25px,#0039ff 30px,#0049ff 35px,#005fff 40px,#007eff 45px,#009cfe 50px,#00a7fe 55px,#009bff 60px,#008cff 65px,#0087ff 70px,#0089ff 75px,#008dff 80px,#0099ff 85px,#00bffc 90px,#00d8f9 95px,#00b9fc 100px,#009bff 105px,#0096ff 110px,#008eff 115px,#007cff 120px,#0068ff 125px,#0054ff 130px,#0041ff 135px,#002fff 140px,#002dff 145px,#002eff 150px,#0030ff 155px,#0034ff 160px,#0037ff 165px,#003bff 170px)"></i><i style="left:179px;top:266px;width:171px;height:1px;background:linear-gradient(90deg,#0055ff 0px,#0056ff 5px,#0054ff 10px,#0050ff 15px,#004cff 20px,#0050ff 25px,#0058ff 30px,#0061ff 35px,#0071ff 40px,#0088ff 45px,#009efe 50px,#00a2fe 55px,#0098ff 60px,#008cff 65px,#0088ff 70px,#008bff 75px,#008fff 80px,#009bff 85px,#00c2fb 90px,#00ddf9 95px,#00c1fb 100px,#00a5fe 105px,#00a3fe 110px,#00a1fe 115px,#0095ff 120px,#0087ff 125px,#0078ff 130px,#006aff 135px,#005dff 140px,#0062ff 145px,#0069ff 150px,#0072ff 155px,#007cff 160px,#0085ff 165px,#0084ff 170px)"></i><i style="left:179px;top:267px;width:171px;height:1px;background:linear-gradient(90deg,#0065ff 0px,#0061ff 5px,#005aff 10px,#0050ff 15px,#0048ff 20px,#0046ff 25px,#004dff 30px,#005aff 35px,#006dff 40px,#0086ff 45px,#009ffe 50px,#00a8fd 55px,#00a3fe 60px,#009aff 65px,#0099ff 70px,#009ffe 75px,#00a5fe 80px,#00b3fd 85px,#00d4fa 90px,#02e8f6 95px,#00c8fb 100px,#00a3fe 105px,#0094ff 110px,#008fff 115px,#008cff 120px,#0088ff 125px,#0086ff 130px,#0084ff 135px,#0084ff 140px,#0080ff 145px,#007eff 150px,#007eff 155px,#007eff 160px,#007dff 165px,#0079ff 170px)"></i><i style="left:179px;top:268px;width:171px;height:1px;background:linear-gradient(90deg,#006eff 0px,#0066ff 5px,#005cff 10px,#004fff 15px,#0043ff 20px,#003eff 25px,#0043ff 30px,#0052ff 35px,#0065ff 40px,#007dff 45px,#0095ff 50px,#00a1fe 55px,#009dfe 60px,#0096ff 65px,#0095ff 70px,#0099ff 75px,#009efe 80px,#00abfd 85px,#00cffa 90px,#00e8f8 95px,#00cafb 100px,#00aafd 105px,#00a3fe 110px,#0099ff 115px,#0083ff 120px,#006aff 125px,#0050ff 130px,#0035ff 135px,#021ff5 140px,#0035ff 145px,#0051ff 150px,#006eff 155px,#008cff 160px,#00abfd 165px,#00b3fd 170px)"></i><i style="left:179px;top:269px;width:171px;height:1px;background:linear-gradient(90deg,#007bff 0px,#0071ff 5px,#0064ff 10px,#0054ff 15px,#0046ff 20px,#003dff 25px,#0041ff 30px,#0054ff 35px,#0069ff 40px,#0083ff 45px,#009dfe 50px,#00adfd 55px,#00a8fd 60px,#009ffe 65px,#009bff 70px,#009bff 75px,#009cfe 80px,#00a5fe 85px,#00cbfa 90px,#00e7f8 95px,#00ccfa 100px,#00b0fd 105px,#00affd 110px,#00b1fd 115px,#00adfd 120px,#00a8fd 125px,#00a1fe 130px,#0099ff 135px,#0093ff 140px,#0089ff 145px,#0081ff 150px,#0079ff 155px,#0072ff 160px,#006bff 165px,#0064ff 170px)"></i><i style="left:179px;top:270px;width:171px;height:1px;background:linear-gradient(90deg,#0052ff 0px,#004fff 5px,#004aff 10px,#0042ff 15px,#003bff 20px,#003aff 25px,#0041ff 30px,#004fff 35px,#0060ff 40px,#0074ff 45px,#0087ff 50px,#0092ff 55px,#008eff 60px,#0088ff 65px,#0086ff 70px,#0086ff 75px,#0086ff 80px,#008eff 85px,#00b2fd 90px,#00cefa 95px,#00aefd 100px,#008eff 105px,#0087ff 110px,#0083ff 115px,#007bff 120px,#0072ff 125px,#0069ff 130px,#0061ff 135px,#005bff 140px,#0058ff 145px,#0058ff 150px,#0059ff 155px,#005aff 160px,#005bff 165px,#0059ff 170px)"></i><i style="left:179px;top:271px;width:171px;height:1px;background:linear-gradient(90deg,#0069ff 0px,#0063ff 5px,#005aff 10px,#0050ff 15px,#0047ff 20px,#0042ff 25px,#0046ff 30px,#0050ff 35px,#005dff 40px,#006cff 45px,#007aff 50px,#0082ff 55px,#0083ff 60px,#0082ff 65px,#0085ff 70px,#008aff 75px,#008fff 80px,#009aff 85px,#00befc 90px,#00dcf9 95px,#00b9fc 100px,#0097ff 105px,#008fff 110px,#0090ff 115px,#0094ff 120px,#0098ff 125px,#009dfe 130px,#00a3fe 135px,#00aafd 140px,#00a9fd 145px,#00a9fd 150px,#00aafd 155px,#00abfd 160px,#00adfd 165px,#00abfd 170px)"></i><i style="left:179px;top:272px;width:171px;height:1px;background:linear-gradient(90deg,#0067ff 0px,#0063ff 5px,#005dff 10px,#0055ff 15px,#004eff 20px,#004bff 25px,#004fff 30px,#0058ff 35px,#0063ff 40px,#006fff 45px,#007bff 50px,#0081ff 55px,#007fff 60px,#007dff 65px,#007cff 70px,#007dff 75px,#007eff 80px,#0085ff 85px,#00acfd 90px,#00d1fa 95px,#00abfd 100px,#008bff 105px,#0088ff 110px,#0084ff 115px,#0079ff 120px,#006dff 125px,#0061ff 130px,#0056ff 135px,#004bff 140px,#0050ff 145px,#0056ff 150px,#005dff 155px,#0064ff 160px,#006bff 165px,#0075ff 170px)"></i><i style="left:179px;top:273px;width:171px;height:1px;background:linear-gradient(90deg,#006dff 0px,#006aff 5px,#0065ff 10px,#005fff 15px,#0059ff 20px,#0058ff 25px,#005bff 30px,#0060ff 35px,#0067ff 40px,#006fff 45px,#0076ff 50px,#0079ff 55px,#007aff 60px,#007bff 65px,#007eff 70px,#0081ff 75px,#0085ff 80px,#008eff 85px,#00b0fd 90px,#00d8f9 95px,#009ffe 100px,#0070ff 105px,#005bff 110px,#0050ff 115px,#004aff 120px,#0046ff 125px,#0045ff 130px,#0046ff 135px,#0049ff 140px,#004cff 145px,#0051ff 150px,#0057ff 155px,#005dff 160px,#0064ff 165px,#0069ff 170px)"></i><i style="left:179px;top:274px;width:171px;height:1px;background:linear-gradient(90deg,#005dff 0px,#0059ff 5px,#0054ff 10px,#004dff 15px,#0046ff 20px,#0044ff 25px,#0048ff 30px,#0052ff 35px,#005dff 40px,#0068ff 45px,#0073ff 50px,#007aff 55px,#007dff 60px,#0080ff 65px,#0084ff 70px,#0088ff 75px,#008cff 80px,#0095ff 85px,#00b9fc 90px,#05e9f4 95px,#00a2fe 100px,#006bff 105px,#004fff 110px,#0043ff 115px,#0043ff 120px,#0047ff 125px,#004eff 130px,#0057ff 135px,#0063ff 140px,#0057ff 145px,#004cff 150px,#0042ff 155px,#0039ff 160px,#002fff 165px,#002cff 170px)"></i><i style="left:179px;top:275px;width:171px;height:1px;background:linear-gradient(90deg,#0056ff 0px,#0055ff 5px,#0052ff 10px,#004eff 15px,#004bff 20px,#004bff 25px,#0050ff 30px,#0057ff 35px,#0060ff 40px,#0069ff 45px,#0071ff 50px,#0076ff 55px,#0077ff 60px,#0078ff 65px,#0079ff 70px,#007bff 75px,#007cff 80px,#0083ff 85px,#00b5fc 90px,#1eeee0 95px,#00b5fc 100px,#0089ff 105px,#0086ff 110px,#0086ff 115px,#0083ff 120px,#0080ff 125px,#007dff 130px,#007aff 135px,#0078ff 140px,#0077ff 145px,#0076ff 150px,#0076ff 155px,#0076ff 160px,#0076ff 165px,#0072ff 170px)"></i><i style="left:179px;top:276px;width:171px;height:1px;background:linear-gradient(90deg,#005dff 0px,#005cff 5px,#005aff 10px,#0056ff 15px,#0053ff 20px,#0053ff 25px,#0058ff 30px,#005fff 35px,#0067ff 40px,#006fff 45px,#0076ff 50px,#007bff 55px,#007cff 60px,#007cff 65px,#007dff 70px,#007eff 75px,#007eff 80px,#0084ff 85px,#00b9fc 90px,#36f4cd 95px,#00b4fc 100px,#007fff 105px,#0076ff 110px,#0074ff 115px,#0075ff 120px,#0076ff 125px,#0078ff 130px,#007bff 135px,#007fff 140px,#0076ff 145px,#006eff 150px,#0067ff 155px,#0060ff 160px,#0059ff 165px,#0058ff 170px)"></i><i style="left:179px;top:277px;width:171px;height:1px;background:linear-gradient(90deg,#0051ff 0px,#0052ff 5px,#0052ff 10px,#0050ff 15px,#004fff 20px,#0052ff 25px,#0056ff 30px,#005cff 35px,#0063ff 40px,#0069ff 45px,#006eff 50px,#0072ff 55px,#0074ff 60px,#0076ff 65px,#0078ff 70px,#0079ff 75px,#007bff 80px,#0083ff 85px,#00c0fb 90px,#5af5a6 95px,#00c9fb 100px,#0099ff 105px,#009efe 110px,#009ffe 115px,#0094ff 120px,#0085ff 125px,#0074ff 130px,#0063ff 135px,#0051ff 140px,#0049ff 145px,#0041ff 150px,#003aff 155px,#0033ff 160px,#002cff 165px,#002cff 170px)"></i><i style="left:179px;top:278px;width:171px;height:1px;background:linear-gradient(90deg,#0066ff 0px,#0069ff 5px,#006aff 10px,#006aff 15px,#006aff 20px,#006eff 25px,#0071ff 30px,#0072ff 35px,#0072ff 40px,#0073ff 45px,#0072ff 50px,#0071ff 55px,#0073ff 60px,#0077ff 65px,#007cff 70px,#0080ff 75px,#0083ff 80px,#008cff 85px,#00c3fb 90px,#5ef5a2 95px,#00b6fc 100px,#0075ff 105px,#0063ff 110px,#0059ff 115px,#0052ff 120px,#004bff 125px,#0045ff 130px,#0040ff 135px,#003cff 140px,#003dff 145px,#003eff 150px,#0040ff 155px,#0042ff 160px,#0045ff 165px,#0047ff 170px)"></i><i style="left:179px;top:279px;width:171px;height:1px;background:linear-gradient(90deg,#0061ff 0px,#005eff 5px,#005aff 10px,#0056ff 15px,#0051ff 20px,#0050ff 25px,#0051ff 30px,#0054ff 35px,#0058ff 40px,#005bff 45px,#005eff 50px,#005fff 55px,#0062ff 60px,#0066ff 65px,#0069ff 70px,#006cff 75px,#006fff 80px,#0076ff 85px,#00b0fd 90px,#4df5b5 95px,#00b3fc 100px,#0080ff 105px,#0080ff 110px,#007cff 115px,#0070ff 120px,#0062ff 125px,#0053ff 130px,#0043ff 135px,#0034ff 140px,#0040ff 145px,#004eff 150px,#005bff 155px,#0069ff 160px,#0077ff 165px,#0082ff 170px)"></i><i style="left:179px;top:280px;width:171px;height:1px;background:linear-gradient(90deg,#006aff 0px,#0069ff 5px,#0067ff 10px,#0063ff 15px,#0061ff 20px,#0060ff 25px,#0060ff 30px,#005dff 35px,#005aff 40px,#0057ff 45px,#0054ff 50px,#004fff 55px,#0056ff 60px,#005fff 65px,#0068ff 70px,#0070ff 75px,#0079ff 80px,#0085ff 85px,#00b6fc 90px,#41f5c2 95px,#00b4fc 100px,#0083ff 105px,#007eff 110px,#0079ff 115px,#0070ff 120px,#0065ff 125px,#005aff 130px,#004eff 135px,#0042ff 140px,#0053ff 145px,#0064ff 150px,#0076ff 155px,#0088ff 160px,#009bff 165px,#009cfe 170px)"></i><i style="left:179px;top:281px;width:171px;height:1px;background:linear-gradient(90deg,#0064ff 0px,#0060ff 5px,#005bff 10px,#0056ff 15px,#0051ff 20px,#004eff 25px,#0050ff 30px,#0055ff 35px,#005bff 40px,#0061ff 45px,#0065ff 50px,#006aff 55px,#006aff 60px,#0069ff 65px,#0067ff 70px,#0066ff 75px,#0064ff 80px,#0066ff 85px,#0091ff 90px,#07e9f3 95px,#0096ff 100px,#0074ff 105px,#0077ff 110px,#007aff 115px,#007aff 120px,#0079ff 125px,#0078ff 130px,#0076ff 135px,#0075ff 140px,#0079ff 145px,#007eff 150px,#0083ff 155px,#0088ff 160px,#008eff 165px,#0091ff 170px)"></i><i style="left:179px;top:282px;width:171px;height:1px;background:linear-gradient(90deg,#0066ff 0px,#0063ff 5px,#005fff 10px,#005aff 15px,#0056ff 20px,#0053ff 25px,#0052ff 30px,#0051ff 35px,#0050ff 40px,#004eff 45px,#004cff 50px,#0049ff 55px,#0050ff 60px,#0059ff 65px,#0062ff 70px,#006bff 75px,#0074ff 80px,#007fff 85px,#009efe 90px,#00e2f8 95px,#00a1fe 100px,#0086ff 105px,#0086ff 110px,#0086ff 115px,#0083ff 120px,#007eff 125px,#0077ff 130px,#0070ff 135px,#0069ff 140px,#0073ff 145px,#007dff 150px,#0088ff 155px,#0093ff 160px,#009efe 165px,#00a0fe 170px)"></i><i style="left:179px;top:283px;width:171px;height:1px;background:linear-gradient(90deg,#005cff 0px,#005bff 5px,#005aff 10px,#0058ff 15px,#0056ff 20px,#0056ff 25px,#0059ff 30px,#005dff 35px,#0061ff 40px,#0064ff 45px,#0067ff 50px,#0069ff 55px,#006aff 60px,#006aff 65px,#006aff 70px,#006aff 75px,#006aff 80px,#006bff 85px,#007bff 90px,#00a0fe 95px,#006cff 100px,#004aff 105px,#0036ff 110px,#002aff 115px,#0027ff 120px,#0026ff 125px,#0028ff 130px,#002cff 135px,#0031ff 140px,#0038ff 145px,#003fff 150px,#0047ff 155px,#004fff 160px,#0057ff 165px,#005fff 170px)"></i><i style="left:179px;top:284px;width:171px;height:1px;background:linear-gradient(90deg,#0053ff 0px,#0053ff 5px,#0054ff 10px,#0053ff 15px,#0053ff 20px,#0054ff 25px,#0058ff 30px,#005dff 35px,#0062ff 40px,#0067ff 45px,#006bff 50px,#006fff 55px,#0071ff 60px,#0073ff 65px,#0075ff 70px,#0077ff 75px,#0079ff 80px,#007cff 85px,#0086ff 90px,#009bff 95px,#007aff 100px,#0063ff 105px,#0054ff 110px,#0050ff 115px,#0055ff 120px,#005cff 125px,#0066ff 130px,#0070ff 135px,#007aff 140px,#007fff 145px,#0083ff 150px,#0088ff 155px,#008dff 160px,#0092ff 165px,#0093ff 170px)"></i><i style="left:179px;top:285px;width:171px;height:1px;background:linear-gradient(90deg,#0067ff 0px,#0065ff 5px,#0061ff 10px,#005dff 15px,#0059ff 20px,#0057ff 25px,#0057ff 30px,#0059ff 35px,#005bff 40px,#005dff 45px,#005eff 50px,#005fff 55px,#0064ff 60px,#006aff 65px,#0070ff 70px,#0076ff 75px,#007cff 80px,#0082ff 85px,#0088ff 90px,#0093ff 95px,#0080ff 100px,#0072ff 105px,#0069ff 110px,#0066ff 115px,#0068ff 120px,#006bff 125px,#006dff 130px,#0071ff 135px,#0074ff 140px,#0079ff 145px,#007eff 150px,#0083ff 155px,#0088ff 160px,#008dff 165px,#0092ff 170px)"></i><i style="left:179px;top:286px;width:171px;height:1px;background:linear-gradient(90deg,#005aff 0px,#005bff 5px,#005bff 10px,#005aff 15px,#005aff 20px,#005aff 25px,#005cff 30px,#005dff 35px,#005dff 40px,#005eff 45px,#005dff 50px,#005dff 55px,#005fff 60px,#0061ff 65px,#0062ff 70px,#0064ff 75px,#0066ff 80px,#0068ff 85px,#006eff 90px,#0075ff 95px,#006cff 100px,#0065ff 105px,#0063ff 110px,#005dff 115px,#0054ff 120px,#0049ff 125px,#003dff 130px,#0032ff 135px,#0027ff 140px,#002bff 145px,#0030ff 150px,#0035ff 155px,#003aff 160px,#0040ff 165px,#0041ff 170px)"></i><i style="left:179px;top:287px;width:171px;height:1px;background:linear-gradient(90deg,#006aff 0px,#0069ff 5px,#0068ff 10px,#0066ff 15px,#0065ff 20px,#0064ff 25px,#0065ff 30px,#0065ff 35px,#0066ff 40px,#0066ff 45px,#0066ff 50px,#0066ff 55px,#0065ff 60px,#0063ff 65px,#0062ff 70px,#0060ff 75px,#005eff 80px,#005dff 85px,#0062ff 90px,#0067ff 95px,#0063ff 100px,#0061ff 105px,#0062ff 110px,#005eff 115px,#0055ff 120px,#004bff 125px,#0041ff 130px,#0036ff 135px,#002cff 140px,#0039ff 145px,#0047ff 150px,#0054ff 155px,#0062ff 160px,#006fff 165px,#0072ff 170px)"></i><i style="left:179px;top:288px;width:171px;height:1px;background:linear-gradient(90deg,#0074ff 0px,#0071ff 5px,#006dff 10px,#0069ff 15px,#0066ff 20px,#0063ff 25px,#0061ff 30px,#0060ff 35px,#005fff 40px,#005dff 45px,#005bff 50px,#0059ff 55px,#005aff 60px,#005cff 65px,#005eff 70px,#0060ff 75px,#0062ff 80px,#0063ff 85px,#0064ff 90px,#0063ff 95px,#005dff 100px,#0055ff 105px,#004dff 110px,#0047ff 115px,#0044ff 120px,#0042ff 125px,#0041ff 130px,#0042ff 135px,#0042ff 140px,#0044ff 145px,#0047ff 150px,#004aff 155px,#004dff 160px,#004fff 165px,#0050ff 170px)"></i><i style="left:179px;top:289px;width:171px;height:1px;background:linear-gradient(90deg,#006dff 0px,#0068ff 5px,#0064ff 10px,#005fff 15px,#005aff 20px,#0056ff 25px,#0055ff 30px,#0056ff 35px,#0057ff 40px,#0058ff 45px,#0058ff 50px,#0059ff 55px,#0059ff 60px,#005aff 65px,#005bff 70px,#005bff 75px,#005bff 80px,#005cff 85px,#005dff 90px,#005dff 95px,#005bff 100px,#0057ff 105px,#0054ff 110px,#0054ff 115px,#0056ff 120px,#0059ff 125px,#005dff 130px,#0061ff 135px,#0066ff 140px,#0060ff 145px,#005bff 150px,#0055ff 155px,#0050ff 160px,#004bff 165px,#0047ff 170px)"></i><i style="left:179px;top:290px;width:171px;height:1px;background:linear-gradient(90deg,#006cff 0px,#006bff 5px,#006bff 10px,#0069ff 15px,#0069ff 20px,#0068ff 25px,#0069ff 30px,#006aff 35px,#006cff 40px,#006cff 45px,#006dff 50px,#006eff 55px,#006dff 60px,#006cff 65px,#006aff 70px,#0069ff 75px,#0067ff 80px,#0066ff 85px,#0064ff 90px,#0062ff 95px,#005dff 100px,#0056ff 105px,#004eff 110px,#004fff 115px,#0059ff 120px,#0066ff 125px,#0075ff 130px,#0085ff 135px,#0095ff 140px,#009cff 145px,#00a2fe 150px,#00a8fd 155px,#00affd 160px,#00b5fc 165px,#00b1fd 170px)"></i><i style="left:179px;top:291px;width:171px;height:1px;background:linear-gradient(90deg,#006dff 0px,#006cff 5px,#006aff 10px,#0069ff 15px,#0067ff 20px,#0066ff 25px,#0066ff 30px,#0066ff 35px,#0067ff 40px,#0067ff 45px,#0067ff 50px,#0067ff 55px,#0069ff 60px,#006dff 65px,#0071ff 70px,#0074ff 75px,#0078ff 80px,#007bff 85px,#0078ff 90px,#0075ff 95px,#0071ff 100px,#006bff 105px,#0062ff 110px,#005bff 115px,#0057ff 120px,#0052ff 125px,#004cff 130px,#0047ff 135px,#0042ff 140px,#0045ff 145px,#0048ff 150px,#004bff 155px,#004eff 160px,#0051ff 165px,#0055ff 170px)"></i><i style="left:179px;top:292px;width:171px;height:1px;background:linear-gradient(90deg,#006fff 0px,#006dff 5px,#006cff 10px,#006aff 15px,#0069ff 20px,#0067ff 25px,#0066ff 30px,#0064ff 35px,#0062ff 40px,#0060ff 45px,#005dff 50px,#005bff 55px,#005dff 60px,#0060ff 65px,#0063ff 70px,#0066ff 75px,#0069ff 80px,#006bff 85px,#006aff 90px,#0069ff 95px,#0067ff 100px,#0063ff 105px,#005fff 110px,#0062ff 115px,#006bff 120px,#0076ff 125px,#0082ff 130px,#008eff 135px,#009bff 140px,#0099ff 145px,#0096ff 150px,#0094ff 155px,#0092ff 160px,#008fff 165px,#0089ff 170px)"></i><i style="left:179px;top:293px;width:171px;height:1px;background:linear-gradient(90deg,#0053ff 0px,#0056ff 5px,#0059ff 10px,#005cff 15px,#005fff 20px,#0062ff 25px,#0064ff 30px,#0064ff 35px,#0064ff 40px,#0064ff 45px,#0063ff 50px,#0063ff 55px,#0063ff 60px,#0064ff 65px,#0065ff 70px,#0066ff 75px,#0067ff 80px,#0067ff 85px,#0064ff 90px,#0060ff 95px,#005aff 100px,#0053ff 105px,#0048ff 110px,#0041ff 115px,#003eff 120px,#003dff 125px,#003dff 130px,#003fff 135px,#0040ff 140px,#0042ff 145px,#0044ff 150px,#0046ff 155px,#0048ff 160px,#004aff 165px,#004dff 170px)"></i><i style="left:179px;top:294px;width:171px;height:1px;background:linear-gradient(90deg,#0058ff 0px,#0056ff 5px,#0053ff 10px,#0050ff 15px,#004dff 20px,#004bff 25px,#004bff 30px,#004eff 35px,#0052ff 40px,#0055ff 45px,#0058ff 50px,#005bff 55px,#005eff 60px,#0060ff 65px,#0063ff 70px,#0066ff 75px,#0069ff 80px,#006bff 85px,#006cff 90px,#006eff 95px,#0070ff 100px,#0073ff 105px,#0076ff 110px,#0074ff 115px,#006aff 120px,#005dff 125px,#004fff 130px,#003fff 135px,#0030ff 140px,#003dff 145px,#004aff 150px,#0058ff 155px,#0065ff 160px,#0072ff 165px,#0079ff 170px)"></i><i style="left:179px;top:295px;width:171px;height:1px;background:linear-gradient(90deg,#0063ff 0px,#0065ff 5px,#0067ff 10px,#0068ff 15px,#006aff 20px,#006cff 25px,#006cff 30px,#0069ff 35px,#0065ff 40px,#0062ff 45px,#005eff 50px,#005aff 55px,#005eff 60px,#0064ff 65px,#006aff 70px,#0070ff 75px,#0076ff 80px,#007bff 85px,#007bff 90px,#007bff 95px,#007cff 100px,#007dff 105px,#007eff 110px,#007aff 115px,#0070ff 120px,#0063ff 125px,#0054ff 130px,#0044ff 135px,#0034ff 140px,#0031ff 145px,#002eff 150px,#002bff 155px,#0028ff 160px,#0026ff 165px,#002bff 170px)"></i><i style="left:179px;top:296px;width:171px;height:1px;background:linear-gradient(90deg,#0058ff 0px,#005bff 5px,#005dff 10px,#005fff 15px,#0061ff 20px,#0063ff 25px,#0065ff 30px,#0064ff 35px,#0063ff 40px,#0062ff 45px,#0061ff 50px,#0060ff 55px,#0060ff 60px,#0061ff 65px,#0062ff 70px,#0062ff 75px,#0063ff 80px,#0062ff 85px,#005dff 90px,#0057ff 95px,#004eff 100px,#0042ff 105px,#0031ff 110px,#0028ff 115px,#0028ff 120px,#002cff 125px,#0033ff 130px,#003bff 135px,#0044ff 140px,#004cff 145px,#0055ff 150px,#005eff 155px,#0067ff 160px,#0070ff 165px,#0079ff 170px)"></i><i style="left:179px;top:297px;width:171px;height:1px;background:linear-gradient(90deg,#0061ff 0px,#0061ff 5px,#0061ff 10px,#0061ff 15px,#0061ff 20px,#0061ff 25px,#0062ff 30px,#0064ff 35px,#0066ff 40px,#0068ff 45px,#006aff 50px,#006cff 55px,#006cff 60px,#006bff 65px,#006bff 70px,#006aff 75px,#0069ff 80px,#0068ff 85px,#0065ff 90px,#0062ff 95px,#005eff 100px,#0057ff 105px,#004fff 110px,#0045ff 115px,#003aff 120px,#0030ff 125px,#0026ff 130px,#0120f7 135px,#031cec 140px,#0121fb 145px,#002cff 150px,#0038ff 155px,#0044ff 160px,#0051ff 165px,#0057ff 170px)"></i><i style="left:179px;top:298px;width:171px;height:1px;background:linear-gradient(90deg,#0058ff 0px,#005bff 5px,#005eff 10px,#0060ff 15px,#0063ff 20px,#0066ff 25px,#0066ff 30px,#0061ff 35px,#005cff 40px,#0057ff 45px,#0052ff 50px,#004cff 55px,#0050ff 60px,#0055ff 65px,#005aff 70px,#0060ff 75px,#0066ff 80px,#006aff 85px,#0066ff 90px,#0061ff 95px,#005bff 100px,#0052ff 105px,#0045ff 110px,#0040ff 115px,#0043ff 120px,#0049ff 125px,#0051ff 130px,#0059ff 135px,#0062ff 140px,#0060ff 145px,#005fff 150px,#005dff 155px,#005bff 160px,#005aff 165px,#005aff 170px)"></i><i style="left:179px;top:299px;width:171px;height:1px;background:linear-gradient(90deg,#0054ff 0px,#0058ff 5px,#005bff 10px,#005eff 15px,#0061ff 20px,#0064ff 25px,#0065ff 30px,#0063ff 35px,#0060ff 40px,#005eff 45px,#005bff 50px,#0058ff 55px,#0059ff 60px,#005aff 65px,#005cff 70px,#005eff 75px,#005fff 80px,#0060ff 85px,#005eff 90px,#005cff 95px,#0059ff 100px,#0054ff 105px,#004eff 110px,#004bff 115px,#004dff 120px,#0050ff 125px,#0055ff 130px,#005aff 135px,#005fff 140px,#005fff 145px,#005eff 150px,#005dff 155px,#005dff 160px,#005cff 165px,#005cff 170px)"></i><i style="left:179px;top:300px;width:171px;height:1px;background:linear-gradient(90deg,#006eff 0px,#006bff 5px,#0068ff 10px,#0065ff 15px,#0063ff 20px,#0060ff 25px,#005eff 30px,#005fff 35px,#0060ff 40px,#0061ff 45px,#0061ff 50px,#0062ff 55px,#005eff 60px,#005aff 65px,#0055ff 70px,#0051ff 75px,#004cff 80px,#0048ff 85px,#004dff 90px,#0051ff 95px,#0057ff 100px,#005fff 105px,#006aff 110px,#006bff 115px,#0060ff 120px,#0052ff 125px,#0043ff 130px,#0033ff 135px,#0023ff 140px,#002cff 145px,#0036ff 150px,#003fff 155px,#0049ff 160px,#0053ff 165px,#0053ff 170px)"></i></div>
<div class="p" style="clip-path:path('M101.9,476.60 A84.8,84.8 0 1 1 256.3,473.07 L256.3,458.4 L101.9,458.4 Z')"><i style="left:93px;top:354px;width:171px;height:1px;background:linear-gradient(90deg,#0069ff 0px,#006dff 5px,#0070ff 10px,#0074ff 15px,#0078ff 20px,#0073ff 25px,#006eff 30px,#0069ff 35px,#0064ff 40px,#0063ff 45px,#0062ff 50px,#0062ff 55px,#0060ff 60px,#0065ff 65px,#0068ff 70px,#006bff 75px,#006fff 80px,#006fff 85px,#006fff 90px,#0070ff 95px,#0071ff 100px,#0071ff 105px,#0071ff 110px,#0071ff 115px,#0071ff 120px,#0072ff 125px,#0073ff 130px,#0073ff 135px,#0074ff 140px,#0071ff 145px,#006fff 150px,#006cff 155px,#0069ff 160px,#0067ff 165px,#0065ff 170px)"></i><i style="left:93px;top:355px;width:171px;height:1px;background:linear-gradient(90deg,#0069ff 0px,#0068ff 5px,#0068ff 10px,#0067ff 15px,#0067ff 20px,#006aff 25px,#006eff 30px,#0071ff 35px,#0075ff 40px,#0076ff 45px,#0077ff 50px,#0079ff 55px,#0079ff 60px,#0074ff 65px,#006eff 70px,#0068ff 75px,#0062ff 80px,#0065ff 85px,#0069ff 90px,#006dff 95px,#0073ff 100px,#0071ff 105px,#0070ff 110px,#006eff 115px,#006bff 120px,#0070ff 125px,#0075ff 130px,#007aff 135px,#0080ff 140px,#0081ff 145px,#0083ff 150px,#0085ff 155px,#0087ff 160px,#0083ff 165px,#007eff 170px)"></i><i style="left:93px;top:356px;width:171px;height:1px;background:linear-gradient(90deg,#0071ff 0px,#006cff 5px,#0066ff 10px,#0061ff 15px,#005cff 20px,#0064ff 25px,#006cff 30px,#0073ff 35px,#007cff 40px,#0079ff 45px,#0076ff 50px,#0073ff 55px,#006fff 60px,#0070ff 65px,#006fff 70px,#006eff 75px,#006dff 80px,#0070ff 85px,#0074ff 90px,#0079ff 95px,#0080ff 100px,#0077ff 105px,#006cff 110px,#005fff 115px,#004fff 120px,#0056ff 125px,#005dff 130px,#0064ff 135px,#006cff 140px,#0067ff 145px,#0062ff 150px,#005dff 155px,#0058ff 160px,#005bff 165px,#005dff 170px)"></i><i style="left:93px;top:357px;width:171px;height:1px;background:linear-gradient(90deg,#0071ff 0px,#006fff 5px,#006cff 10px,#006aff 15px,#0068ff 20px,#006aff 25px,#006cff 30px,#006eff 35px,#0071ff 40px,#0074ff 45px,#0078ff 50px,#007cff 55px,#007eff 60px,#0078ff 65px,#0070ff 70px,#0068ff 75px,#0060ff 80px,#0065ff 85px,#006bff 90px,#0072ff 95px,#007bff 100px,#0077ff 105px,#0073ff 110px,#006eff 115px,#0068ff 120px,#0062ff 125px,#005bff 130px,#0055ff 135px,#004eff 140px,#0053ff 145px,#0057ff 150px,#005bff 155px,#0060ff 160px,#0067ff 165px,#006eff 170px)"></i><i style="left:93px;top:358px;width:171px;height:1px;background:linear-gradient(90deg,#0064ff 0px,#0066ff 5px,#0068ff 10px,#006aff 15px,#006cff 20px,#006dff 25px,#006eff 30px,#006fff 35px,#0071ff 40px,#0075ff 45px,#007bff 50px,#0081ff 55px,#0085ff 60px,#0081ff 65px,#007cff 70px,#0076ff 75px,#0070ff 80px,#0070ff 85px,#0071ff 90px,#0073ff 95px,#0077ff 100px,#0072ff 105px,#006cff 110px,#0065ff 115px,#005dff 120px,#005dff 125px,#005eff 130px,#005eff 135px,#005fff 140px,#0065ff 145px,#006bff 150px,#0072ff 155px,#0078ff 160px,#0078ff 165px,#0079ff 170px)"></i><i style="left:93px;top:359px;width:171px;height:1px;background:linear-gradient(90deg,#0070ff 0px,#006fff 5px,#006eff 10px,#006dff 15px,#006dff 20px,#006fff 25px,#0071ff 30px,#0073ff 35px,#0076ff 40px,#007bff 45px,#0081ff 50px,#0086ff 55px,#0089ff 60px,#0087ff 65px,#0083ff 70px,#007dff 75px,#0078ff 80px,#0075ff 85px,#0074ff 90px,#0074ff 95px,#0075ff 100px,#0072ff 105px,#006eff 110px,#006aff 115px,#0065ff 120px,#0064ff 125px,#0064ff 130px,#0063ff 135px,#0062ff 140px,#005aff 145px,#0052ff 150px,#0049ff 155px,#0041ff 160px,#004eff 165px,#005aff 170px)"></i><i style="left:93px;top:360px;width:171px;height:1px;background:linear-gradient(90deg,#0070ff 0px,#006aff 5px,#0064ff 10px,#005fff 15px,#0059ff 20px,#005dff 25px,#0061ff 30px,#0066ff 35px,#006cff 40px,#0070ff 45px,#0075ff 50px,#007aff 55px,#007dff 60px,#0079ff 65px,#0073ff 70px,#006bff 75px,#0063ff 80px,#0066ff 85px,#006aff 90px,#006fff 95px,#0076ff 100px,#0078ff 105px,#007aff 110px,#007dff 115px,#007fff 120px,#0076ff 125px,#006bff 130px,#0060ff 135px,#0055ff 140px,#005dff 145px,#0064ff 150px,#006cff 155px,#0074ff 160px,#007aff 165px,#0080ff 170px)"></i><i style="left:93px;top:361px;width:171px;height:1px;background:linear-gradient(90deg,#0074ff 0px,#0075ff 5px,#0076ff 10px,#0078ff 15px,#007aff 20px,#007bff 25px,#007dff 30px,#007fff 35px,#0083ff 40px,#0080ff 45px,#007fff 50px,#007eff 55px,#0079ff 60px,#007aff 65px,#0077ff 70px,#0072ff 75px,#006dff 80px,#006bff 85px,#006bff 90px,#006cff 95px,#006fff 100px,#0071ff 105px,#0075ff 110px,#007aff 115px,#007fff 120px,#0076ff 125px,#006bff 130px,#0060ff 135px,#0055ff 140px,#0057ff 145px,#005aff 150px,#005cff 155px,#005eff 160px,#005dff 165px,#005bff 170px)"></i><i style="left:93px;top:362px;width:171px;height:1px;background:linear-gradient(90deg,#0065ff 0px,#0068ff 5px,#006aff 10px,#006dff 15px,#0070ff 20px,#0072ff 25px,#0073ff 30px,#0075ff 35px,#0078ff 40px,#0080ff 45px,#0088ff 50px,#0091ff 55px,#0096ff 60px,#0094ff 65px,#008eff 70px,#0086ff 75px,#007eff 80px,#0078ff 85px,#0074ff 90px,#0072ff 95px,#0070ff 100px,#0073ff 105px,#0076ff 110px,#007aff 115px,#007eff 120px,#007dff 125px,#007aff 130px,#0077ff 135px,#0075ff 140px,#006dff 145px,#0065ff 150px,#005dff 155px,#0055ff 160px,#0058ff 165px,#005cff 170px)"></i><i style="left:93px;top:363px;width:171px;height:1px;background:linear-gradient(90deg,#006cff 0px,#006bff 5px,#0069ff 10px,#0068ff 15px,#0068ff 20px,#006aff 25px,#006dff 30px,#0071ff 35px,#0076ff 40px,#0084ff 45px,#0094ff 50px,#00a4fe 55px,#00b0fd 60px,#00a8fd 65px,#009bff 70px,#008cff 75px,#007cff 80px,#0077ff 85px,#0074ff 90px,#0072ff 95px,#0072ff 100px,#0072ff 105px,#0072ff 110px,#0073ff 115px,#0073ff 120px,#0071ff 125px,#006eff 130px,#006aff 135px,#0067ff 140px,#006eff 145px,#0074ff 150px,#007bff 155px,#0082ff 160px,#0080ff 165px,#007fff 170px)"></i><i style="left:93px;top:364px;width:171px;height:1px;background:linear-gradient(90deg,#005eff 0px,#0064ff 5px,#006aff 10px,#0070ff 15px,#0077ff 20px,#0077ff 25px,#0078ff 30px,#0079ff 35px,#007cff 40px,#0082ff 45px,#008aff 50px,#0091ff 55px,#0095ff 60px,#008fff 65px,#0084ff 70px,#0075ff 75px,#0067ff 80px,#0065ff 85px,#0066ff 90px,#0068ff 95px,#006dff 100px,#0068ff 105px,#0063ff 110px,#005eff 115px,#0058ff 120px,#005bff 125px,#005fff 130px,#0063ff 135px,#0068ff 140px,#0067ff 145px,#0065ff 150px,#0064ff 155px,#0063ff 160px,#0061ff 165px,#0060ff 170px)"></i><i style="left:93px;top:365px;width:171px;height:1px;background:linear-gradient(90deg,#006cff 0px,#006eff 5px,#0070ff 10px,#0073ff 15px,#0077ff 20px,#0073ff 25px,#0070ff 30px,#006eff 35px,#006eff 40px,#0079ff 45px,#0086ff 50px,#0092ff 55px,#009aff 60px,#009efe 65px,#009cfe 70px,#0097ff 75px,#0091ff 80px,#0086ff 85px,#007eff 90px,#0077ff 95px,#0072ff 100px,#006eff 105px,#0069ff 110px,#0065ff 115px,#0060ff 120px,#005fff 125px,#005eff 130px,#005dff 135px,#005cff 140px,#005dff 145px,#005fff 150px,#0060ff 155px,#0061ff 160px,#0063ff 165px,#0066ff 170px)"></i><i style="left:93px;top:366px;width:171px;height:1px;background:linear-gradient(90deg,#006cff 0px,#006dff 5px,#006eff 10px,#0070ff 15px,#0073ff 20px,#0074ff 25px,#0077ff 30px,#007aff 35px,#0081ff 40px,#0089ff 45px,#0094ff 50px,#009efe 55px,#00a3fe 60px,#00a7fe 65px,#00a4fe 70px,#009dfe 75px,#0095ff 80px,#008aff 85px,#0082ff 90px,#007bff 95px,#0077ff 100px,#0073ff 105px,#0070ff 110px,#006dff 115px,#0069ff 120px,#0069ff 125px,#0069ff 130px,#0069ff 135px,#0069ff 140px,#006aff 145px,#006aff 150px,#006bff 155px,#006cff 160px,#0068ff 165px,#0065ff 170px)"></i><i style="left:93px;top:367px;width:171px;height:1px;background:linear-gradient(90deg,#006bff 0px,#0069ff 5px,#0068ff 10px,#0067ff 15px,#0067ff 20px,#006cff 25px,#0071ff 30px,#0077ff 35px,#0081ff 40px,#0089ff 45px,#0094ff 50px,#009efe 55px,#00a3fe 60px,#00a5fe 65px,#00a1fe 70px,#0098ff 75px,#008eff 80px,#0084ff 85px,#007cff 90px,#0076ff 95px,#0072ff 100px,#006eff 105px,#006bff 110px,#0068ff 115px,#0064ff 120px,#0067ff 125px,#0069ff 130px,#006cff 135px,#006fff 140px,#006bff 145px,#0067ff 150px,#0063ff 155px,#005fff 160px,#0060ff 165px,#0061ff 170px)"></i><i style="left:93px;top:368px;width:171px;height:1px;background:linear-gradient(90deg,#006eff 0px,#006dff 5px,#006cff 10px,#006bff 15px,#006cff 20px,#006cff 25px,#006dff 30px,#0070ff 35px,#0076ff 40px,#0086ff 45px,#0099ff 50px,#00aafd 55px,#00b6fc 60px,#00bafc 65px,#00b8fc 70px,#00b0fd 75px,#00a6fe 80px,#0090ff 85px,#007dff 90px,#006bff 95px,#0059ff 100px,#005eff 105px,#0065ff 110px,#0070ff 115px,#007dff 120px,#007aff 125px,#0077ff 130px,#0073ff 135px,#0070ff 140px,#0074ff 145px,#0078ff 150px,#007cff 155px,#0080ff 160px,#0080ff 165px,#0080ff 170px)"></i><i style="left:93px;top:369px;width:171px;height:1px;background:linear-gradient(90deg,#007aff 0px,#0074ff 5px,#006fff 10px,#006aff 15px,#0067ff 20px,#006aff 25px,#006eff 30px,#0074ff 35px,#007eff 40px,#008eff 45px,#00a0fe 50px,#00b1fd 55px,#00bcfc 60px,#00bcfc 65px,#00b4fc 70px,#00a7fe 75px,#0098ff 80px,#008cff 85px,#0082ff 90px,#007aff 95px,#0076ff 100px,#0070ff 105px,#006cff 110px,#0068ff 115px,#0064ff 120px,#0061ff 125px,#005eff 130px,#005cff 135px,#0059ff 140px,#005eff 145px,#0063ff 150px,#0067ff 155px,#006cff 160px,#0067ff 165px,#0062ff 170px)"></i><i style="left:93px;top:370px;width:171px;height:1px;background:linear-gradient(90deg,#006cff 0px,#006fff 5px,#0071ff 10px,#0074ff 15px,#0079ff 20px,#0076ff 25px,#0074ff 30px,#0073ff 35px,#0078ff 40px,#0085ff 45px,#0094ff 50px,#00a1fe 55px,#00a8fd 60px,#00aafd 65px,#00a4fe 70px,#0098ff 75px,#008aff 80px,#0080ff 85px,#0078ff 90px,#0073ff 95px,#0070ff 100px,#0069ff 105px,#0063ff 110px,#005dff 115px,#0058ff 120px,#005dff 125px,#0064ff 130px,#006bff 135px,#0072ff 140px,#006aff 145px,#0062ff 150px,#005aff 155px,#0052ff 160px,#0052ff 165px,#0052ff 170px)"></i><i style="left:93px;top:371px;width:171px;height:1px;background:linear-gradient(90deg,#0067ff 0px,#0068ff 5px,#006bff 10px,#006eff 15px,#0072ff 20px,#0076ff 25px,#007aff 30px,#0081ff 35px,#008dff 40px,#009dfe 45px,#00affd 50px,#00bdfc 55px,#00c5fb 60px,#00c4fb 65px,#00bcfc 70px,#00adfd 75px,#009aff 80px,#008cff 85px,#0080ff 90px,#0075ff 95px,#006dff 100px,#0070ff 105px,#0078ff 110px,#0082ff 115px,#0090ff 120px,#0087ff 125px,#007dff 130px,#0073ff 135px,#0068ff 140px,#006aff 145px,#006cff 150px,#006fff 155px,#0071ff 160px,#0070ff 165px,#006fff 170px)"></i><i style="left:93px;top:372px;width:171px;height:1px;background:linear-gradient(90deg,#0069ff 0px,#0067ff 5px,#0066ff 10px,#0066ff 15px,#0068ff 20px,#006bff 25px,#0070ff 30px,#0077ff 35px,#0084ff 40px,#0093ff 45px,#00a3fe 50px,#00affd 55px,#00b5fc 60px,#00c0fb 65px,#00c5fb 70px,#00c2fb 75px,#00bdfc 80px,#00a9fd 85px,#0096ff 90px,#0086ff 95px,#0078ff 100px,#006eff 105px,#0066ff 110px,#005eff 115px,#0058ff 120px,#005eff 125px,#0065ff 130px,#006dff 135px,#0075ff 140px,#0076ff 145px,#0076ff 150px,#0077ff 155px,#0078ff 160px,#006eff 165px,#0065ff 170px)"></i><i style="left:93px;top:373px;width:171px;height:1px;background:linear-gradient(90deg,#0077ff 0px,#0074ff 5px,#0072ff 10px,#0071ff 15px,#0072ff 20px,#0075ff 25px,#007aff 30px,#0082ff 35px,#0090ff 40px,#00a5fe 45px,#00bbfc 50px,#00cbfa 55px,#00d6fa 60px,#00d6f9 65px,#00d0fa 70px,#00c4fb 75px,#00b3fd 80px,#00a2fe 85px,#0092ff 90px,#0084ff 95px,#0079ff 100px,#0077ff 105px,#0078ff 110px,#007eff 115px,#0085ff 120px,#007fff 125px,#0078ff 130px,#0070ff 135px,#0069ff 140px,#0069ff 145px,#0069ff 150px,#006aff 155px,#006aff 160px,#006eff 165px,#0071ff 170px)"></i><i style="left:93px;top:374px;width:171px;height:1px;background:linear-gradient(90deg,#005fff 0px,#0065ff 5px,#006cff 10px,#0074ff 15px,#007dff 20px,#007eff 25px,#007fff 30px,#0084ff 35px,#008fff 40px,#00a9fd 45px,#00c2fb 50px,#00d5fa 55px,#00e1f9 60px,#00e2f9 65px,#00dcf9 70px,#00d1fa 75px,#00c0fb 80px,#00adfd 85px,#0099ff 90px,#0086ff 95px,#0076ff 100px,#0073ff 105px,#0075ff 110px,#007bff 115px,#0084ff 120px,#007eff 125px,#0077ff 130px,#0070ff 135px,#0069ff 140px,#0066ff 145px,#0063ff 150px,#0060ff 155px,#005dff 160px,#0060ff 165px,#0064ff 170px)"></i><i style="left:93px;top:375px;width:171px;height:1px;background:linear-gradient(90deg,#006dff 0px,#006aff 5px,#0067ff 10px,#0066ff 15px,#0067ff 20px,#006dff 25px,#0074ff 30px,#007fff 35px,#0091ff 40px,#00a6fe 45px,#00bafc 50px,#00c6fb 55px,#00cdfa 60px,#00d4fa 65px,#00d6fa 70px,#00d2fa 75px,#00c9fb 80px,#00b9fc 85px,#00a7fe 90px,#0095ff 95px,#0087ff 100px,#007fff 105px,#007cff 110px,#007bff 115px,#007dff 120px,#0080ff 125px,#0083ff 130px,#0085ff 135px,#0088ff 140px,#0082ff 145px,#007dff 150px,#0077ff 155px,#0071ff 160px,#0070ff 165px,#006fff 170px)"></i><i style="left:93px;top:376px;width:171px;height:1px;background:linear-gradient(90deg,#0063ff 0px,#0063ff 5px,#0063ff 10px,#0065ff 15px,#0069ff 20px,#0071ff 25px,#007aff 30px,#0088ff 35px,#009dfe 40px,#00b2fd 45px,#00c4fb 50px,#00cdfa 55px,#00d0fa 60px,#00d1fa 65px,#00cefa 70px,#00c6fb 75px,#00b9fc 80px,#00aefd 85px,#009ffe 90px,#0090ff 95px,#0084ff 100px,#0079ff 105px,#0073ff 110px,#0071ff 115px,#0071ff 120px,#0075ff 125px,#007aff 130px,#007fff 135px,#0085ff 140px,#007bff 145px,#0072ff 150px,#0069ff 155px,#005fff 160px,#005eff 165px,#005dff 170px)"></i><i style="left:93px;top:377px;width:171px;height:1px;background:linear-gradient(90deg,#0068ff 0px,#0068ff 5px,#0069ff 10px,#006bff 15px,#006fff 20px,#0074ff 25px,#007aff 30px,#0084ff 35px,#0095ff 40px,#00b1fd 45px,#00c8fb 50px,#00d4fa 55px,#00dbf9 60px,#00ddf9 65px,#00dcf9 70px,#00d7f9 75px,#00cdfa 80px,#00c3fb 85px,#00b5fc 90px,#00a4fe 95px,#0096ff 100px,#0088ff 105px,#007eff 110px,#0076ff 115px,#0071ff 120px,#0072ff 125px,#0073ff 130px,#0074ff 135px,#0075ff 140px,#0071ff 145px,#006dff 150px,#0068ff 155px,#0064ff 160px,#0060ff 165px,#005cff 170px)"></i><i style="left:93px;top:378px;width:171px;height:1px;background:linear-gradient(90deg,#0069ff 0px,#006aff 5px,#006cff 10px,#0070ff 15px,#0076ff 20px,#007cff 25px,#0084ff 30px,#0090ff 35px,#00a5fe 40px,#00befc 45px,#00d1fa 50px,#00d8f9 55px,#00d9f9 60px,#00ddf9 65px,#00e0f9 70px,#00dff9 75px,#00d9f9 80px,#00cbfa 85px,#00b7fc 90px,#009ffe 95px,#0088ff 100px,#007aff 105px,#0071ff 110px,#006dff 115px,#006dff 120px,#006dff 125px,#006dff 130px,#006eff 135px,#006fff 140px,#006cff 145px,#006aff 150px,#0067ff 155px,#0065ff 160px,#0062ff 165px,#005fff 170px)"></i><i style="left:93px;top:379px;width:171px;height:1px;background:linear-gradient(90deg,#0062ff 0px,#0066ff 5px,#006aff 10px,#0071ff 15px,#007aff 20px,#0080ff 25px,#0088ff 30px,#0094ff 35px,#00aafd 40px,#00c7fb 45px,#00dcf9 50px,#00e4f8 55px,#00e6f8 60px,#00e5f8 65px,#00e4f8 70px,#00e1f9 75px,#00d9f9 80px,#00d3fa 85px,#00c5fb 90px,#00b2fd 95px,#009ffe 100px,#0088ff 105px,#0076ff 110px,#0067ff 115px,#005aff 120px,#005bff 125px,#005eff 130px,#0061ff 135px,#0066ff 140px,#0061ff 145px,#005cff 150px,#0057ff 155px,#0052ff 160px,#0055ff 165px,#0059ff 170px)"></i><i style="left:93px;top:380px;width:171px;height:1px;background:linear-gradient(90deg,#0070ff 0px,#006fff 5px,#006fff 10px,#0071ff 15px,#0076ff 20px,#007aff 25px,#0080ff 30px,#008cff 35px,#00a0fe 40px,#00befc 45px,#00d2fa 50px,#00d7f9 55px,#00d7f9 60px,#00d8f9 65px,#00dcf9 70px,#00e0f9 75px,#00e0f9 80px,#00d9f9 85px,#00c8fb 90px,#00affd 95px,#0094ff 100px,#007dff 105px,#006bff 110px,#005eff 115px,#0055ff 120px,#0057ff 125px,#005cff 130px,#0062ff 135px,#0068ff 140px,#006bff 145px,#006fff 150px,#0072ff 155px,#0075ff 160px,#0070ff 165px,#006aff 170px)"></i><i style="left:93px;top:381px;width:171px;height:1px;background:linear-gradient(90deg,#0060ff 0px,#005fff 5px,#005fff 10px,#0061ff 15px,#0066ff 20px,#006eff 25px,#0079ff 30px,#0088ff 35px,#00a2fe 40px,#00c3fb 45px,#00d9f9 50px,#00def9 55px,#00def9 60px,#00ddf9 65px,#00e2f9 70px,#00e7f8 75px,#01e8f7 80px,#01e8f7 85px,#00dcf9 90px,#00c7fb 95px,#00affd 100px,#0095ff 105px,#0082ff 110px,#0074ff 115px,#006aff 120px,#0065ff 125px,#0060ff 130px,#005dff 135px,#005aff 140px,#0056ff 145px,#0052ff 150px,#004eff 155px,#004bff 160px,#0051ff 165px,#0057ff 170px)"></i><i style="left:93px;top:382px;width:171px;height:1px;background:linear-gradient(90deg,#006fff 0px,#006dff 5px,#006bff 10px,#006cff 15px,#0070ff 20px,#0074ff 25px,#007bff 30px,#0087ff 35px,#009cfe 40px,#00c0fb 45px,#00d7f9 50px,#00dcf9 55px,#00dbf9 60px,#00dcf9 65px,#00e4f8 70px,#07e9f2 75px,#10ebec 80px,#09eaf1 85px,#00dcf9 90px,#00bafc 95px,#0093ff 100px,#007cff 105px,#006cff 110px,#0064ff 115px,#0062ff 120px,#0062ff 125px,#0066ff 130px,#006aff 135px,#006fff 140px,#0068ff 145px,#0060ff 150px,#0059ff 155px,#0052ff 160px,#0055ff 165px,#0059ff 170px)"></i><i style="left:93px;top:383px;width:171px;height:1px;background:linear-gradient(90deg,#006aff 0px,#0069ff 5px,#0068ff 10px,#006aff 15px,#0070ff 20px,#0079ff 25px,#0084ff 30px,#0094ff 35px,#00b0fd 40px,#00ccfa 45px,#00dbf9 50px,#00d6fa 55px,#00cbfa 60px,#00d2fa 65px,#00e2f9 70px,#0febec 75px,#22efdc 80px,#23f0dc 85px,#14ece8 90px,#00dff9 95px,#00bcfc 100px,#00a5fe 105px,#0096ff 110px,#008fff 115px,#008fff 120px,#0084ff 125px,#007aff 130px,#0071ff 135px,#0067ff 140px,#006aff 145px,#006eff 150px,#0071ff 155px,#0074ff 160px,#0073ff 165px,#0072ff 170px)"></i><i style="left:93px;top:384px;width:171px;height:1px;background:linear-gradient(90deg,#006bff 0px,#0069ff 5px,#0067ff 10px,#0069ff 15px,#006eff 20px,#0078ff 25px,#0084ff 30px,#0096ff 35px,#00b3fd 40px,#00d2fa 45px,#00e2f9 50px,#00dcf9 55px,#00d1fa 60px,#00cffa 65px,#00daf9 70px,#02e8f6 75px,#13ece9 80px,#1ceee2 85px,#13ece9 90px,#00e3f8 95px,#00c4fb 100px,#00a9fd 105px,#0096ff 110px,#008bff 115px,#0086ff 120px,#007eff 125px,#0077ff 130px,#0072ff 135px,#006cff 140px,#006eff 145px,#0070ff 150px,#0073ff 155px,#0075ff 160px,#0073ff 165px,#0071ff 170px)"></i><i style="left:93px;top:385px;width:171px;height:1px;background:linear-gradient(90deg,#0062ff 0px,#0060ff 5px,#005fff 10px,#0060ff 15px,#0066ff 20px,#006eff 25px,#0078ff 30px,#0089ff 35px,#00a5fe 40px,#00c6fb 45px,#00d8f9 50px,#00d2fa 55px,#00c6fb 60px,#00c2fb 65px,#00cbfa 70px,#00dcf9 75px,#06e9f3 80px,#15ede7 85px,#12ece9 90px,#00e6f8 95px,#00cafb 100px,#00a9fd 105px,#008eff 110px,#007aff 115px,#006cff 120px,#006dff 125px,#0071ff 130px,#0077ff 135px,#007eff 140px,#007bff 145px,#0078ff 150px,#0074ff 155px,#0071ff 160px,#006bff 165px,#0064ff 170px)"></i><i style="left:93px;top:386px;width:171px;height:1px;background:linear-gradient(90deg,#0068ff 0px,#0065ff 5px,#0062ff 10px,#0062ff 15px,#0067ff 20px,#0071ff 25px,#007dff 30px,#008fff 35px,#00adfd 40px,#00cdfa 45px,#00dbf9 50px,#00d0fa 55px,#00bffc 60px,#00bcfc 65px,#00c8fb 70px,#00ddf9 75px,#0debed 80px,#1eeee0 85px,#1ceee2 90px,#07e9f3 95px,#00d1fa 100px,#00b0fd 105px,#0094ff 110px,#007fff 115px,#0070ff 120px,#006fff 125px,#0073ff 130px,#0078ff 135px,#007dff 140px,#0071ff 145px,#0064ff 150px,#0057ff 155px,#004aff 160px,#004fff 165px,#0055ff 170px)"></i><i style="left:93px;top:387px;width:171px;height:1px;background:linear-gradient(90deg,#0071ff 0px,#006fff 5px,#006cff 10px,#006dff 15px,#0072ff 20px,#007bff 25px,#0086ff 30px,#0098ff 35px,#00b6fc 40px,#00d7f9 45px,#00e6f8 50px,#00dbf9 55px,#00c9fb 60px,#00c5fb 65px,#00d1fa 70px,#00e8f8 75px,#1beee2 80px,#2cf1d5 85px,#29f1d7 90px,#14ece8 95px,#00dbf9 100px,#00b9fc 105px,#009bff 110px,#0084ff 115px,#0073ff 120px,#006dff 125px,#006cff 130px,#006cff 135px,#006eff 140px,#006aff 145px,#0067ff 150px,#0063ff 155px,#0060ff 160px,#0062ff 165px,#0064ff 170px)"></i><i style="left:93px;top:388px;width:171px;height:1px;background:linear-gradient(90deg,#0064ff 0px,#0063ff 5px,#0062ff 10px,#0064ff 15px,#006bff 20px,#0073ff 25px,#007fff 30px,#0090ff 35px,#00aefd 40px,#00cdfa 45px,#00daf9 50px,#00cbfa 55px,#00b5fc 60px,#00aefd 65px,#00b8fc 70px,#00cffa 75px,#01e8f7 80px,#18ede4 85px,#1fefdf 90px,#11ecea 95px,#00e1f9 100px,#00c0fb 105px,#00a2fe 110px,#008aff 115px,#0079ff 120px,#0073ff 125px,#0073ff 130px,#0074ff 135px,#0077ff 140px,#0074ff 145px,#0070ff 150px,#006dff 155px,#0069ff 160px,#006aff 165px,#006aff 170px)"></i><i style="left:93px;top:389px;width:171px;height:1px;background:linear-gradient(90deg,#0065ff 0px,#0065ff 5px,#0066ff 10px,#0069ff 15px,#0072ff 20px,#007bff 25px,#0087ff 30px,#0099ff 35px,#00b7fc 40px,#00d8f9 45px,#00e4f8 50px,#00d4fa 55px,#00bcfc 60px,#00b1fd 65px,#00b9fc 70px,#00cdfa 75px,#00e5f8 80px,#14ece8 85px,#1aeee3 90px,#0debed 95px,#00dbf9 100px,#00befc 105px,#00a2fe 110px,#008bff 115px,#007dff 120px,#0077ff 125px,#0076ff 130px,#0079ff 135px,#007cff 140px,#0077ff 145px,#0073ff 150px,#006fff 155px,#006aff 160px,#006aff 165px,#006aff 170px)"></i><i style="left:93px;top:390px;width:171px;height:1px;background:linear-gradient(90deg,#0068ff 0px,#0064ff 5px,#0062ff 10px,#0062ff 15px,#0067ff 20px,#006fff 25px,#007bff 30px,#008cff 35px,#00a9fd 40px,#00cefa 45px,#00def9 50px,#00d2fa 55px,#00bdfc 60px,#00b1fd 65px,#00b8fc 70px,#00cbfa 75px,#00e4f8 80px,#13ece9 85px,#1beee3 90px,#11eceb 95px,#00e0f9 100px,#00c4fb 105px,#00a6fe 110px,#008cff 115px,#007bff 120px,#006cff 125px,#0062ff 130px,#005cff 135px,#0057ff 140px,#0056ff 145px,#0054ff 150px,#0053ff 155px,#0051ff 160px,#0051ff 165px,#0051ff 170px)"></i><i style="left:93px;top:391px;width:171px;height:1px;background:linear-gradient(90deg,#005fff 0px,#005eff 5px,#005dff 10px,#0060ff 15px,#0068ff 20px,#0070ff 25px,#007aff 30px,#008bff 35px,#00a8fe 40px,#00c8fb 45px,#00d3fa 50px,#00c1fb 55px,#00a6fe 60px,#009cfe 65px,#00a5fe 70px,#00bcfc 75px,#00d8f9 80px,#08eaf2 85px,#13ece8 90px,#0eebed 95px,#00e2f8 100px,#00c6fb 105px,#00a7fe 110px,#008bff 115px,#0075ff 120px,#0071ff 125px,#0074ff 130px,#007bff 135px,#0084ff 140px,#007eff 145px,#0078ff 150px,#0073ff 155px,#006dff 160px,#006aff 165px,#0067ff 170px)"></i><i style="left:93px;top:392px;width:171px;height:1px;background:linear-gradient(90deg,#0065ff 0px,#0064ff 5px,#0063ff 10px,#0066ff 15px,#006dff 20px,#0073ff 25px,#007cff 30px,#008aff 35px,#00a4fe 40px,#00cafb 45px,#00daf9 50px,#00ccfa 55px,#00b5fc 60px,#00a4fe 65px,#00a7fe 70px,#00b6fc 75px,#00ccfa 80px,#00e5f8 85px,#0cebee 90px,#0debee 95px,#00e6f8 100px,#00cefa 105px,#00b2fd 110px,#0097ff 115px,#0083ff 120px,#0072ff 125px,#0067ff 130px,#0060ff 135px,#005bff 140px,#0058ff 145px,#0056ff 150px,#0054ff 155px,#0052ff 160px,#0057ff 165px,#005bff 170px)"></i><i style="left:93px;top:393px;width:171px;height:1px;background:linear-gradient(90deg,#005cff 0px,#005dff 5px,#005eff 10px,#0062ff 15px,#006bff 20px,#0072ff 25px,#007cff 30px,#008cff 35px,#00a7fe 40px,#00c9fb 45px,#00d5fa 50px,#00c3fb 55px,#00a6fe 60px,#0099ff 65px,#009efe 70px,#00b0fd 75px,#00c8fb 80px,#00e2f9 85px,#0cebee 90px,#11ecea 95px,#07eaf2 100px,#00dbf9 105px,#00c1fb 110px,#00a6fe 115px,#0091ff 120px,#0078ff 125px,#0066ff 130px,#0058ff 135px,#004bff 140px,#0052ff 145px,#005aff 150px,#0062ff 155px,#006aff 160px,#006dff 165px,#0071ff 170px)"></i><i style="left:93px;top:394px;width:171px;height:1px;background:linear-gradient(90deg,#0066ff 0px,#0060ff 5px,#005bff 10px,#005aff 15px,#005dff 20px,#0069ff 25px,#0078ff 30px,#008dff 35px,#00adfd 40px,#00cdfa 45px,#00d7f9 50px,#00c3fb 55px,#00a4fe 60px,#0096ff 65px,#009aff 70px,#00aafd 75px,#00c2fb 80px,#00d9f9 85px,#04e9f5 90px,#0aeaf0 95px,#00e8f8 100px,#00d6fa 105px,#00bafc 110px,#009bff 115px,#0082ff 120px,#0072ff 125px,#006bff 130px,#0068ff 135px,#0068ff 140px,#0063ff 145px,#005eff 150px,#0059ff 155px,#0054ff 160px,#005dff 165px,#0067ff 170px)"></i><i style="left:93px;top:395px;width:171px;height:1px;background:linear-gradient(90deg,#005eff 0px,#005cff 5px,#005aff 10px,#005bff 15px,#0061ff 20px,#006bff 25px,#0078ff 30px,#008bff 35px,#00aafd 40px,#00cafb 45px,#00d5fa 50px,#00c1fb 55px,#00a3fe 60px,#0091ff 65px,#0092ff 70px,#009efe 75px,#00b2fd 80px,#00ccfa 85px,#00e5f8 90px,#0beaef 95px,#0aeaf0 100px,#00def9 105px,#00bffc 110px,#0099ff 115px,#0078ff 120px,#0064ff 125px,#0059ff 130px,#0054ff 135px,#0052ff 140px,#005cff 145px,#0066ff 150px,#0071ff 155px,#007bff 160px,#007dff 165px,#007fff 170px)"></i><i style="left:93px;top:396px;width:171px;height:1px;background:linear-gradient(90deg,#0073ff 0px,#006eff 5px,#0068ff 10px,#0066ff 15px,#0069ff 20px,#006fff 25px,#0078ff 30px,#0087ff 35px,#00a1fe 40px,#00c2fb 45px,#00cffa 50px,#00bcfc 55px,#009ffe 60px,#0091ff 65px,#0093ff 70px,#00a2fe 75px,#00b8fc 80px,#00cffa 85px,#00e5f8 90px,#0cebef 95px,#0aeaf0 100px,#00e3f8 105px,#00c8fb 110px,#00a6fe 115px,#0088ff 120px,#0075ff 125px,#006cff 130px,#006aff 135px,#006aff 140px,#006bff 145px,#006dff 150px,#006eff 155px,#0070ff 160px,#0069ff 165px,#0063ff 170px)"></i><i style="left:93px;top:397px;width:171px;height:1px;background:linear-gradient(90deg,#0068ff 0px,#0060ff 5px,#0058ff 10px,#0054ff 15px,#0054ff 20px,#0062ff 25px,#0073ff 30px,#008aff 35px,#00abfd 40px,#00cbfa 45px,#00d7f9 50px,#00c4fb 55px,#00a5fe 60px,#0091ff 65px,#008eff 70px,#0096ff 75px,#00a5fe 80px,#00c2fb 85px,#00e2f9 90px,#13ece9 95px,#1eefe0 100px,#12ecea 105px,#00def9 110px,#00b9fc 115px,#0095ff 120px,#0080ff 125px,#0075ff 130px,#0072ff 135px,#0071ff 140px,#0074ff 145px,#0078ff 150px,#007cff 155px,#0080ff 160px,#0071ff 165px,#0062ff 170px)"></i><i style="left:93px;top:398px;width:171px;height:1px;background:linear-gradient(90deg,#006cff 0px,#0068ff 5px,#0064ff 10px,#0063ff 15px,#0067ff 20px,#006eff 25px,#0078ff 30px,#0088ff 35px,#00a2fe 40px,#00c2fb 45px,#00cefa 50px,#00bcfc 55px,#009efe 60px,#008bff 65px,#0089ff 70px,#0090ff 75px,#009ffe 80px,#00b9fc 85px,#00d6fa 90px,#05e9f4 95px,#0eebed 100px,#04e9f5 105px,#00d2fa 110px,#00acfd 115px,#0088ff 120px,#006bff 125px,#0059ff 130px,#004fff 135px,#0048ff 140px,#004eff 145px,#0054ff 150px,#005bff 155px,#0061ff 160px,#0060ff 165px,#005eff 170px)"></i><i style="left:93px;top:399px;width:171px;height:1px;background:linear-gradient(90deg,#0063ff 0px,#005eff 5px,#0059ff 10px,#0057ff 15px,#005bff 20px,#0065ff 25px,#0071ff 30px,#0083ff 35px,#00a0fe 40px,#00c0fb 45px,#00ccfa 50px,#00bbfc 55px,#009dfe 60px,#008bff 65px,#0088ff 70px,#008eff 75px,#009dfe 80px,#00b4fc 85px,#00d2fa 90px,#03e9f6 95px,#0debee 100px,#07e9f3 105px,#00d9f9 110px,#00b7fc 115px,#0094ff 120px,#007bff 125px,#006dff 130px,#0068ff 135px,#0065ff 140px,#0066ff 145px,#0066ff 150px,#0067ff 155px,#0068ff 160px,#006dff 165px,#0073ff 170px)"></i><i style="left:93px;top:400px;width:171px;height:1px;background:linear-gradient(90deg,#0063ff 0px,#005cff 5px,#0054ff 10px,#0050ff 15px,#0051ff 20px,#005bff 25px,#0067ff 30px,#0079ff 35px,#0094ff 40px,#00b1fd 45px,#00bcfc 50px,#00aafd 55px,#008cff 60px,#007fff 65px,#0082ff 70px,#008dff 75px,#00a0fe 80px,#00b8fc 85px,#00d9f9 90px,#0debed 95px,#1beee2 100px,#15ede7 105px,#00e5f8 110px,#00befc 115px,#0094ff 120px,#0079ff 125px,#006bff 130px,#0065ff 135px,#0063ff 140px,#0066ff 145px,#0069ff 150px,#006dff 155px,#0070ff 160px,#0071ff 165px,#0071ff 170px)"></i><i style="left:93px;top:401px;width:171px;height:1px;background:linear-gradient(90deg,#0064ff 0px,#005fff 5px,#0059ff 10px,#0057ff 15px,#005aff 20px,#0061ff 25px,#006bff 30px,#007aff 35px,#0093ff 40px,#00b6fc 45px,#00c8fb 50px,#00bcfc 55px,#00a5fe 60px,#0091ff 65px,#008dff 70px,#0090ff 75px,#009bff 80px,#00b0fd 85px,#00cffa 90px,#02e8f6 95px,#0eebed 100px,#0cebee 105px,#00e2f8 110px,#00c1fb 115px,#009cff 120px,#007eff 125px,#006dff 130px,#0065ff 135px,#0062ff 140px,#0061ff 145px,#0062ff 150px,#0062ff 155px,#0062ff 160px,#0063ff 165px,#0063ff 170px)"></i><i style="left:93px;top:402px;width:171px;height:1px;background:linear-gradient(90deg,#0065ff 0px,#005fff 5px,#0059ff 10px,#0056ff 15px,#0058ff 20px,#0060ff 25px,#006aff 30px,#007aff 35px,#0093ff 40px,#00b4fc 45px,#00c3fb 50px,#00b7fc 55px,#009dfe 60px,#008aff 65px,#0084ff 70px,#0085ff 75px,#008eff 80px,#00a3fe 85px,#00c4fb 90px,#00e0f9 95px,#05e9f4 100px,#07eaf2 105px,#00e0f9 110px,#00c1fb 115px,#009dfe 120px,#0086ff 125px,#007cff 130px,#007bff 135px,#0080ff 140px,#0077ff 145px,#006fff 150px,#0068ff 155px,#0060ff 160px,#0063ff 165px,#0066ff 170px)"></i><i style="left:93px;top:403px;width:171px;height:1px;background:linear-gradient(90deg,#006cff 0px,#0066ff 5px,#005fff 10px,#005bff 15px,#005dff 20px,#0062ff 25px,#006aff 30px,#0077ff 35px,#008dff 40px,#00b0fd 45px,#00c4fb 50px,#00bbfc 55px,#00a6fe 60px,#0091ff 65px,#008aff 70px,#008aff 75px,#0090ff 80px,#00a5fe 85px,#00c6fb 90px,#00e4f8 95px,#0beaf0 100px,#0cebee 105px,#00e5f8 110px,#00c4fb 115px,#009cff 120px,#007eff 125px,#006fff 130px,#006aff 135px,#006aff 140px,#006dff 145px,#0071ff 150px,#0075ff 155px,#0079ff 160px,#0074ff 165px,#006fff 170px)"></i><i style="left:93px;top:404px;width:171px;height:1px;background:linear-gradient(90deg,#006cff 0px,#0068ff 5px,#0062ff 10px,#0060ff 15px,#0062ff 20px,#0067ff 25px,#006eff 30px,#007aff 35px,#0090ff 40px,#00affd 45px,#00bffb 50px,#00b4fc 55px,#009cfe 60px,#008bff 65px,#0086ff 70px,#0088ff 75px,#0090ff 80px,#00a5fe 85px,#00c7fb 90px,#00e7f8 95px,#0febec 100px,#10eceb 105px,#01e8f8 110px,#00c5fb 115px,#0099ff 120px,#007fff 125px,#0074ff 130px,#0073ff 135px,#0077ff 140px,#006fff 145px,#0068ff 150px,#0061ff 155px,#0059ff 160px,#0057ff 165px,#0055ff 170px)"></i><i style="left:93px;top:405px;width:171px;height:1px;background:linear-gradient(90deg,#006bff 0px,#0066ff 5px,#005fff 10px,#005cff 15px,#005dff 20px,#0062ff 25px,#0069ff 30px,#0075ff 35px,#008bff 40px,#00a9fd 45px,#00bafc 50px,#00b1fd 55px,#009aff 60px,#0088ff 65px,#0081ff 70px,#0080ff 75px,#0086ff 80px,#009bff 85px,#00c0fb 90px,#00e1f9 95px,#0cebef 100px,#0beaef 105px,#00e1f9 110px,#00bafc 115px,#0088ff 120px,#006bff 125px,#005cff 130px,#0059ff 135px,#005cff 140px,#0063ff 145px,#006cff 150px,#0074ff 155px,#007dff 160px,#0074ff 165px,#006bff 170px)"></i><i style="left:93px;top:406px;width:171px;height:1px;background:linear-gradient(90deg,#0066ff 0px,#005eff 5px,#0055ff 10px,#004eff 15px,#004dff 20px,#0057ff 25px,#0065ff 30px,#0077ff 35px,#0092ff 40px,#00adfd 45px,#00bbfc 50px,#00affd 55px,#0095ff 60px,#0087ff 65px,#0084ff 70px,#0085ff 75px,#008eff 80px,#00a2fe 85px,#00c5fb 90px,#00e4f8 95px,#0debee 100px,#12ecea 105px,#07eaf2 110px,#00cffa 115px,#00a4fe 120px,#0083ff 125px,#006fff 130px,#0067ff 135px,#0065ff 140px,#0061ff 145px,#005dff 150px,#0059ff 155px,#0056ff 160px,#0058ff 165px,#005bff 170px)"></i><i style="left:93px;top:407px;width:171px;height:1px;background:linear-gradient(90deg,#006fff 0px,#0066ff 5px,#005dff 10px,#0056ff 15px,#0054ff 20px,#005bff 25px,#0065ff 30px,#0074ff 35px,#008cff 40px,#00a9fd 45px,#00bbfc 50px,#00b3fd 55px,#009efe 60px,#008fff 65px,#008aff 70px,#008aff 75px,#0090ff 80px,#00a3fe 85px,#00c5fb 90px,#00e4f8 95px,#0aeaf0 100px,#11ecea 105px,#0beaf0 110px,#00d6fa 115px,#00adfd 120px,#0086ff 125px,#006eff 130px,#0061ff 135px,#005aff 140px,#0066ff 145px,#0073ff 150px,#0080ff 155px,#008dff 160px,#007fff 165px,#0071ff 170px)"></i><i style="left:93px;top:408px;width:171px;height:1px;background:linear-gradient(90deg,#0063ff 0px,#005eff 5px,#0059ff 10px,#0056ff 15px,#0058ff 20px,#005cff 25px,#0064ff 30px,#006fff 35px,#0084ff 40px,#00a1fe 45px,#00b3fd 50px,#00adfd 55px,#0098ff 60px,#008bff 65px,#0087ff 70px,#0087ff 75px,#008eff 80px,#00a2fe 85px,#00c7fb 90px,#00e8f8 95px,#11ecea 100px,#17ede5 105px,#0febec 110px,#00d8f9 115px,#00abfd 120px,#0087ff 125px,#0072ff 130px,#0068ff 135px,#0065ff 140px,#0065ff 145px,#0067ff 150px,#0069ff 155px,#006bff 160px,#006bff 165px,#006aff 170px)"></i><i style="left:93px;top:409px;width:171px;height:1px;background:linear-gradient(90deg,#0069ff 0px,#0064ff 5px,#005dff 10px,#0059ff 15px,#0059ff 20px,#005bff 25px,#0060ff 30px,#0069ff 35px,#007cff 40px,#009aff 45px,#00affd 50px,#00acfd 55px,#009bff 60px,#008aff 65px,#0082ff 70px,#007eff 75px,#0081ff 80px,#0096ff 85px,#00bdfc 90px,#00dff9 95px,#0beaf0 100px,#11ecea 105px,#0beaef 110px,#00d5fa 115px,#00a9fd 120px,#0086ff 125px,#0073ff 130px,#006bff 135px,#006aff 140px,#0068ff 145px,#0068ff 150px,#0067ff 155px,#0067ff 160px,#006bff 165px,#006fff 170px)"></i><i style="left:93px;top:410px;width:171px;height:1px;background:linear-gradient(90deg,#0066ff 0px,#005fff 5px,#0056ff 10px,#0050ff 15px,#004eff 20px,#0055ff 25px,#005eff 30px,#006bff 35px,#0082ff 40px,#00a1fe 45px,#00b7fc 50px,#00b6fc 55px,#00a6fe 60px,#0093ff 65px,#0089ff 70px,#0083ff 75px,#0082ff 80px,#0096ff 85px,#00bbfc 90px,#00dbf9 95px,#03e9f5 100px,#11eceb 105px,#15ede7 110px,#03e9f5 115px,#00ccfa 120px,#00a6fe 125px,#008eff 130px,#0082ff 135px,#007dff 140px,#0079ff 145px,#0076ff 150px,#0073ff 155px,#0071ff 160px,#0070ff 165px,#006fff 170px)"></i><i style="left:93px;top:411px;width:171px;height:1px;background:linear-gradient(90deg,#006eff 0px,#0068ff 5px,#0061ff 10px,#005cff 15px,#005bff 20px,#005cff 25px,#005eff 30px,#0065ff 35px,#0075ff 40px,#0093ff 45px,#00a9fd 50px,#00a9fd 55px,#009aff 60px,#008bff 65px,#0085ff 70px,#0082ff 75px,#0085ff 80px,#0098ff 85px,#00bbfc 90px,#00daf9 95px,#00e8f8 100px,#06e9f3 105px,#03e9f6 110px,#00cffa 115px,#00a4fe 120px,#0089ff 125px,#007eff 130px,#007fff 135px,#0087ff 140px,#007bff 145px,#0070ff 150px,#0065ff 155px,#005bff 160px,#0064ff 165px,#006dff 170px)"></i><i style="left:93px;top:412px;width:171px;height:1px;background:linear-gradient(90deg,#0065ff 0px,#0061ff 5px,#005cff 10px,#0058ff 15px,#0059ff 20px,#005cff 25px,#0062ff 30px,#006dff 35px,#0080ff 40px,#009aff 45px,#00acfd 50px,#00a8fd 55px,#0095ff 60px,#0088ff 65px,#0082ff 70px,#007fff 75px,#0083ff 80px,#0098ff 85px,#00bdfc 90px,#00def9 95px,#07eaf2 100px,#0febec 105px,#0febec 110px,#00e0f9 115px,#00b7fc 120px,#0091ff 125px,#007aff 130px,#006eff 135px,#0068ff 140px,#0062ff 145px,#005eff 150px,#005aff 155px,#0056ff 160px,#0055ff 165px,#0055ff 170px)"></i><i style="left:93px;top:413px;width:171px;height:1px;background:linear-gradient(90deg,#006eff 0px,#0067ff 5px,#0060ff 10px,#005bff 15px,#0059ff 20px,#005bff 25px,#0060ff 30px,#0069ff 35px,#007cff 40px,#0096ff 45px,#00aafd 50px,#00a8fd 55px,#0097ff 60px,#008bff 65px,#0085ff 70px,#0083ff 75px,#0087ff 80px,#009bff 85px,#00bffc 90px,#00ddf9 95px,#03e9f5 100px,#0beaf0 105px,#0beaef 110px,#00dcf9 115px,#00b4fc 120px,#008bff 125px,#0071ff 130px,#0062ff 135px,#005aff 140px,#005dff 145px,#0061ff 150px,#0066ff 155px,#006bff 160px,#006aff 165px,#0068ff 170px)"></i><i style="left:93px;top:414px;width:171px;height:1px;background:linear-gradient(90deg,#005fff 0px,#0059ff 5px,#0051ff 10px,#004bff 15px,#0048ff 20px,#004dff 25px,#0053ff 30px,#005dff 35px,#0070ff 40px,#008dff 45px,#00a4fe 50px,#00a7fe 55px,#009aff 60px,#008bff 65px,#0082ff 70px,#007eff 75px,#007fff 80px,#0093ff 85px,#00b7fc 90px,#00d5fa 95px,#00e2f8 100px,#00e7f8 105px,#00e4f8 110px,#00ccfa 115px,#00a1fe 120px,#0080ff 125px,#006cff 130px,#0065ff 135px,#0064ff 140px,#0061ff 145px,#0060ff 150px,#0060ff 155px,#005fff 160px,#0067ff 165px,#0070ff 170px)"></i><i style="left:93px;top:415px;width:171px;height:1px;background:linear-gradient(90deg,#0066ff 0px,#0063ff 5px,#005fff 10px,#005cff 15px,#005cff 20px,#005eff 25px,#0062ff 30px,#006aff 35px,#007cff 40px,#0093ff 45px,#00a5fe 50px,#00a3fe 55px,#0091ff 60px,#0088ff 65px,#0084ff 70px,#0085ff 75px,#008bff 80px,#009aff 85px,#00b8fc 90px,#00cffa 95px,#00d2fa 100px,#00d6f9 105px,#00d6fa 110px,#00c0fb 115px,#0099ff 120px,#0076ff 125px,#0060ff 130px,#0056ff 135px,#0052ff 140px,#0059ff 145px,#0061ff 150px,#006aff 155px,#0073ff 160px,#006eff 165px,#0068ff 170px)"></i><i style="left:93px;top:416px;width:171px;height:1px;background:linear-gradient(90deg,#0068ff 0px,#0063ff 5px,#005cff 10px,#0057ff 15px,#0055ff 20px,#0057ff 25px,#005aff 30px,#0061ff 35px,#0073ff 40px,#008fff 45px,#00a8fd 50px,#00aefd 55px,#00a3fe 60px,#0095ff 65px,#008dff 70px,#0089ff 75px,#008bff 80px,#009aff 85px,#00b8fc 90px,#00cefa 95px,#00d0fa 100px,#00d6fa 105px,#00d9f9 110px,#00c8fb 115px,#00a6fe 120px,#0082ff 125px,#006aff 130px,#005dff 135px,#0057ff 140px,#0058ff 145px,#005bff 150px,#005fff 155px,#0062ff 160px,#0063ff 165px,#0063ff 170px)"></i><i style="left:93px;top:417px;width:171px;height:1px;background:linear-gradient(90deg,#0061ff 0px,#005cff 5px,#0056ff 10px,#0051ff 15px,#004fff 20px,#0051ff 25px,#0054ff 30px,#005cff 35px,#006dff 40px,#0088ff 45px,#009ffe 50px,#00a3fe 55px,#0097ff 60px,#008cff 65px,#0086ff 70px,#0084ff 75px,#0088ff 80px,#009aff 85px,#00bafc 90px,#00d3fa 95px,#00d8f9 100px,#00d9f9 105px,#00d6fa 110px,#00befc 115px,#0094ff 120px,#0072ff 125px,#005cff 130px,#0051ff 135px,#004eff 140px,#0052ff 145px,#0059ff 150px,#0060ff 155px,#0068ff 160px,#006aff 165px,#006cff 170px)"></i><i style="left:93px;top:418px;width:171px;height:1px;background:linear-gradient(90deg,#006eff 0px,#0064ff 5px,#005aff 10px,#0051ff 15px,#0049ff 20px,#004bff 25px,#004eff 30px,#0055ff 35px,#0066ff 40px,#0082ff 45px,#009aff 50px,#00a1fe 55px,#0097ff 60px,#0089ff 65px,#007fff 70px,#0079ff 75px,#007aff 80px,#0090ff 85px,#00b5fc 90px,#00d2fa 95px,#00dcf9 100px,#00dcf9 105px,#00daf9 110px,#00c3fb 115px,#009bff 120px,#007cff 125px,#006aff 130px,#0062ff 135px,#0061ff 140px,#005fff 145px,#005eff 150px,#005fff 155px,#005fff 160px,#0064ff 165px,#0069ff 170px)"></i><i style="left:93px;top:419px;width:171px;height:1px;background:linear-gradient(90deg,#0069ff 0px,#0063ff 5px,#005bff 10px,#0053ff 15px,#004eff 20px,#004cff 25px,#004bff 30px,#004eff 35px,#005cff 40px,#0078ff 45px,#0091ff 50px,#009aff 55px,#0092ff 60px,#0087ff 65px,#0082ff 70px,#0080ff 75px,#0084ff 80px,#0095ff 85px,#00b4fc 90px,#00c9fb 95px,#00c9fb 100px,#00cafb 105px,#00cafb 110px,#00b8fc 115px,#0096ff 120px,#007aff 125px,#006aff 130px,#0064ff 135px,#0065ff 140px,#0065ff 145px,#0066ff 150px,#0068ff 155px,#006bff 160px,#0068ff 165px,#0065ff 170px)"></i><i style="left:93px;top:420px;width:171px;height:1px;background:linear-gradient(90deg,#0065ff 0px,#0062ff 5px,#005dff 10px,#0059ff 15px,#0056ff 20px,#0054ff 25px,#0053ff 30px,#0056ff 35px,#0063ff 40px,#007cff 45px,#0095ff 50px,#009dfe 55px,#0094ff 60px,#0088ff 65px,#0080ff 70px,#007cff 75px,#007fff 80px,#0091ff 85px,#00b2fd 90px,#00c8fb 95px,#00cafb 100px,#00c9fb 105px,#00c9fb 110px,#00b6fc 115px,#0094ff 120px,#0075ff 125px,#0060ff 130px,#0055ff 135px,#0051ff 140px,#0051ff 145px,#0052ff 150px,#0055ff 155px,#0058ff 160px,#005fff 165px,#0065ff 170px)"></i><i style="left:93px;top:421px;width:171px;height:1px;background:linear-gradient(90deg,#006fff 0px,#006dff 5px,#0069ff 10px,#0066ff 15px,#0064ff 20px,#005dff 25px,#0056ff 30px,#0054ff 35px,#005cff 40px,#0074ff 45px,#008cff 50px,#0094ff 55px,#008cff 60px,#0083ff 65px,#007fff 70px,#007eff 75px,#0084ff 80px,#0095ff 85px,#00b2fd 90px,#00c4fb 95px,#00c1fb 100px,#00c0fb 105px,#00c0fb 110px,#00b0fd 115px,#0091ff 120px,#006fff 125px,#0057ff 130px,#0048ff 135px,#0040ff 140px,#0047ff 145px,#0051ff 150px,#005dff 155px,#0068ff 160px,#0065ff 165px,#0060ff 170px)"></i><i style="left:93px;top:422px;width:171px;height:1px;background:linear-gradient(90deg,#0062ff 0px,#0060ff 5px,#005dff 10px,#005aff 15px,#0058ff 20px,#0055ff 25px,#0053ff 30px,#0055ff 35px,#0062ff 40px,#0077ff 45px,#008cff 50px,#0092ff 55px,#0089ff 60px,#0080ff 65px,#007aff 70px,#0078ff 75px,#007dff 80px,#0093ff 85px,#00b6fc 90px,#00cefa 95px,#00d2fa 100px,#00c9fb 105px,#00bffb 110px,#00a4fe 115px,#007aff 120px,#0062ff 125px,#0053ff 130px,#004fff 135px,#0051ff 140px,#004bff 145px,#0047ff 150px,#0044ff 155px,#0042ff 160px,#004fff 165px,#005bff 170px)"></i><i style="left:93px;top:423px;width:171px;height:1px;background:linear-gradient(90deg,#0061ff 0px,#005dff 5px,#0059ff 10px,#0054ff 15px,#0050ff 20px,#004fff 25px,#004eff 30px,#0052ff 35px,#0060ff 40px,#0076ff 45px,#008dff 50px,#0096ff 55px,#0090ff 60px,#0083ff 65px,#007bff 70px,#0075ff 75px,#0076ff 80px,#008cff 85px,#00aefd 90px,#00c4fb 95px,#00c4fb 100px,#00bcfc 105px,#00b5fc 110px,#009ffe 115px,#007cff 120px,#0060ff 125px,#004dff 130px,#0044ff 135px,#0041ff 140px,#0047ff 145px,#004fff 150px,#0059ff 155px,#0063ff 160px,#0066ff 165px,#0068ff 170px)"></i><i style="left:93px;top:424px;width:171px;height:1px;background:linear-gradient(90deg,#006dff 0px,#0068ff 5px,#0061ff 10px,#005aff 15px,#0053ff 20px,#0050ff 25px,#004cff 30px,#004dff 35px,#0058ff 40px,#006fff 45px,#0086ff 50px,#0091ff 55px,#008cff 60px,#0081ff 65px,#0078ff 70px,#0073ff 75px,#0074ff 80px,#008aff 85px,#00acfd 90px,#00c2fb 95px,#00c2fb 100px,#00bcfc 105px,#00bafc 110px,#00aafd 115px,#008fff 120px,#006dff 125px,#0054ff 130px,#0042ff 135px,#0036ff 140px,#003cff 145px,#0044ff 150px,#004eff 155px,#0058ff 160px,#0062ff 165px,#006aff 170px)"></i><i style="left:93px;top:425px;width:171px;height:1px;background:linear-gradient(90deg,#0065ff 0px,#0062ff 5px,#005eff 10px,#005aff 15px,#0055ff 20px,#0050ff 25px,#004aff 30px,#0047ff 35px,#0050ff 40px,#0065ff 45px,#007cff 50px,#0086ff 55px,#0082ff 60px,#007dff 65px,#0079ff 70px,#0078ff 75px,#007eff 80px,#0093ff 85px,#00b6fc 90px,#00cafb 95px,#00c9fb 100px,#00bcfc 105px,#00affd 110px,#0094ff 115px,#006dff 120px,#0057ff 125px,#004aff 130px,#0045ff 135px,#0047ff 140px,#0046ff 145px,#0047ff 150px,#004bff 155px,#004eff 160px,#005cff 165px,#0069ff 170px)"></i><i style="left:93px;top:426px;width:171px;height:1px;background:linear-gradient(90deg,#006cff 0px,#0069ff 5px,#0064ff 10px,#005fff 15px,#0059ff 20px,#0051ff 25px,#0049ff 30px,#0044ff 35px,#004aff 40px,#0060ff 45px,#0079ff 50px,#0087ff 55px,#0086ff 60px,#0081ff 65px,#007cff 70px,#007aff 75px,#007eff 80px,#0093ff 85px,#00b4fc 90px,#00c8fb 95px,#00c4fb 100px,#00b9fc 105px,#00b1fd 110px,#009dfe 115px,#007eff 120px,#0068ff 125px,#005bff 130px,#0055ff 135px,#0056ff 140px,#0058ff 145px,#005dff 150px,#0063ff 155px,#006aff 160px,#006cff 165px,#006dff 170px)"></i><i style="left:93px;top:427px;width:171px;height:1px;background:linear-gradient(90deg,#0067ff 0px,#0067ff 5px,#0065ff 10px,#0063ff 15px,#0060ff 20px,#0059ff 25px,#0051ff 30px,#004cff 35px,#0053ff 40px,#0067ff 45px,#007fff 50px,#008dff 55px,#008dff 60px,#0086ff 65px,#007fff 70px,#007aff 75px,#007bff 80px,#008eff 85px,#00acfd 90px,#00bbfc 95px,#00b3fd 100px,#00aafd 105px,#00a5fe 110px,#0097ff 115px,#0080ff 120px,#0065ff 125px,#0052ff 130px,#0046ff 135px,#0040ff 140px,#003eff 145px,#0040ff 150px,#0043ff 155px,#0046ff 160px,#004cff 165px,#0050ff 170px)"></i><i style="left:93px;top:428px;width:171px;height:1px;background:linear-gradient(90deg,#006cff 0px,#0069ff 5px,#0065ff 10px,#0060ff 15px,#005aff 20px,#0054ff 25px,#004dff 30px,#004aff 35px,#0052ff 40px,#0061ff 45px,#0075ff 50px,#0081ff 55px,#007fff 60px,#007bff 65px,#0076ff 70px,#0073ff 75px,#0075ff 80px,#008aff 85px,#00aafd 90px,#00bbfc 95px,#00b4fc 100px,#00a9fd 105px,#00a3fe 110px,#0094ff 115px,#007eff 120px,#0061ff 125px,#004cff 130px,#003dff 135px,#0035ff 140px,#003bff 145px,#0045ff 150px,#0051ff 155px,#005cff 160px,#0063ff 165px,#0068ff 170px)"></i><i style="left:93px;top:429px;width:171px;height:1px;background:linear-gradient(90deg,#0063ff 0px,#0062ff 5px,#005fff 10px,#005bff 15px,#0056ff 20px,#004eff 25px,#0045ff 30px,#0040ff 35px,#0046ff 40px,#005bff 45px,#0074ff 50px,#0087ff 55px,#008dff 60px,#0089ff 65px,#0084ff 70px,#007fff 75px,#0080ff 80px,#0090ff 85px,#00acfd 90px,#00b8fc 95px,#00abfd 100px,#009bff 105px,#0090ff 110px,#007dff 115px,#0063ff 120px,#004dff 125px,#003fff 130px,#0039ff 135px,#0038ff 140px,#003eff 145px,#0048ff 150px,#0054ff 155px,#005fff 160px,#0061ff 165px,#0061ff 170px)"></i><i style="left:93px;top:430px;width:171px;height:1px;background:linear-gradient(90deg,#006bff 0px,#0068ff 5px,#0064ff 10px,#0060ff 15px,#0059ff 20px,#0053ff 25px,#004cff 30px,#0048ff 35px,#0050ff 40px,#0060ff 45px,#0077ff 50px,#0088ff 55px,#008dff 60px,#008dff 65px,#0089ff 70px,#0085ff 75px,#0087ff 80px,#009bff 85px,#00bafc 90px,#00cafb 95px,#00c2fb 100px,#00acfd 105px,#0098ff 110px,#007cff 115px,#0056ff 120px,#003fff 125px,#002fff 130px,#0026ff 135px,#0024ff 140px,#002aff 145px,#0034ff 150px,#0040ff 155px,#004cff 160px,#0056ff 165px,#005fff 170px)"></i><i style="left:93px;top:431px;width:171px;height:1px;background:linear-gradient(90deg,#006cff 0px,#0068ff 5px,#0063ff 10px,#005dff 15px,#0055ff 20px,#004bff 25px,#003fff 30px,#0037ff 35px,#003aff 40px,#004fff 45px,#006bff 50px,#0082ff 55px,#008fff 60px,#008fff 65px,#008aff 70px,#0085ff 75px,#0085ff 80px,#0094ff 85px,#00aefd 90px,#00b9fc 95px,#00a9fd 100px,#0097ff 105px,#0089ff 110px,#0076ff 115px,#005bff 120px,#004bff 125px,#0042ff 130px,#0041ff 135px,#0046ff 140px,#0045ff 145px,#0048ff 150px,#004dff 155px,#0052ff 160px,#005bff 165px,#0062ff 170px)"></i><i style="left:93px;top:432px;width:171px;height:1px;background:linear-gradient(90deg,#0064ff 0px,#0062ff 5px,#0060ff 10px,#005cff 15px,#0056ff 20px,#004cff 25px,#0041ff 30px,#0039ff 35px,#003dff 40px,#0050ff 45px,#006bff 50px,#0082ff 55px,#008fff 60px,#0091ff 65px,#008dff 70px,#0086ff 75px,#0085ff 80px,#0096ff 85px,#00b4fc 90px,#00c1fb 95px,#00b5fc 100px,#00a0fe 105px,#0090ff 110px,#0079ff 115px,#005cff 120px,#004aff 125px,#003fff 130px,#003cff 135px,#003eff 140px,#0040ff 145px,#0047ff 150px,#004fff 155px,#0057ff 160px,#0061ff 165px,#0068ff 170px)"></i><i style="left:93px;top:433px;width:171px;height:1px;background:linear-gradient(90deg,#006cff 0px,#006aff 5px,#0066ff 10px,#0061ff 15px,#005aff 20px,#0050ff 25px,#0043ff 30px,#003aff 35px,#003dff 40px,#004fff 45px,#006aff 50px,#0082ff 55px,#0091ff 60px,#0096ff 65px,#0093ff 70px,#008cff 75px,#008aff 80px,#0097ff 85px,#00b0fd 90px,#00b8fc 95px,#00a5fe 100px,#009aff 105px,#0097ff 110px,#0092ff 115px,#008aff 120px,#006eff 125px,#0056ff 130px,#0044ff 135px,#0036ff 140px,#003bff 145px,#0045ff 150px,#0050ff 155px,#005bff 160px,#005dff 165px,#005dff 170px)"></i><i style="left:93px;top:434px;width:171px;height:1px;background:linear-gradient(90deg,#005bff 0px,#005cff 5px,#005dff 10px,#005cff 15px,#0058ff 20px,#004dff 25px,#0040ff 30px,#0037ff 35px,#003aff 40px,#004dff 45px,#0069ff 50px,#0085ff 55px,#0098ff 60px,#009ffe 65px,#009cfe 70px,#0095ff 75px,#0093ff 80px,#00a2fe 85px,#00befc 90px,#00c9fb 95px,#00bbfc 100px,#00a5fe 105px,#0094ff 110px,#007fff 115px,#0064ff 120px,#004dff 125px,#003bff 130px,#002fff 135px,#0028ff 140px,#002dff 145px,#0037ff 150px,#0042ff 155px,#004dff 160px,#0058ff 165px,#0062ff 170px)"></i><i style="left:93px;top:435px;width:171px;height:1px;background:linear-gradient(90deg,#005aff 0px,#005aff 5px,#0059ff 10px,#0057ff 15px,#0052ff 20px,#0049ff 25px,#003eff 30px,#0036ff 35px,#003aff 40px,#004dff 45px,#006aff 50px,#0087ff 55px,#009cff 60px,#00a5fe 65px,#00a3fe 70px,#009bff 75px,#0098ff 80px,#00a6fe 85px,#00c1fb 90px,#00cbfa 95px,#00bcfc 100px,#00a6fe 105px,#0096ff 110px,#0082ff 115px,#006aff 120px,#0059ff 125px,#0050ff 130px,#004bff 135px,#004cff 140px,#0048ff 145px,#0048ff 150px,#0049ff 155px,#004bff 160px,#0051ff 165px,#0056ff 170px)"></i><i style="left:93px;top:436px;width:171px;height:1px;background:linear-gradient(90deg,#0064ff 0px,#0064ff 5px,#0064ff 10px,#0062ff 15px,#005dff 20px,#0052ff 25px,#0046ff 30px,#003cff 35px,#003eff 40px,#0053ff 45px,#0073ff 50px,#0093ff 55px,#00aefd 60px,#00b5fc 65px,#00aefd 70px,#00a0fe 75px,#0097ff 80px,#00a1fe 85px,#00b8fc 90px,#00bffb 95px,#00aafd 100px,#0095ff 105px,#0089ff 110px,#007aff 115px,#0068ff 120px,#004dff 125px,#0037ff 130px,#0026ff 135px,#021ff4 140px,#0028ff 145px,#0039ff 150px,#004cff 155px,#005fff 160px,#0065ff 165px,#0069ff 170px)"></i><i style="left:93px;top:437px;width:171px;height:1px;background:linear-gradient(90deg,#006bff 0px,#0069ff 5px,#0066ff 10px,#0062ff 15px,#005bff 20px,#0053ff 25px,#0048ff 30px,#0042ff 35px,#0046ff 40px,#0056ff 45px,#0071ff 50px,#008eff 55px,#00a6fe 60px,#00b1fd 65px,#00adfd 70px,#00a1fe 75px,#0099ff 80px,#00a5fe 85px,#00befc 90px,#00c6fb 95px,#00b2fd 100px,#009aff 105px,#0089ff 110px,#0076ff 115px,#005fff 120px,#0049ff 125px,#0039ff 130px,#002eff 135px,#0029ff 140px,#0033ff 145px,#0041ff 150px,#0051ff 155px,#0060ff 160px,#0068ff 165px,#006eff 170px)"></i><i style="left:93px;top:438px;width:171px;height:1px;background:linear-gradient(90deg,#0065ff 0px,#0063ff 5px,#0060ff 10px,#005bff 15px,#0054ff 20px,#004bff 25px,#0040ff 30px,#0039ff 35px,#003dff 40px,#004fff 45px,#006cff 50px,#008dff 55px,#00a8fd 60px,#00b6fc 65px,#00b4fc 70px,#00a8fd 75px,#00a1fe 80px,#00acfd 85px,#00c6fb 90px,#00cefa 95px,#00b9fc 100px,#00a2fe 105px,#0094ff 110px,#0085ff 115px,#0073ff 120px,#005aff 125px,#0046ff 130px,#0036ff 135px,#002bff 140px,#002fff 145px,#0036ff 150px,#003fff 155px,#0048ff 160px,#004eff 165px,#0052ff 170px)"></i><i style="left:93px;top:439px;width:171px;height:1px;background:linear-gradient(90deg,#006cff 0px,#0069ff 5px,#0064ff 10px,#005eff 15px,#0056ff 20px,#004eff 25px,#0043ff 30px,#003dff 35px,#0041ff 40px,#0052ff 45px,#006eff 50px,#008fff 55px,#00abfd 60px,#00b8fc 65px,#00b5fc 70px,#00a7fe 75px,#009cfe 80px,#00a7fe 85px,#00c2fb 90px,#00cbfa 95px,#00b1fd 100px,#0099ff 105px,#008bff 110px,#007bff 115px,#006aff 120px,#0056ff 125px,#0046ff 130px,#003bff 135px,#0034ff 140px,#0032ff 145px,#0033ff 150px,#0037ff 155px,#003aff 160px,#0044ff 165px,#004cff 170px)"></i><i style="left:93px;top:440px;width:171px;height:1px;background:linear-gradient(90deg,#0073ff 0px,#006dff 5px,#0067ff 10px,#005fff 15px,#0055ff 20px,#0051ff 25px,#004cff 30px,#004aff 35px,#0053ff 40px,#0062ff 45px,#007dff 50px,#009efe 55px,#00bafc 60px,#00cafb 65px,#00c7fb 70px,#00bafc 75px,#00b0fd 80px,#00b8fc 85px,#00d6fa 90px,#00def9 95px,#00bdfc 100px,#009cff 105px,#0081ff 110px,#0063ff 115px,#0041ff 120px,#0037ff 125px,#0034ff 130px,#0037ff 135px,#003eff 140px,#0041ff 145px,#0048ff 150px,#0050ff 155px,#0058ff 160px,#0060ff 165px,#0066ff 170px)"></i><i style="left:93px;top:441px;width:171px;height:1px;background:linear-gradient(90deg,#0068ff 0px,#0066ff 5px,#0063ff 10px,#005fff 15px,#0058ff 20px,#0051ff 25px,#0048ff 30px,#0042ff 35px,#0047ff 40px,#0059ff 45px,#0076ff 50px,#0099ff 55px,#00b8fc 60px,#00c8fb 65px,#00c6fb 70px,#00b8fc 75px,#00aefd 80px,#00b5fc 85px,#00d7f9 90px,#00e0f9 95px,#00b5fc 100px,#0098ff 105px,#0087ff 110px,#0075ff 115px,#0061ff 120px,#0046ff 125px,#0030ff 130px,#0121f9 135px,#041ae8 140px,#0121fa 145px,#0031ff 150px,#0045ff 155px,#0058ff 160px,#0062ff 165px,#006aff 170px)"></i><i style="left:93px;top:442px;width:171px;height:1px;background:linear-gradient(90deg,#0068ff 0px,#0068ff 5px,#0067ff 10px,#0065ff 15px,#0061ff 20px,#0057ff 25px,#004bff 30px,#0043ff 35px,#0045ff 40px,#0057ff 45px,#0074ff 50px,#0097ff 55px,#00b7fc 60px,#00cbfb 65px,#00cbfa 70px,#00c0fb 75px,#00b9fc 80px,#00c1fb 85px,#04e9f5 90px,#13ece9 95px,#00c8fb 100px,#00a4fe 105px,#0089ff 110px,#006dff 115px,#004dff 120px,#003fff 125px,#0038ff 130px,#0035ff 135px,#0038ff 140px,#003dff 145px,#0046ff 150px,#0050ff 155px,#005bff 160px,#0063ff 165px,#0069ff 170px)"></i><i style="left:93px;top:443px;width:171px;height:1px;background:linear-gradient(90deg,#0065ff 0px,#0066ff 5px,#0067ff 10px,#0065ff 15px,#0062ff 20px,#005aff 25px,#0052ff 30px,#004cff 35px,#0050ff 40px,#005eff 45px,#0078ff 50px,#0097ff 55px,#00b3fc 60px,#00c5fb 65px,#00c4fb 70px,#00b7fc 75px,#00aefd 80px,#00b7fc 85px,#02e8f7 90px,#13ece9 95px,#00bafc 100px,#009dfe 105px,#008eff 110px,#0080ff 115px,#0072ff 120px,#0061ff 125px,#0056ff 130px,#004eff 135px,#004aff 140px,#004cff 145px,#0051ff 150px,#0057ff 155px,#005eff 160px,#0069ff 165px,#0073ff 170px)"></i><i style="left:93px;top:444px;width:171px;height:1px;background:linear-gradient(90deg,#0069ff 0px,#006bff 5px,#006cff 10px,#006bff 15px,#0068ff 20px,#0060ff 25px,#0057ff 30px,#0052ff 35px,#0055ff 40px,#0065ff 45px,#0081ff 50px,#00a2fe 55px,#00c1fb 60px,#00d2fa 65px,#00d1fa 70px,#00c5fb 75px,#00bcfc 80px,#00c3fb 85px,#16ede6 90px,#2af1d6 95px,#00c1fb 100px,#009bff 105px,#0082ff 110px,#0068ff 115px,#004dff 120px,#0041ff 125px,#003dff 130px,#003dff 135px,#0041ff 140px,#0045ff 145px,#004cff 150px,#0054ff 155px,#005dff 160px,#0061ff 165px,#0065ff 170px)"></i><i style="left:93px;top:445px;width:171px;height:1px;background:linear-gradient(90deg,#006bff 0px,#006dff 5px,#006eff 10px,#006eff 15px,#006bff 20px,#0062ff 25px,#0058ff 30px,#0050ff 35px,#0052ff 40px,#0062ff 45px,#007dff 50px,#009efe 55px,#00bcfc 60px,#00ccfa 65px,#00ccfa 70px,#00c0fb 75px,#00b8fc 80px,#00c3fb 85px,#21efde 90px,#3ef5c6 95px,#00cbfb 100px,#00a6fe 105px,#008fff 110px,#0079ff 115px,#0061ff 120px,#0059ff 125px,#0057ff 130px,#0058ff 135px,#005eff 140px,#005aff 145px,#005aff 150px,#005bff 155px,#005bff 160px,#0059ff 165px,#0056ff 170px)"></i><i style="left:93px;top:446px;width:171px;height:1px;background:linear-gradient(90deg,#006bff 0px,#006cff 5px,#006cff 10px,#006bff 15px,#0068ff 20px,#005eff 25px,#0053ff 30px,#004bff 35px,#004bff 40px,#005cff 45px,#0077ff 50px,#0098ff 55px,#00b7fc 60px,#00c4fb 65px,#00c2fb 70px,#00b5fc 75px,#00abfd 80px,#00bbfc 85px,#24f0db 90px,#4df5b5 95px,#00d2fa 100px,#00b0fd 105px,#009efe 110px,#008dff 115px,#007bff 120px,#006aff 125px,#005cff 130px,#0052ff 135px,#004bff 140px,#0044ff 145px,#003fff 150px,#003cff 155px,#003aff 160px,#0048ff 165px,#0054ff 170px)"></i><i style="left:93px;top:447px;width:171px;height:1px;background:linear-gradient(90deg,#0069ff 0px,#0069ff 5px,#0069ff 10px,#0067ff 15px,#0064ff 20px,#005dff 25px,#0054ff 30px,#004fff 35px,#0051ff 40px,#0060ff 45px,#0079ff 50px,#0097ff 55px,#00b2fd 60px,#00c1fb 65px,#00c1fb 70px,#00b7fc 75px,#00b1fd 80px,#00bafc 85px,#20efde 90px,#45f5be 95px,#00b9fc 100px,#0098ff 105px,#008aff 110px,#007eff 115px,#0073ff 120px,#0067ff 125px,#005eff 130px,#0058ff 135px,#0056ff 140px,#0055ff 145px,#0056ff 150px,#0059ff 155px,#005cff 160px,#005eff 165px,#005fff 170px)"></i><i style="left:93px;top:448px;width:171px;height:1px;background:linear-gradient(90deg,#0077ff 0px,#0076ff 5px,#0075ff 10px,#0074ff 15px,#0070ff 20px,#0068ff 25px,#005fff 30px,#0059ff 35px,#0059ff 40px,#0065ff 45px,#0079ff 50px,#0091ff 55px,#00a7fe 60px,#00b7fc 65px,#00b9fc 70px,#00b3fd 75px,#00b0fd 80px,#00b9fc 85px,#21efde 90px,#4af5b7 95px,#00b8fc 100px,#0093ff 105px,#0080ff 110px,#006fff 115px,#005dff 120px,#004dff 125px,#0041ff 130px,#0039ff 135px,#0034ff 140px,#003aff 145px,#0043ff 150px,#004dff 155px,#0056ff 160px,#005aff 165px,#005cff 170px)"></i><i style="left:93px;top:449px;width:171px;height:1px;background:linear-gradient(90deg,#006cff 0px,#006aff 5px,#0068ff 10px,#0064ff 15px,#0060ff 20px,#005bff 25px,#0055ff 30px,#0051ff 35px,#0055ff 40px,#0061ff 45px,#0075ff 50px,#008dff 55px,#00a3fe 60px,#00b0fd 65px,#00b1fd 70px,#00abfd 75px,#00a8fd 80px,#00b3fc 85px,#1eeee0 90px,#4ff5b2 95px,#00bcfc 100px,#009bff 105px,#008eff 110px,#0083ff 115px,#0079ff 120px,#0066ff 125px,#0056ff 130px,#0048ff 135px,#003dff 140px,#0044ff 145px,#004eff 150px,#0058ff 155px,#0063ff 160px,#0066ff 165px,#0068ff 170px)"></i><i style="left:93px;top:450px;width:171px;height:1px;background:linear-gradient(90deg,#0069ff 0px,#0068ff 5px,#0066ff 10px,#0064ff 15px,#0060ff 20px,#005dff 25px,#0059ff 30px,#0058ff 35px,#005dff 40px,#0069ff 45px,#007bff 50px,#0091ff 55px,#00a5fe 60px,#00aefd 65px,#00adfd 70px,#00a5fe 75px,#00a0fe 80px,#00aefd 85px,#1aeee3 90px,#53f5ae 95px,#00c2fb 100px,#00a3fe 105px,#0099ff 110px,#0092ff 115px,#008bff 120px,#0079ff 125px,#0069ff 130px,#005aff 135px,#004eff 140px,#0054ff 145px,#005bff 150px,#0063ff 155px,#006bff 160px,#0062ff 165px,#0059ff 170px)"></i><i style="left:93px;top:451px;width:171px;height:1px;background:linear-gradient(90deg,#0065ff 0px,#0066ff 5px,#0068ff 10px,#0068ff 15px,#0067ff 20px,#0062ff 25px,#005cff 30px,#0058ff 35px,#0059ff 40px,#0064ff 45px,#0075ff 50px,#0089ff 55px,#009aff 60px,#00a6fe 65px,#00aafd 70px,#00a7fe 75px,#00a7fe 80px,#00b3fd 85px,#19eee4 90px,#52f5af 95px,#00bffc 100px,#009dfe 105px,#008fff 110px,#0083ff 115px,#0077ff 120px,#0069ff 125px,#005eff 130px,#0055ff 135px,#004eff 140px,#0051ff 145px,#0055ff 150px,#005aff 155px,#005fff 160px,#0063ff 165px,#0066ff 170px)"></i><i style="left:93px;top:452px;width:171px;height:1px;background:linear-gradient(90deg,#0065ff 0px,#0066ff 5px,#0067ff 10px,#0067ff 15px,#0066ff 20px,#0062ff 25px,#005eff 30px,#005cff 35px,#005fff 40px,#0067ff 45px,#0074ff 50px,#0084ff 55px,#0092ff 60px,#009aff 65px,#009bff 70px,#0097ff 75px,#0095ff 80px,#00a4fe 85px,#0aeaf0 90px,#47f5bb 95px,#00bcfc 100px,#0097ff 105px,#0087ff 110px,#0076ff 115px,#0065ff 120px,#0063ff 125px,#0066ff 130px,#006bff 135px,#0073ff 140px,#006eff 145px,#006bff 150px,#0069ff 155px,#0067ff 160px,#006aff 165px,#006bff 170px)"></i><i style="left:93px;top:453px;width:171px;height:1px;background:linear-gradient(90deg,#006aff 0px,#0068ff 5px,#0066ff 10px,#0063ff 15px,#005fff 20px,#005dff 25px,#005bff 30px,#005aff 35px,#005eff 40px,#0063ff 45px,#006dff 50px,#0079ff 55px,#0083ff 60px,#008eff 65px,#0094ff 70px,#0095ff 75px,#0099ff 80px,#00a4fe 85px,#02e8f6 90px,#3bf5c9 95px,#00b0fd 100px,#0091ff 105px,#0086ff 110px,#007dff 115px,#0073ff 120px,#006aff 125px,#0063ff 130px,#005fff 135px,#005cff 140px,#0063ff 145px,#006cff 150px,#0075ff 155px,#007fff 160px,#007bff 165px,#0076ff 170px)"></i><i style="left:93px;top:454px;width:171px;height:1px;background:linear-gradient(90deg,#007bff 0px,#0076ff 5px,#0072ff 10px,#006cff 15px,#0066ff 20px,#0064ff 25px,#0061ff 30px,#0060ff 35px,#0063ff 40px,#0069ff 45px,#0073ff 50px,#007eff 55px,#0088ff 60px,#008fff 65px,#0091ff 70px,#0090ff 75px,#0091ff 80px,#009bff 85px,#00ddf9 90px,#2df2d4 95px,#00aafd 100px,#008bff 105px,#007eff 110px,#0072ff 115px,#0065ff 120px,#005fff 125px,#005cff 130px,#005cff 135px,#005dff 140px,#005dff 145px,#005eff 150px,#005fff 155px,#0061ff 160px,#0062ff 165px,#0062ff 170px)"></i><i style="left:93px;top:455px;width:171px;height:1px;background:linear-gradient(90deg,#0068ff 0px,#0065ff 5px,#0062ff 10px,#005eff 15px,#0059ff 20px,#005aff 25px,#005aff 30px,#005cff 35px,#0062ff 40px,#0064ff 45px,#0069ff 50px,#0070ff 55px,#0076ff 60px,#007fff 65px,#0084ff 70px,#0087ff 75px,#008cff 80px,#0096ff 85px,#00d0fa 90px,#1ceee1 95px,#00a3fe 100px,#0087ff 105px,#007bff 110px,#0070ff 115px,#0064ff 120px,#005fff 125px,#005dff 130px,#005dff 135px,#005fff 140px,#0066ff 145px,#006eff 150px,#0077ff 155px,#007fff 160px,#007bff 165px,#0076ff 170px)"></i><i style="left:93px;top:456px;width:171px;height:1px;background:linear-gradient(90deg,#006cff 0px,#006aff 5px,#0068ff 10px,#0066ff 15px,#0063ff 20px,#005eff 25px,#005aff 30px,#0057ff 35px,#0056ff 40px,#005dff 45px,#0067ff 50px,#0072ff 55px,#007cff 60px,#0083ff 65px,#0087ff 70px,#0089ff 75px,#008dff 80px,#0094ff 85px,#00c5fb 90px,#0aeaf0 95px,#009cff 100px,#0086ff 105px,#007fff 110px,#0079ff 115px,#0073ff 120px,#006dff 125px,#006bff 130px,#0069ff 135px,#0069ff 140px,#0060ff 145px,#0058ff 150px,#0050ff 155px,#0049ff 160px,#004cff 165px,#004eff 170px)"></i><i style="left:93px;top:457px;width:171px;height:1px;background:linear-gradient(90deg,#0062ff 0px,#0065ff 5px,#0067ff 10px,#0069ff 15px,#006aff 20px,#0066ff 25px,#0061ff 30px,#005dff 35px,#005cff 40px,#0061ff 45px,#0068ff 50px,#006fff 55px,#0076ff 60px,#007eff 65px,#0084ff 70px,#0088ff 75px,#008dff 80px,#0091ff 85px,#00b5fc 90px,#00d7f9 95px,#008cff 100px,#0077ff 105px,#006eff 110px,#0065ff 115px,#005bff 120px,#005dff 125px,#0062ff 130px,#0069ff 135px,#0072ff 140px,#006eff 145px,#006bff 150px,#0069ff 155px,#0066ff 160px,#0066ff 165px,#0066ff 170px)"></i><i style="left:93px;top:458px;width:171px;height:1px;background:linear-gradient(90deg,#0066ff 0px,#0066ff 5px,#0066ff 10px,#0066ff 15px,#0065ff 20px,#0063ff 25px,#0061ff 30px,#005fff 35px,#0060ff 40px,#0067ff 45px,#006fff 50px,#0078ff 55px,#0080ff 60px,#0082ff 65px,#0082ff 70px,#0081ff 75px,#0081ff 80px,#0085ff 85px,#00a3fe 90px,#00befc 95px,#0086ff 100px,#0074ff 105px,#006cff 110px,#0064ff 115px,#005cff 120px,#005bff 125px,#005eff 130px,#0062ff 135px,#0068ff 140px,#0062ff 145px,#005cff 150px,#0056ff 155px,#0051ff 160px,#0052ff 165px,#0053ff 170px)"></i><i style="left:93px;top:459px;width:171px;height:1px;background:linear-gradient(90deg,#0060ff 0px,#0063ff 5px,#0065ff 10px,#0067ff 15px,#0069ff 20px,#0069ff 25px,#006aff 30px,#006bff 35px,#006fff 40px,#0072ff 45px,#0077ff 50px,#007dff 55px,#0081ff 60px,#0082ff 65px,#0082ff 70px,#0080ff 75px,#007fff 80px,#0086ff 85px,#00a0fe 90px,#00b8fc 95px,#0095ff 100px,#0087ff 105px,#0080ff 110px,#0078ff 115px,#006eff 120px,#0069ff 125px,#0066ff 130px,#0064ff 135px,#0063ff 140px,#0066ff 145px,#0069ff 150px,#006cff 155px,#0070ff 160px,#006eff 165px,#006dff 170px)"></i><i style="left:93px;top:460px;width:171px;height:1px;background:linear-gradient(90deg,#0069ff 0px,#0069ff 5px,#0068ff 10px,#0067ff 15px,#0066ff 20px,#0065ff 25px,#0065ff 30px,#0064ff 35px,#0066ff 40px,#006aff 45px,#006fff 50px,#0075ff 55px,#007aff 60px,#007aff 65px,#0078ff 70px,#0076ff 75px,#0074ff 80px,#0079ff 85px,#008aff 90px,#0099ff 95px,#0080ff 100px,#0075ff 105px,#006eff 110px,#0066ff 115px,#005dff 120px,#0061ff 125px,#0068ff 130px,#0071ff 135px,#007bff 140px,#0078ff 145px,#0075ff 150px,#0073ff 155px,#0071ff 160px,#0070ff 165px,#006fff 170px)"></i><i style="left:93px;top:461px;width:171px;height:1px;background:linear-gradient(90deg,#006fff 0px,#006cff 5px,#0069ff 10px,#0066ff 15px,#0062ff 20px,#0060ff 25px,#005dff 30px,#005cff 35px,#005cff 40px,#005fff 45px,#0064ff 50px,#0069ff 55px,#006eff 60px,#0073ff 65px,#0077ff 70px,#007bff 75px,#007fff 80px,#0081ff 85px,#008aff 90px,#0091ff 95px,#007eff 100px,#0077ff 105px,#0072ff 110px,#006cff 115px,#0066ff 120px,#0061ff 125px,#005eff 130px,#005dff 135px,#005cff 140px,#0061ff 145px,#0067ff 150px,#006dff 155px,#0073ff 160px,#006eff 165px,#0068ff 170px)"></i><i style="left:93px;top:462px;width:171px;height:1px;background:linear-gradient(90deg,#006cff 0px,#006cff 5px,#006cff 10px,#006cff 15px,#006cff 20px,#0069ff 25px,#0067ff 30px,#0065ff 35px,#0065ff 40px,#0067ff 45px,#006bff 50px,#006fff 55px,#0073ff 60px,#0075ff 65px,#0076ff 70px,#0076ff 75px,#0077ff 80px,#0077ff 85px,#007bff 90px,#007bff 95px,#006cff 100px,#006aff 105px,#006aff 110px,#006aff 115px,#006bff 120px,#0066ff 125px,#0062ff 130px,#005fff 135px,#005dff 140px,#005eff 145px,#0061ff 150px,#0063ff 155px,#0065ff 160px,#0066ff 165px,#0067ff 170px)"></i><i style="left:93px;top:463px;width:171px;height:1px;background:linear-gradient(90deg,#006eff 0px,#006bff 5px,#0069ff 10px,#0066ff 15px,#0063ff 20px,#0062ff 25px,#0062ff 30px,#0061ff 35px,#0062ff 40px,#0064ff 45px,#0067ff 50px,#006aff 55px,#006cff 60px,#006fff 65px,#0070ff 70px,#0071ff 75px,#0073ff 80px,#0073ff 85px,#0075ff 90px,#0075ff 95px,#006cff 100px,#006bff 105px,#006bff 110px,#006bff 115px,#006cff 120px,#006bff 125px,#006cff 130px,#006eff 135px,#0071ff 140px,#006cff 145px,#0068ff 150px,#0063ff 155px,#005fff 160px,#005bff 165px,#0057ff 170px)"></i><i style="left:93px;top:464px;width:171px;height:1px;background:linear-gradient(90deg,#0071ff 0px,#0070ff 5px,#006eff 10px,#006dff 15px,#006bff 20px,#006cff 25px,#006cff 30px,#006dff 35px,#006fff 40px,#0070ff 45px,#0071ff 50px,#0073ff 55px,#0074ff 60px,#0074ff 65px,#0073ff 70px,#0072ff 75px,#0071ff 80px,#0072ff 85px,#0075ff 90px,#0077ff 95px,#0073ff 100px,#0076ff 105px,#007cff 110px,#0081ff 115px,#0088ff 120px,#0082ff 125px,#007cff 130px,#0076ff 135px,#0071ff 140px,#006dff 145px,#0069ff 150px,#0066ff 155px,#0062ff 160px,#0069ff 165px,#006fff 170px)"></i><i style="left:93px;top:465px;width:171px;height:1px;background:linear-gradient(90deg,#0067ff 0px,#006aff 5px,#006cff 10px,#006eff 15px,#0070ff 20px,#006fff 25px,#006eff 30px,#006dff 35px,#006cff 40px,#006bff 45px,#006bff 50px,#006bff 55px,#006aff 60px,#006eff 65px,#0070ff 70px,#0073ff 75px,#0075ff 80px,#0077ff 85px,#0079ff 90px,#007aff 95px,#0079ff 100px,#0072ff 105px,#006aff 110px,#005eff 115px,#0050ff 120px,#0053ff 125px,#0058ff 130px,#005eff 135px,#0065ff 140px,#0069ff 145px,#006dff 150px,#0071ff 155px,#0076ff 160px,#0073ff 165px,#0071ff 170px)"></i><i style="left:93px;top:466px;width:171px;height:1px;background:linear-gradient(90deg,#006eff 0px,#006cff 5px,#006aff 10px,#0068ff 15px,#0066ff 20px,#0067ff 25px,#0068ff 30px,#006aff 35px,#006cff 40px,#006cff 45px,#006dff 50px,#006eff 55px,#006eff 60px,#0070ff 65px,#0072ff 70px,#0073ff 75px,#0075ff 80px,#0073ff 85px,#0072ff 90px,#0070ff 95px,#006cff 100px,#0070ff 105px,#0075ff 110px,#007bff 115px,#0082ff 120px,#007bff 125px,#0073ff 130px,#006cff 135px,#0064ff 140px,#0064ff 145px,#0065ff 150px,#0065ff 155px,#0065ff 160px,#0065ff 165px,#0064ff 170px)"></i><i style="left:93px;top:467px;width:171px;height:1px;background:linear-gradient(90deg,#006aff 0px,#006aff 5px,#0069ff 10px,#0068ff 15px,#0067ff 20px,#0068ff 25px,#0069ff 30px,#006aff 35px,#006bff 40px,#006cff 45px,#006dff 50px,#006eff 55px,#006fff 60px,#006fff 65px,#006eff 70px,#006dff 75px,#006cff 80px,#006dff 85px,#006fff 90px,#006fff 95px,#006fff 100px,#006fff 105px,#0070ff 110px,#006fff 115px,#006eff 120px,#006eff 125px,#0070ff 130px,#0073ff 135px,#0075ff 140px,#0077ff 145px,#0078ff 150px,#007aff 155px,#007bff 160px,#0074ff 165px,#006cff 170px)"></i><i style="left:93px;top:468px;width:171px;height:1px;background:linear-gradient(90deg,#006eff 0px,#006bff 5px,#0068ff 10px,#0065ff 15px,#0062ff 20px,#0064ff 25px,#0066ff 30px,#0068ff 35px,#006aff 40px,#006dff 45px,#006fff 50px,#0072ff 55px,#0074ff 60px,#0072ff 65px,#006fff 70px,#006dff 75px,#006aff 80px,#0069ff 85px,#0069ff 90px,#0068ff 95px,#0066ff 100px,#0063ff 105px,#005eff 110px,#0058ff 115px,#0050ff 120px,#0054ff 125px,#005aff 130px,#0061ff 135px,#0069ff 140px,#0068ff 145px,#0067ff 150px,#0066ff 155px,#0065ff 160px,#0066ff 165px,#0066ff 170px)"></i><i style="left:93px;top:469px;width:171px;height:1px;background:linear-gradient(90deg,#0063ff 0px,#0064ff 5px,#0066ff 10px,#0067ff 15px,#0068ff 20px,#006bff 25px,#006dff 30px,#006fff 35px,#0072ff 40px,#0072ff 45px,#0073ff 50px,#0073ff 55px,#0073ff 60px,#0071ff 65px,#006eff 70px,#006bff 75px,#0068ff 80px,#0067ff 85px,#0065ff 90px,#0063ff 95px,#0060ff 100px,#0063ff 105px,#0067ff 110px,#006aff 115px,#006eff 120px,#006eff 125px,#006dff 130px,#006dff 135px,#006dff 140px,#006dff 145px,#006cff 150px,#006cff 155px,#006cff 160px,#0068ff 165px,#0064ff 170px)"></i><i style="left:93px;top:470px;width:171px;height:1px;background:linear-gradient(90deg,#0065ff 0px,#0064ff 5px,#0064ff 10px,#0064ff 15px,#0063ff 20px,#0063ff 25px,#0063ff 30px,#0063ff 35px,#0063ff 40px,#0065ff 45px,#0067ff 50px,#0068ff 55px,#006aff 60px,#006aff 65px,#006bff 70px,#006bff 75px,#006bff 80px,#0069ff 85px,#0068ff 90px,#0066ff 95px,#0063ff 100px,#0066ff 105px,#0069ff 110px,#006cff 115px,#006fff 120px,#0071ff 125px,#0074ff 130px,#0078ff 135px,#007bff 140px,#0071ff 145px,#0066ff 150px,#005cff 155px,#0051ff 160px,#0059ff 165px,#0061ff 170px)"></i><i style="left:93px;top:471px;width:171px;height:1px;background:linear-gradient(90deg,#005aff 0px,#005eff 5px,#0062ff 10px,#0066ff 15px,#006aff 20px,#0068ff 25px,#0066ff 30px,#0064ff 35px,#0062ff 40px,#0064ff 45px,#0065ff 50px,#0067ff 55px,#0068ff 60px,#0068ff 65px,#0068ff 70px,#0067ff 75px,#0067ff 80px,#0064ff 85px,#0060ff 90px,#005cff 95px,#0057ff 100px,#0059ff 105px,#005aff 110px,#005cff 115px,#005fff 120px,#0063ff 125px,#0068ff 130px,#006eff 135px,#0074ff 140px,#0074ff 145px,#0074ff 150px,#0074ff 155px,#0074ff 160px,#006cff 165px,#0065ff 170px)"></i><i style="left:93px;top:472px;width:171px;height:1px;background:linear-gradient(90deg,#006dff 0px,#006eff 5px,#006fff 10px,#0070ff 15px,#0072ff 20px,#0072ff 25px,#0073ff 30px,#0073ff 35px,#0074ff 40px,#0074ff 45px,#0074ff 50px,#0074ff 55px,#0074ff 60px,#0073ff 65px,#0073ff 70px,#0072ff 75px,#0072ff 80px,#0072ff 85px,#0071ff 90px,#0071ff 95px,#0071ff 100px,#0071ff 105px,#0070ff 110px,#006eff 115px,#006bff 120px,#0066ff 125px,#0061ff 130px,#005cff 135px,#0058ff 140px,#005cff 145px,#0060ff 150px,#0064ff 155px,#0068ff 160px,#006cff 165px,#0070ff 170px)"></i><i style="left:93px;top:473px;width:171px;height:1px;background:linear-gradient(90deg,#0066ff 0px,#0064ff 5px,#0062ff 10px,#005fff 15px,#005dff 20px,#005fff 25px,#0060ff 30px,#0062ff 35px,#0064ff 40px,#0063ff 45px,#0062ff 50px,#0061ff 55px,#0060ff 60px,#0063ff 65px,#0066ff 70px,#0069ff 75px,#006cff 80px,#0069ff 85px,#0067ff 90px,#0064ff 95px,#0060ff 100px,#0060ff 105px,#0060ff 110px,#005fff 115px,#005dff 120px,#005eff 125px,#0060ff 130px,#0062ff 135px,#0064ff 140px,#0064ff 145px,#0064ff 150px,#0064ff 155px,#0064ff 160px,#0066ff 165px,#0068ff 170px)"></i><i style="left:93px;top:474px;width:171px;height:1px;background:linear-gradient(90deg,#006bff 0px,#006dff 5px,#006eff 10px,#0070ff 15px,#0071ff 20px,#006eff 25px,#006bff 30px,#0068ff 35px,#0065ff 40px,#0067ff 45px,#0069ff 50px,#006bff 55px,#006dff 60px,#0070ff 65px,#0074ff 70px,#0077ff 75px,#007bff 80px,#0078ff 85px,#0075ff 90px,#0071ff 95px,#006eff 100px,#006dff 105px,#006bff 110px,#0067ff 115px,#0062ff 120px,#0064ff 125px,#0066ff 130px,#0068ff 135px,#006bff 140px,#006aff 145px,#0069ff 150px,#0068ff 155px,#0067ff 160px,#0066ff 165px,#0066ff 170px)"></i><i style="left:93px;top:475px;width:171px;height:1px;background:linear-gradient(90deg,#0075ff 0px,#0071ff 5px,#006eff 10px,#006bff 15px,#0067ff 20px,#0067ff 25px,#0066ff 30px,#0065ff 35px,#0065ff 40px,#0068ff 45px,#006aff 50px,#006dff 55px,#0070ff 60px,#0070ff 65px,#0071ff 70px,#0071ff 75px,#0071ff 80px,#0070ff 85px,#006eff 90px,#006dff 95px,#006bff 100px,#006eff 105px,#0071ff 110px,#0073ff 115px,#0075ff 120px,#0072ff 125px,#006eff 130px,#006aff 135px,#0066ff 140px,#006cff 145px,#0072ff 150px,#0078ff 155px,#007eff 160px,#0079ff 165px,#0074ff 170px)"></i><i style="left:93px;top:476px;width:171px;height:1px;background:linear-gradient(90deg,#006eff 0px,#006bff 5px,#0069ff 10px,#0067ff 15px,#0064ff 20px,#0066ff 25px,#0068ff 30px,#0069ff 35px,#006bff 40px,#006bff 45px,#006bff 50px,#006bff 55px,#006bff 60px,#006dff 65px,#006eff 70px,#006fff 75px,#0070ff 80px,#006eff 85px,#006bff 90px,#0069ff 95px,#0066ff 100px,#0063ff 105px,#005fff 110px,#0059ff 115px,#0052ff 120px,#0054ff 125px,#0058ff 130px,#005cff 135px,#0061ff 140px,#0064ff 145px,#0068ff 150px,#006cff 155px,#0071ff 160px,#006fff 165px,#006eff 170px)"></i><i style="left:93px;top:477px;width:171px;height:1px;background:linear-gradient(90deg,#0072ff 0px,#0072ff 5px,#0071ff 10px,#0070ff 15px,#006fff 20px,#006fff 25px,#006fff 30px,#006eff 35px,#006eff 40px,#006eff 45px,#006dff 50px,#006cff 55px,#006bff 60px,#006aff 65px,#0068ff 70px,#0066ff 75px,#0064ff 80px,#0066ff 85px,#0067ff 90px,#0068ff 95px,#006aff 100px,#006aff 105px,#006aff 110px,#0069ff 115px,#0067ff 120px,#0064ff 125px,#0062ff 130px,#005fff 135px,#005cff 140px,#0060ff 145px,#0064ff 150px,#0068ff 155px,#006bff 160px,#0069ff 165px,#0067ff 170px)"></i></div>
<svg width="359" height="550" viewBox="0 0 359 550">
<defs>
<clipPath id="cA"><path d="M18.07,131.40 A84.2,84.2 0 1 1 167.53,131.40 L156.5,131.40 L156.5,121.2 L28.5,121.2 L28.5,131.40 Z"/></clipPath>
<clipPath id="cB"><path d="M189.38,131.60 A84.2,84.2 0 1 1 338.62,131.60 L327.3,131.60 L327.3,121.8 L201.3,121.8 L201.3,131.60 Z"/></clipPath>
<filter id="b1" x="-50%" y="-50%" width="200%" height="200%"><feGaussianBlur stdDeviation="1"/></filter>
<filter id="b15" x="-50%" y="-50%" width="200%" height="200%"><feGaussianBlur stdDeviation="1.5"/></filter>
<filter id="b2" x="-50%" y="-50%" width="200%" height="200%"><feGaussianBlur stdDeviation="2"/></filter>
<filter id="b4" x="-50%" y="-50%" width="200%" height="200%"><feGaussianBlur stdDeviation="4"/></filter>
<filter id="b7" x="-50%" y="-50%" width="200%" height="200%"><feGaussianBlur stdDeviation="7"/></filter>
<linearGradient id="gh" x1="0" y1="0" x2="1" y2="0"><stop offset="0.000" stop-color="#0a0abe"/><stop offset="0.036" stop-color="#0615db"/><stop offset="0.071" stop-color="#0120f8"/><stop offset="0.107" stop-color="#0034ff"/><stop offset="0.143" stop-color="#004bff"/><stop offset="0.179" stop-color="#0061ff"/><stop offset="0.214" stop-color="#0077ff"/><stop offset="0.250" stop-color="#008dff"/><stop offset="0.286" stop-color="#00a4fe"/><stop offset="0.321" stop-color="#00bbfc"/><stop offset="0.357" stop-color="#00d3fa"/><stop offset="0.393" stop-color="#02e8f6"/><stop offset="0.429" stop-color="#1aeee3"/><stop offset="0.464" stop-color="#32f3d0"/><stop offset="0.500" stop-color="#4cf5b6"/><stop offset="0.536" stop-color="#67f596"/><stop offset="0.571" stop-color="#83f577"/><stop offset="0.607" stop-color="#9ff35b"/><stop offset="0.643" stop-color="#bbf13f"/><stop offset="0.679" stop-color="#d4ed26"/><stop offset="0.714" stop-color="#eae610"/><stop offset="0.750" stop-color="#fadb00"/><stop offset="0.786" stop-color="#fcc400"/><stop offset="0.821" stop-color="#fdad00"/><stop offset="0.857" stop-color="#ff9600"/><stop offset="0.893" stop-color="#fe7a05"/><stop offset="0.929" stop-color="#fc5e0a"/><stop offset="0.964" stop-color="#f7470d"/><stop offset="1.000" stop-color="#f0320f"/></linearGradient>
<linearGradient id="gv" x1="0" y1="1" x2="0" y2="0"><stop offset="0.000" stop-color="#0a0abe"/><stop offset="0.036" stop-color="#0615db"/><stop offset="0.071" stop-color="#0120f8"/><stop offset="0.107" stop-color="#0034ff"/><stop offset="0.143" stop-color="#004bff"/><stop offset="0.179" stop-color="#0061ff"/><stop offset="0.214" stop-color="#0077ff"/><stop offset="0.250" stop-color="#008dff"/><stop offset="0.286" stop-color="#00a4fe"/><stop offset="0.321" stop-color="#00bbfc"/><stop offset="0.357" stop-color="#00d3fa"/><stop offset="0.393" stop-color="#02e8f6"/><stop offset="0.429" stop-color="#1aeee3"/><stop offset="0.464" stop-color="#32f3d0"/><stop offset="0.500" stop-color="#4cf5b6"/><stop offset="0.536" stop-color="#67f596"/><stop offset="0.571" stop-color="#83f577"/><stop offset="0.607" stop-color="#9ff35b"/><stop offset="0.643" stop-color="#bbf13f"/><stop offset="0.679" stop-color="#d4ed26"/><stop offset="0.714" stop-color="#eae610"/><stop offset="0.750" stop-color="#fadb00"/><stop offset="0.786" stop-color="#fcc400"/><stop offset="0.821" stop-color="#fdad00"/><stop offset="0.857" stop-color="#ff9600"/><stop offset="0.893" stop-color="#fe7a05"/><stop offset="0.929" stop-color="#fc5e0a"/><stop offset="0.964" stop-color="#f7470d"/><stop offset="1.000" stop-color="#f0320f"/></linearGradient>
</defs>
<g fill="none" stroke-width="1" shape-rendering="crispEdges">
<path d="M8.5,8 V179" stroke="#8a8a8a"/>
<path d="M8,7.5 H177.5" stroke="#eeeeee"/>
<path d="M177.5,8 V348" stroke="#d4d4d4"/>
<path d="M178,8.5 H349" stroke="#a8a8a8"/>
<path d="M349,8 V178" stroke="#d8d8d8" stroke-width="1.4"/>
<path d="M8,179.5 H177" stroke="#c8c8c8"/>
<path d="M179,178.5 H349" stroke="#a8a8a8"/>
<path d="M349,178 V348" stroke="#d8d8d8" stroke-width="1.4"/>
<path d="M8,348.5 H178" stroke="#b0b0b0"/>
<path d="M178,347.5 H350" stroke="#c0c0c0"/>
<path d="M93,355.5 H263.5 V524.5 H93.5 V355" stroke="#858585"/>
<path d="M50.5,8 v2 M135.5,8 v2 M50.5,179 v-2 M135.5,179 v-2 M9,50.5 h2 M9,135.5 h2 M221.5,9 v2 M306.5,9 v2 M178,50.5 h2 M178,135.5 h2 M348,50.5 h-2 M348,135.5 h-2 M50.5,348 v-2 M135.5,348 v-2 M8,221.5 h1.5 M8,305.5 h1.5 M221.5,179 v2 M306.5,179 v2 M221.5,347 v-2 M306.5,347 v-2 M178,221.5 h2 M178,305.5 h2 M348,221.5 h-2 M348,305.5 h-2" stroke="#999" stroke-width="0.8"/>
<path d="M93.4,524 v-2 M93.4,356 v2 M94,524.0 h2 M263,524.0 h-2 M135.8,524 v-2 M135.8,356 v2 M94,481.9 h2 M263,481.9 h-2 M178.2,524 v-2 M178.2,356 v2 M94,439.7 h2 M263,439.7 h-2 M220.6,524 v-2 M220.6,356 v2 M94,397.6 h2 M263,397.6 h-2 M263.0,524 v-2 M263.0,356 v2 M94,355.4 h2 M263,355.4 h-2" stroke="#666" stroke-width="0.6"/>
</g>
<linearGradient id="fa" x1="0" y1="0" x2="0" y2="1"><stop offset="0" stop-color="#fff" stop-opacity="0"/><stop offset="0.35" stop-color="#fdd" stop-opacity="0.25"/><stop offset="0.7" stop-color="#fff" stop-opacity="0.65"/><stop offset="1" stop-color="#fff" stop-opacity="0.92"/></linearGradient>
<linearGradient id="ra" x1="0" y1="0" x2="0" y2="135" gradientUnits="userSpaceOnUse"><stop offset="0.06" stop-color="#e43a28"/><stop offset="0.45" stop-color="#e8402b"/><stop offset="0.7" stop-color="#eb4a33"/><stop offset="0.85" stop-color="#ed553d"/><stop offset="1" stop-color="#ec5a44"/></linearGradient>
<g clip-path="url(#cA)">
<rect x="0" y="0" width="180" height="135" fill="url(#ra)"/>
<ellipse cx="55" cy="95" rx="35" ry="20" fill="#f06550" opacity="0.45" filter="url(#b7)"/>
<ellipse cx="112" cy="100" rx="38" ry="14" fill="#f47a60" opacity="0.7" filter="url(#b7)"/>
<ellipse cx="70" cy="104" rx="30" ry="8" fill="#f48a70" opacity="0.4" filter="url(#b4)"/>
<ellipse cx="125" cy="82" rx="34" ry="32" fill="#f0604a" opacity="0.55" filter="url(#b7)"/>
<ellipse cx="150" cy="60" rx="20" ry="40" fill="#de3024" opacity="0.5" filter="url(#b7)"/>
<ellipse cx="90" cy="25" rx="40" ry="12" fill="#e84838" opacity="0.4" filter="url(#b7)"/>
<path d="M72,25 Q95,31 117,35" fill="none" stroke="#f7a898" stroke-width="2.6" opacity="0.55" filter="url(#b2)"/>
<path d="M115,38 Q125,43 133,50" fill="none" stroke="#f7a898" stroke-width="2.4" opacity="0.5" filter="url(#b2)"/>
<path d="M119,35 Q124,31 129,30" fill="none" stroke="#9a1a14" stroke-width="3" opacity="0.7" filter="url(#b2)"/>
<path d="M65,83 Q75,86 84,92" fill="none" stroke="#f6a090" stroke-width="2.2" opacity="0.45" filter="url(#b2)"/>
<path d="M45,104 Q60,96 70,95" fill="none" stroke="#f6a090" stroke-width="2.2" opacity="0.4" filter="url(#b2)"/>
<path d="M110,45 Q118,60 120,72" fill="none" stroke="#f39080" stroke-width="2" opacity="0.3" filter="url(#b2)"/>
<path d="M130,60 Q140,70 150,85" fill="none" stroke="#f39080" stroke-width="2" opacity="0.25" filter="url(#b2)"/>
<path d="M95,70 Q105,90 110,108" fill="none" stroke="#f39080" stroke-width="2" opacity="0.25" filter="url(#b2)"/>
<path d="M30,70 Q40,80 44,95" fill="none" stroke="#f39080" stroke-width="2" opacity="0.22" filter="url(#b2)"/>
<path d="M140,100 Q150,95 160,100" fill="none" stroke="#f39080" stroke-width="2" opacity="0.3" filter="url(#b2)"/>
<rect x="28" y="108" width="129" height="15" fill="url(#fa)" filter="url(#b2)"/>
<rect x="27" y="118" width="3" height="14" fill="#fff" opacity="0.5" filter="url(#b1)"/>
</g>
<path d="M29,121.5 H156" stroke="#c9a8a4" stroke-width="0.8" fill="none"/>
<g clip-path="url(#cB)">
<rect x="170" y="0" width="190" height="140" fill="#4c95cd"/>
<ellipse cx="230" cy="70" rx="30" ry="40" fill="#4a92cf" opacity="0.5" filter="url(#b7)"/>
<ellipse cx="310" cy="90" rx="25" ry="30" fill="#4286c6" opacity="0.5" filter="url(#b7)"/>
<ellipse cx="250" cy="112" rx="45" ry="8" fill="#62a2d8" opacity="0.5" filter="url(#b4)"/>
<ellipse cx="192" cy="126" rx="6" ry="6" fill="#2f6fb5" opacity="0.6" filter="url(#b2)"/>
<ellipse cx="329.5" cy="126" rx="2.5" ry="6.5" fill="#1a52a0" opacity="0.9" filter="url(#b1)"/>
<path d="M218,19 Q236,50 219,110" fill="none" stroke="#8cc0e8" stroke-width="3.2" opacity="0.28" filter="url(#b15)"/>
<path d="M245,19 Q275,55 281,115" fill="none" stroke="#8cc0e8" stroke-width="3.2" opacity="0.28" filter="url(#b15)"/>
<path d="M235,29 Q262,70 250,110" fill="none" stroke="#2f6cb4" stroke-width="3.0" opacity="0.28" filter="url(#b15)"/>
<path d="M274,24 Q298,55 302,96" fill="none" stroke="#8cc0e8" stroke-width="3.2" opacity="0.25" filter="url(#b15)"/>
<path d="M207,48 Q200,75 202,96" fill="none" stroke="#8cc0e8" stroke-width="3.0" opacity="0.25" filter="url(#b15)"/>
<path d="M307,62 Q318,85 322,105" fill="none" stroke="#8cc0e8" stroke-width="3.0" opacity="0.25" filter="url(#b15)"/>
<path d="M228,95 C226,105 232,112 230,120" fill="none" stroke="#2f6cb4" stroke-width="2.8000000000000003" opacity="0.32" filter="url(#b15)"/>
<path d="M266,70 C262,90 270,105 266,121" fill="none" stroke="#8cc0e8" stroke-width="3.2" opacity="0.32" filter="url(#b15)"/>
<path d="M279,85 C276,100 283,110 279,121" fill="none" stroke="#2a64ae" stroke-width="3.2" opacity="0.55" filter="url(#b15)"/>
<path d="M289,75 C292,95 286,105 292,121" fill="none" stroke="#8cc0e8" stroke-width="3.2" opacity="0.28" filter="url(#b15)"/>
<path d="M299,90 C296,105 301,112 298,121" fill="none" stroke="#2f6cb4" stroke-width="2.8000000000000003" opacity="0.32" filter="url(#b15)"/>
<path d="M310,80 C314,100 308,110 312,121" fill="none" stroke="#8cc0e8" stroke-width="3.0" opacity="0.25" filter="url(#b15)"/>
<path d="M288,31 Q294,34 298,33" fill="none" stroke="#235aa6" stroke-width="3.6" opacity="0.7" filter="url(#b15)"/>
<path d="M205,110 C212,106 220,108 226,104" fill="none" stroke="#a8d0ee" stroke-width="3.6" opacity="0.32" filter="url(#b15)"/>
<path d="M205,118 L230,103" stroke="#cfe3f5" stroke-width="4" opacity="0.35" filter="url(#b2)" fill="none"/>
<path d="M199.6,132 L199.6,122 Q200,118.6 204,118.2 L209,118" stroke="#fff" stroke-width="2.2" opacity="0.95" filter="url(#b1)" fill="none"/>
</g>
<path d="M189.38,131.60 A84.2,84.2 0 1 1 338.62,131.60 L327.3,131.60 L327.3,121.8 L201.3,121.8 L201.3,131.60 Z" fill="none" stroke="#2a64ad" stroke-width="1" clip-path="url(#cB)"/>
<rect x="11.7" y="337.4" width="162.3" height="7.3" fill="url(#gh)"/>
<rect x="183.5" y="337.4" width="162" height="7.3" fill="url(#gh)"/>
<rect x="271.8" y="355" width="7" height="169.4" fill="url(#gv)" stroke="#333" stroke-width="0.5"/>
<path d="M11.7,337.4 v1.2 M183.5,337.4 v1.2 M278.8,524.4 h-1.5 M34.9,337.4 v1.2 M206.6,337.4 v1.2 M278.8,500.2 h-1.5 M58.1,337.4 v1.2 M229.8,337.4 v1.2 M278.8,476.0 h-1.5 M81.3,337.4 v1.2 M252.9,337.4 v1.2 M278.8,451.8 h-1.5 M104.4,337.4 v1.2 M276.1,337.4 v1.2 M278.8,427.6 h-1.5 M127.6,337.4 v1.2 M299.2,337.4 v1.2 M278.8,403.4 h-1.5 M150.8,337.4 v1.2 M322.4,337.4 v1.2 M278.8,379.2 h-1.5 M174.0,337.4 v1.2 M345.5,337.4 v1.2 M278.8,355.0 h-1.5" stroke="#333" stroke-width="0.6" fill="none"/>
<text x="10.1" y="20.4" font-size="13.4">(A)</text>
<text x="181.5" y="20.4" font-size="13.4">(B)</text>
<text x="9.9" y="191.7" font-size="13.4">(C)</text>
<text x="182" y="191.7" font-size="13.4">(D)</text>
<text x="95.6" y="366.7" font-size="13.4">(E)</text>
<text x="11.7" y="334" font-size="6.7" text-anchor="middle">0</text>
<text x="183.5" y="334" font-size="6.7" text-anchor="middle">0</text>
<text x="281.2" y="526.8" font-size="7">0</text>
<text x="34.9" y="334" font-size="6.7" text-anchor="middle">20</text>
<text x="206.6" y="334" font-size="6.7" text-anchor="middle">20</text>
<text x="281.2" y="502.6" font-size="7">20</text>
<text x="58.1" y="334" font-size="6.7" text-anchor="middle">40</text>
<text x="229.8" y="334" font-size="6.7" text-anchor="middle">40</text>
<text x="281.2" y="478.4" font-size="7">40</text>
<text x="81.3" y="334" font-size="6.7" text-anchor="middle">60</text>
<text x="252.9" y="334" font-size="6.7" text-anchor="middle">60</text>
<text x="281.2" y="454.2" font-size="7">60</text>
<text x="104.4" y="334" font-size="6.7" text-anchor="middle">80</text>
<text x="276.1" y="334" font-size="6.7" text-anchor="middle">80</text>
<text x="281.2" y="430.0" font-size="7">80</text>
<text x="127.6" y="334" font-size="6.7" text-anchor="middle">100</text>
<text x="299.2" y="334" font-size="6.7" text-anchor="middle">100</text>
<text x="281.2" y="405.8" font-size="7">100</text>
<text x="150.8" y="334" font-size="6.7" text-anchor="middle">120</text>
<text x="322.4" y="334" font-size="6.7" text-anchor="middle">120</text>
<text x="281.2" y="381.6" font-size="7">120</text>
<text x="174.0" y="334" font-size="6.7" text-anchor="middle">140</text>
<text x="345.5" y="334" font-size="6.7" text-anchor="middle">140</text>
<text x="281.2" y="357.4" font-size="7">140</text>
<text x="91.2" y="526.4" font-size="7.4" text-anchor="end">0</text>
<text x="91.2" y="484.2" font-size="7.4" text-anchor="end">37</text>
<text x="91.2" y="442.1" font-size="7.4" text-anchor="end">74</text>
<text x="91.2" y="399.9" font-size="7.4" text-anchor="end">111</text>
<text x="91.2" y="357.8" font-size="7.4" text-anchor="end">148</text>
<text x="92.2" y="532.8" font-size="6.8" text-anchor="middle">−74</text>
<text x="134.6" y="532.8" font-size="6.8" text-anchor="middle">−37</text>
<text x="177.0" y="532.8" font-size="6.8" text-anchor="middle">0</text>
<text x="219.4" y="532.8" font-size="6.8" text-anchor="middle">37</text>
<text x="261.8" y="532.8" font-size="6.8" text-anchor="middle">74</text>
<text x="177" y="542.8" font-size="7.8" text-anchor="middle">x [mm]</text>
<text transform="translate(77.8,440) rotate(-90)" font-size="7.8" text-anchor="middle">y [mm]</text>
<text transform="translate(302,431.6) rotate(-90)" font-size="7.2" text-anchor="middle">Temperature °C</text>
</svg></body></html>
